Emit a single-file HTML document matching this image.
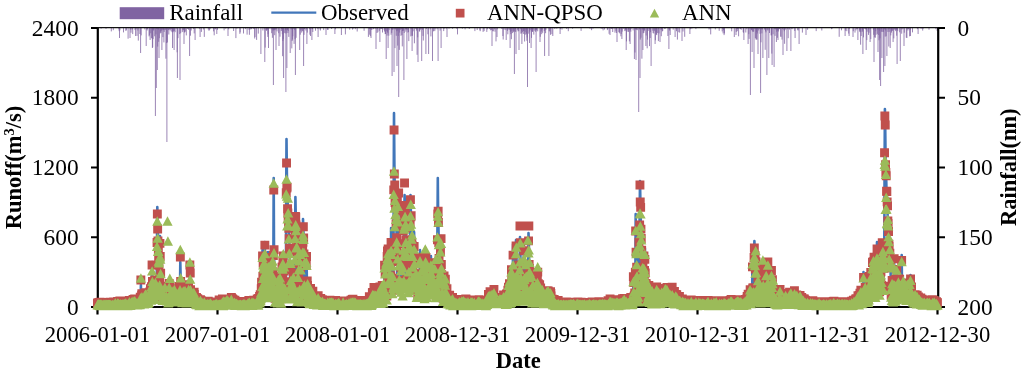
<!DOCTYPE html>
<html><head><meta charset="utf-8"><title>Runoff chart</title>
<style>html,body{margin:0;padding:0;background:#fff;}body{width:1024px;height:375px;overflow:hidden;position:relative}</style>
</head><body>
<svg width="1024" height="375" viewBox="0 0 1024 375" style="position:absolute;left:0;top:0">
<rect width="1024" height="375" fill="#fff"/>
<path d="M101.1 28.0v0.7M106.0 28.0v0.9M111.3 28.0v3.4M113.3 28.0v2.2M118.9 28.0v1.3M119.2 28.0v3.2M119.5 28.0v10.0M119.9 28.0v2.3M123.5 28.0v4.4M125.8 28.0v2.8M126.4 28.0v2.3M128.1 28.0v10.7M130.0 28.0v10.0M130.7 28.0v1.7M131.0 28.0v4.7M132.3 28.0v1.5M132.7 28.0v6.1M135.0 28.0v2.1M135.6 28.0v8.0M136.0 28.0v1.2M137.0 28.0v7.9M137.9 28.0v2.5M138.3 28.0v12.6M139.9 28.0v6.0M140.6 28.0v25.0M141.2 28.0v7.4M144.8 28.0v1.4M146.2 28.0v18.0M146.8 28.0v1.4M147.1 28.0v2.5M147.5 28.0v1.1M149.1 28.0v8.4M149.4 28.0v7.3M150.1 28.0v12.0M150.8 28.0v5.3M151.4 28.0v10.1M152.1 28.0v10.5M152.4 28.0v20.0M152.7 28.0v19.2M153.1 28.0v11.1M153.4 28.0v1.8M153.7 28.0v2.7M154.0 28.0v1.4M154.7 28.0v8.3M155.4 28.0v88.0M156.0 28.0v6.4M156.3 28.0v60.0M156.7 28.0v0.9M157.0 28.0v0.7M157.3 28.0v42.0M157.7 28.0v18.6M158.0 28.0v0.9M158.3 28.0v1.8M158.7 28.0v13.8M159.0 28.0v30.0M159.3 28.0v10.2M160.3 28.0v5.4M160.6 28.0v3.6M161.0 28.0v4.9M161.6 28.0v2.7M161.9 28.0v22.0M162.3 28.0v1.7M162.9 28.0v9.1M163.3 28.0v2.1M163.6 28.0v1.7M163.9 28.0v14.4M164.2 28.0v3.9M164.9 28.0v2.0M165.6 28.0v1.7M165.9 28.0v30.7M166.5 28.0v15.1M166.9 28.0v114.0M167.2 28.0v0.9M167.5 28.0v14.5M168.5 28.0v2.1M168.8 28.0v6.5M169.5 28.0v1.0M169.8 28.0v2.2M170.5 28.0v1.5M171.1 28.0v3.3M171.5 28.0v0.9M172.1 28.0v4.2M172.5 28.0v20.0M172.8 28.0v4.3M173.1 28.0v2.4M173.4 28.0v3.5M174.1 28.0v22.0M174.4 28.0v2.9M175.1 28.0v4.2M176.1 28.0v0.9M177.1 28.0v24.3M177.4 28.0v50.0M178.0 28.0v10.1M179.7 28.0v6.1M180.0 28.0v52.0M180.7 28.0v5.2M182.3 28.0v4.1M183.0 28.0v2.4M183.3 28.0v2.0M184.0 28.0v16.0M184.3 28.0v4.0M184.6 28.0v4.6M185.3 28.0v3.7M186.3 28.0v7.4M187.6 28.0v0.9M188.2 28.0v0.8M188.6 28.0v1.8M189.6 28.0v28.0M190.5 28.0v7.7M191.2 28.0v2.5M193.5 28.0v0.9M194.2 28.0v5.4M195.1 28.0v12.0M199.4 28.0v0.8M200.1 28.0v9.0M201.4 28.0v3.9M203.4 28.0v1.5M204.3 28.0v8.9M208.3 28.0v1.6M209.0 28.0v2.8M209.6 28.0v1.9M210.3 28.0v0.7M213.6 28.0v3.4M213.9 28.0v0.9M214.2 28.0v7.3M215.5 28.0v1.3M216.8 28.0v6.0M217.5 28.0v1.8M224.1 28.0v2.4M225.7 28.0v0.7M228.0 28.0v8.0M228.7 28.0v1.3M233.6 28.0v3.0M235.9 28.0v10.1M236.9 28.0v0.6M239.9 28.0v5.9M240.2 28.0v4.4M243.5 28.0v5.5M245.4 28.0v1.1M247.1 28.0v6.6M249.1 28.0v1.9M249.4 28.0v6.8M250.7 28.0v1.4M251.4 28.0v1.1M253.3 28.0v0.9M254.3 28.0v0.8M254.7 28.0v10.5M255.0 28.0v9.0M256.6 28.0v11.9M258.3 28.0v5.6M260.9 28.0v26.0M262.9 28.0v2.5M264.2 28.0v0.6M264.8 28.0v34.0M265.2 28.0v19.6M266.2 28.0v2.0M266.5 28.0v2.8M266.8 28.0v1.1M267.5 28.0v1.7M267.8 28.0v8.9M268.1 28.0v6.2M268.5 28.0v20.0M269.1 28.0v0.8M271.1 28.0v1.3M271.7 28.0v5.2M272.4 28.0v9.8M272.7 28.0v1.4M273.1 28.0v2.6M273.4 28.0v57.0M273.7 28.0v2.1M274.0 28.0v1.0M274.4 28.0v1.7M274.7 28.0v7.2M275.0 28.0v2.3M275.4 28.0v1.3M276.0 28.0v22.0M276.7 28.0v1.3M277.0 28.0v3.4M278.7 28.0v5.2M279.0 28.0v18.0M280.0 28.0v8.7M281.3 28.0v3.0M281.6 28.0v1.3M282.3 28.0v6.2M282.6 28.0v28.2M282.9 28.0v13.0M283.3 28.0v10.9M283.6 28.0v50.0M284.2 28.0v4.9M285.2 28.0v5.4M285.6 28.0v2.2M285.9 28.0v64.0M286.2 28.0v5.3M286.9 28.0v40.0M287.2 28.0v2.0M287.5 28.0v1.7M287.9 28.0v5.0M288.2 28.0v3.0M288.8 28.0v8.9M290.2 28.0v25.0M291.1 28.0v1.4M291.8 28.0v20.4M292.1 28.0v13.0M292.5 28.0v11.6M292.8 28.0v8.3M293.8 28.0v1.0M294.1 28.0v15.9M294.8 28.0v2.1M295.1 28.0v11.1M295.4 28.0v47.0M296.1 28.0v9.8M299.7 28.0v22.0M300.3 28.0v6.7M300.7 28.0v2.5M301.7 28.0v4.6M302.0 28.0v1.7M302.3 28.0v3.1M303.0 28.0v3.2M303.6 28.0v38.0M304.0 28.0v6.8M304.3 28.0v1.2M304.6 28.0v1.0M305.9 28.0v2.5M306.3 28.0v0.8M306.9 28.0v16.0M307.3 28.0v4.6M309.6 28.0v1.2M309.9 28.0v6.7M310.5 28.0v8.0M311.9 28.0v12.0M312.2 28.0v1.1M312.5 28.0v1.1M312.8 28.0v4.0M315.5 28.0v2.7M317.8 28.0v0.8M318.1 28.0v9.0M320.1 28.0v1.4M320.4 28.0v2.5M323.7 28.0v2.1M326.0 28.0v7.0M327.6 28.0v1.8M328.0 28.0v1.9M331.6 28.0v1.0M334.9 28.0v6.0M335.5 28.0v1.3M341.4 28.0v7.0M345.4 28.0v6.4M349.7 28.0v1.7M352.6 28.0v1.7M353.0 28.0v0.9M355.3 28.0v1.2M357.2 28.0v3.5M364.1 28.0v2.8M368.4 28.0v8.9M369.4 28.0v0.9M369.7 28.0v6.7M370.0 28.0v0.6M370.4 28.0v8.2M370.7 28.0v1.0M371.0 28.0v10.0M371.7 28.0v2.0M373.0 28.0v1.3M373.7 28.0v1.0M374.0 28.0v0.6M375.6 28.0v0.7M376.0 28.0v21.0M377.0 28.0v5.0M377.3 28.0v0.9M377.9 28.0v4.2M379.3 28.0v2.8M379.9 28.0v14.0M380.6 28.0v1.1M381.6 28.0v1.0M382.2 28.0v0.6M382.5 28.0v4.5M384.2 28.0v1.9M384.5 28.0v3.5M385.2 28.0v6.1M385.5 28.0v6.0M386.2 28.0v31.0M386.8 28.0v3.2M387.1 28.0v7.6M387.5 28.0v3.8M387.8 28.0v5.1M388.1 28.0v20.0M388.8 28.0v7.7M389.1 28.0v2.1M391.1 28.0v6.7M391.4 28.0v1.6M391.7 28.0v4.9M392.1 28.0v48.0M392.4 28.0v0.7M392.7 28.0v2.1M393.1 28.0v1.2M394.0 28.0v44.0M394.4 28.0v0.8M395.0 28.0v20.1M395.4 28.0v1.4M396.0 28.0v0.6M396.3 28.0v7.8M396.7 28.0v3.3M397.0 28.0v38.0M397.3 28.0v2.4M397.7 28.0v17.6M398.0 28.0v2.6M398.3 28.0v7.9M398.7 28.0v69.0M399.3 28.0v21.9M399.6 28.0v4.6M400.0 28.0v2.0M400.3 28.0v1.4M401.0 28.0v7.8M401.6 28.0v0.9M401.9 28.0v7.0M402.3 28.0v18.4M402.6 28.0v3.0M402.9 28.0v2.9M403.3 28.0v2.5M403.9 28.0v52.0M404.2 28.0v5.0M405.6 28.0v1.4M405.9 28.0v3.7M406.2 28.0v1.4M406.5 28.0v1.0M406.9 28.0v31.0M407.2 28.0v1.8M407.9 28.0v4.6M408.5 28.0v4.0M408.8 28.0v13.1M410.8 28.0v8.4M411.1 28.0v1.2M411.8 28.0v7.8M412.1 28.0v23.0M412.5 28.0v7.8M413.1 28.0v3.3M414.4 28.0v15.3M415.7 28.0v0.9M416.4 28.0v2.7M416.7 28.0v1.2M417.1 28.0v26.8M417.7 28.0v9.3M418.0 28.0v34.0M419.4 28.0v3.1M419.7 28.0v3.7M420.3 28.0v1.8M421.0 28.0v0.8M421.7 28.0v33.0M422.7 28.0v1.9M423.0 28.0v7.9M423.3 28.0v12.5M425.9 28.0v26.0M426.3 28.0v1.0M427.9 28.0v6.3M428.6 28.0v26.0M430.2 28.0v1.4M430.9 28.0v8.4M432.5 28.0v33.0M433.5 28.0v3.3M434.8 28.0v3.1M435.1 28.0v1.3M437.1 28.0v1.3M438.1 28.0v33.0M440.1 28.0v2.6M441.1 28.0v20.0M443.7 28.0v3.1M444.0 28.0v0.9M446.3 28.0v0.6M447.0 28.0v9.0M449.0 28.0v0.7M452.6 28.0v0.9M456.8 28.0v0.8M457.5 28.0v6.4M462.4 28.0v0.7M465.1 28.0v1.4M469.3 28.0v1.0M474.9 28.0v3.1M477.2 28.0v2.0M479.9 28.0v2.2M480.2 28.0v3.2M483.1 28.0v3.9M483.8 28.0v1.3M484.1 28.0v3.1M486.8 28.0v3.9M487.4 28.0v1.3M489.4 28.0v1.0M490.4 28.0v2.3M491.4 28.0v2.0M492.0 28.0v18.0M492.7 28.0v3.2M493.3 28.0v3.3M494.7 28.0v1.3M495.0 28.0v3.7M496.0 28.0v13.4M497.0 28.0v9.0M497.3 28.0v1.3M501.9 28.0v1.0M502.9 28.0v8.0M503.2 28.0v11.5M504.2 28.0v1.7M505.8 28.0v2.1M506.2 28.0v12.0M507.5 28.0v2.8M507.8 28.0v6.3M508.8 28.0v1.6M509.8 28.0v1.8M510.1 28.0v20.0M510.4 28.0v3.8M510.8 28.0v6.2M511.1 28.0v3.2M511.4 28.0v11.2M512.4 28.0v5.1M513.1 28.0v2.5M513.4 28.0v4.2M514.0 28.0v3.0M514.4 28.0v46.0M515.0 28.0v3.7M515.4 28.0v1.2M515.7 28.0v3.8M516.0 28.0v26.0M517.7 28.0v1.9M518.0 28.0v3.4M518.3 28.0v1.1M518.7 28.0v3.1M519.0 28.0v22.0M520.3 28.0v1.2M521.0 28.0v5.8M521.3 28.0v5.1M521.6 28.0v2.9M521.9 28.0v16.0M522.6 28.0v4.3M523.3 28.0v6.0M523.6 28.0v2.9M523.9 28.0v3.0M524.6 28.0v13.5M524.9 28.0v6.5M525.2 28.0v3.8M525.9 28.0v6.5M526.2 28.0v1.6M526.5 28.0v5.6M526.9 28.0v12.8M527.2 28.0v9.4M527.5 28.0v59.0M528.8 28.0v5.7M529.2 28.0v0.8M529.5 28.0v15.0M529.8 28.0v3.6M530.2 28.0v2.1M531.1 28.0v20.0M531.5 28.0v9.9M531.8 28.0v1.1M532.1 28.0v2.8M532.5 28.0v3.9M532.8 28.0v3.5M533.1 28.0v1.5M533.8 28.0v6.6M534.8 28.0v2.7M535.4 28.0v2.3M535.7 28.0v3.9M536.1 28.0v44.0M536.4 28.0v2.4M536.7 28.0v1.7M537.7 28.0v3.3M540.0 28.0v14.0M540.3 28.0v8.8M541.3 28.0v3.5M541.7 28.0v6.2M542.0 28.0v1.8M542.7 28.0v4.8M544.3 28.0v3.0M544.6 28.0v28.0M545.0 28.0v2.1M545.6 28.0v5.2M545.9 28.0v1.8M548.9 28.0v28.0M549.2 28.0v3.1M549.9 28.0v3.5M550.2 28.0v1.2M550.5 28.0v6.8M551.9 28.0v6.2M552.8 28.0v8.0M554.8 28.0v1.0M556.8 28.0v0.8M560.1 28.0v6.0M560.4 28.0v1.1M562.0 28.0v1.6M566.7 28.0v1.0M568.3 28.0v3.2M572.6 28.0v0.8M581.1 28.0v2.9M590.0 28.0v0.8M591.6 28.0v2.2M593.0 28.0v0.7M601.2 28.0v0.8M602.5 28.0v0.6M603.1 28.0v2.4M604.5 28.0v1.5M607.4 28.0v2.1M607.7 28.0v1.0M609.1 28.0v5.8M610.0 28.0v7.0M611.0 28.0v0.9M611.7 28.0v0.6M612.0 28.0v1.0M612.7 28.0v4.0M614.0 28.0v0.7M615.0 28.0v4.7M616.0 28.0v3.2M616.3 28.0v1.3M616.6 28.0v5.0M617.0 28.0v14.0M618.9 28.0v4.3M619.3 28.0v3.9M619.6 28.0v5.3M619.9 28.0v0.7M620.9 28.0v8.3M621.2 28.0v6.0M621.9 28.0v11.0M622.2 28.0v3.6M623.5 28.0v0.7M624.8 28.0v3.1M625.2 28.0v1.2M625.5 28.0v2.5M625.8 28.0v0.9M626.2 28.0v22.0M626.5 28.0v13.4M627.1 28.0v3.8M628.1 28.0v2.3M628.5 28.0v3.9M628.8 28.0v1.0M629.4 28.0v13.4M630.1 28.0v16.0M630.4 28.0v2.2M630.8 28.0v3.7M631.1 28.0v0.7M633.1 28.0v2.4M634.4 28.0v31.0M635.0 28.0v24.5M635.4 28.0v1.5M636.0 28.0v32.0M636.3 28.0v1.4M636.7 28.0v1.9M637.7 28.0v2.2M638.7 28.0v84.0M639.6 28.0v1.5M640.0 28.0v50.0M640.3 28.0v11.6M641.0 28.0v9.7M641.9 28.0v30.7M642.3 28.0v1.6M642.9 28.0v22.0M643.3 28.0v5.2M643.6 28.0v1.6M643.9 28.0v4.8M644.2 28.0v2.9M644.6 28.0v2.1M645.9 28.0v18.0M646.2 28.0v7.5M647.2 28.0v20.3M647.5 28.0v11.6M648.2 28.0v2.9M649.2 28.0v1.0M649.5 28.0v18.1M649.8 28.0v1.2M650.2 28.0v10.0M650.5 28.0v4.2M651.1 28.0v38.0M652.8 28.0v2.7M653.1 28.0v5.1M653.8 28.0v5.5M654.4 28.0v2.8M655.1 28.0v16.0M655.4 28.0v12.3M656.1 28.0v4.3M656.4 28.0v6.4M656.7 28.0v7.1M657.7 28.0v5.0M658.4 28.0v13.1M658.7 28.0v0.6M659.0 28.0v5.4M660.0 28.0v14.0M661.0 28.0v1.9M661.3 28.0v8.2M661.7 28.0v1.3M662.3 28.0v3.4M662.7 28.0v3.0M664.6 28.0v0.8M665.3 28.0v0.7M667.9 28.0v8.0M668.9 28.0v21.0M669.2 28.0v1.6M669.6 28.0v2.6M670.2 28.0v7.0M673.2 28.0v1.7M675.1 28.0v9.0M676.1 28.0v0.7M676.5 28.0v3.2M677.4 28.0v11.6M678.8 28.0v4.2M679.7 28.0v4.6M682.0 28.0v13.0M683.0 28.0v3.5M684.7 28.0v8.8M689.9 28.0v6.0M690.6 28.0v1.2M691.9 28.0v0.6M695.9 28.0v1.1M709.0 28.0v1.5M710.0 28.0v0.7M710.7 28.0v6.4M715.3 28.0v1.4M719.2 28.0v2.8M722.2 28.0v3.4M722.8 28.0v0.7M723.1 28.0v5.4M723.5 28.0v2.2M724.1 28.0v7.1M724.5 28.0v5.5M731.4 28.0v0.6M731.7 28.0v3.3M734.3 28.0v9.0M736.0 28.0v7.0M736.3 28.0v3.9M737.0 28.0v0.8M737.3 28.0v3.2M737.6 28.0v1.0M738.6 28.0v8.3M738.9 28.0v0.9M740.2 28.0v0.6M740.6 28.0v1.0M741.2 28.0v1.8M743.2 28.0v4.2M743.5 28.0v4.7M743.9 28.0v12.0M745.8 28.0v4.5M746.8 28.0v1.3M748.1 28.0v16.0M748.8 28.0v6.2M749.1 28.0v10.9M750.1 28.0v0.7M750.4 28.0v67.0M751.4 28.0v2.2M751.7 28.0v1.9M752.1 28.0v24.0M752.4 28.0v3.4M753.1 28.0v4.0M753.7 28.0v3.5M754.0 28.0v40.0M754.7 28.0v0.6M755.0 28.0v0.8M755.4 28.0v10.0M756.0 28.0v11.4M756.3 28.0v11.5M756.7 28.0v4.0M757.0 28.0v11.6M757.3 28.0v5.5M757.7 28.0v0.9M758.0 28.0v26.0M758.7 28.0v2.5M759.3 28.0v1.1M760.0 28.0v5.8M760.6 28.0v65.0M761.0 28.0v14.3M761.3 28.0v1.4M761.9 28.0v5.4M762.6 28.0v1.4M762.9 28.0v30.0M764.6 28.0v0.8M764.9 28.0v1.9M765.2 28.0v21.8M765.6 28.0v3.1M765.9 28.0v4.4M766.9 28.0v47.0M767.2 28.0v1.8M767.9 28.0v2.6M768.8 28.0v30.0M769.2 28.0v1.8M769.5 28.0v5.0M771.1 28.0v7.4M771.5 28.0v7.3M771.8 28.0v25.6M772.1 28.0v37.0M773.1 28.0v6.3M774.1 28.0v39.0M774.4 28.0v0.9M775.1 28.0v7.9M775.7 28.0v1.4M776.1 28.0v0.9M776.4 28.0v14.0M776.7 28.0v3.7M777.4 28.0v9.8M777.7 28.0v2.7M778.0 28.0v12.0M778.4 28.0v3.5M778.7 28.0v1.4M779.4 28.0v1.1M779.7 28.0v0.7M780.7 28.0v8.5M781.0 28.0v8.9M782.0 28.0v11.6M782.7 28.0v1.1M783.0 28.0v27.0M784.0 28.0v2.0M784.3 28.0v3.3M784.6 28.0v15.8M785.6 28.0v1.6M786.9 28.0v23.0M787.3 28.0v1.2M788.2 28.0v10.2M788.9 28.0v0.6M789.6 28.0v1.6M790.9 28.0v23.0M791.5 28.0v0.7M792.8 28.0v1.2M794.8 28.0v3.0M795.1 28.0v10.0M797.8 28.0v2.0M798.1 28.0v2.6M799.1 28.0v16.0M802.4 28.0v4.6M806.0 28.0v7.0M807.6 28.0v1.8M816.2 28.0v3.1M821.8 28.0v2.5M831.6 28.0v1.2M832.0 28.0v0.7M839.2 28.0v8.8M841.5 28.0v2.3M845.1 28.0v8.0M845.4 28.0v2.7M846.8 28.0v3.2M848.7 28.0v5.6M849.1 28.0v8.0M849.4 28.0v0.8M853.0 28.0v9.0M853.3 28.0v3.2M855.0 28.0v4.6M856.0 28.0v2.4M856.6 28.0v0.9M857.6 28.0v1.2M857.9 28.0v12.0M859.6 28.0v2.6M859.9 28.0v3.8M860.2 28.0v4.2M860.6 28.0v16.7M861.2 28.0v8.0M862.2 28.0v3.9M862.5 28.0v2.6M862.9 28.0v26.0M863.5 28.0v9.4M864.8 28.0v0.8M865.2 28.0v0.9M865.8 28.0v1.5M866.2 28.0v22.0M866.5 28.0v1.2M866.8 28.0v12.1M867.1 28.0v3.7M868.5 28.0v6.9M868.8 28.0v1.3M869.1 28.0v4.7M870.1 28.0v14.0M870.4 28.0v0.7M870.8 28.0v11.1M873.4 28.0v2.0M873.7 28.0v6.8M874.0 28.0v34.0M874.4 28.0v9.4M875.0 28.0v0.8M875.4 28.0v9.7M875.7 28.0v3.2M876.0 28.0v6.8M877.3 28.0v5.9M877.7 28.0v1.7M878.0 28.0v24.0M878.3 28.0v7.0M879.0 28.0v12.3M879.3 28.0v2.8M879.6 28.0v52.0M880.0 28.0v10.3M880.6 28.0v58.0M881.3 28.0v0.7M881.6 28.0v3.8M881.9 28.0v30.0M882.9 28.0v3.9M883.3 28.0v3.9M883.6 28.0v44.0M884.6 28.0v1.4M884.9 28.0v38.0M885.2 28.0v8.6M885.6 28.0v2.4M886.2 28.0v8.3M886.9 28.0v28.0M887.9 28.0v3.9M888.2 28.0v1.4M888.8 28.0v18.5M889.2 28.0v3.9M889.5 28.0v0.7M890.2 28.0v20.0M890.8 28.0v7.4M891.1 28.0v0.9M891.5 28.0v4.6M891.8 28.0v2.9M892.1 28.0v2.6M892.8 28.0v2.7M893.1 28.0v14.0M893.8 28.0v10.4M894.1 28.0v1.6M894.8 28.0v0.8M895.1 28.0v1.7M895.7 28.0v3.1M896.1 28.0v2.1M896.4 28.0v1.1M896.7 28.0v7.7M897.1 28.0v36.0M897.4 28.0v1.6M897.7 28.0v3.1M899.7 28.0v4.3M900.3 28.0v33.0M901.7 28.0v5.7M902.0 28.0v1.5M903.0 28.0v0.7M904.0 28.0v18.0M904.3 28.0v4.7M906.3 28.0v9.7M906.9 28.0v10.0M907.3 28.0v0.7M907.9 28.0v2.5M908.2 28.0v1.1M908.6 28.0v0.9M909.6 28.0v8.3M910.2 28.0v1.9M910.5 28.0v8.0M912.5 28.0v4.4M917.4 28.0v1.1M918.1 28.0v6.0M921.1 28.0v0.8M922.7 28.0v2.6M923.0 28.0v0.9M929.0 28.0v1.7M935.9 28.0v1.2M937.2 28.0v3.0" stroke="#8064A2" stroke-width="1" stroke-opacity="0.78" fill="none"/>
<g stroke="#000" stroke-width="2.2" fill="none">
<path d="M97.8 27.0 V308.0"/>
<path d="M938.2 27.0 V308.0"/>
<path d="M96.5 307.0 H938.5"/>
<path d="M91.0 28.00H97.5M937.5 28.00H945.0M91.0 97.75H97.5M937.5 97.75H945.0M91.0 167.50H97.5M937.5 167.50H945.0M91.0 237.25H97.5M937.5 237.25H945.0M91.0 307.00H97.5M937.5 307.00H945.0M97.5 307.0V314.5M217.5 307.0V314.5M337.5 307.0V314.5M457.5 307.0V314.5M577.5 307.0V314.5M697.5 307.0V314.5M817.5 307.0V314.5M937.5 307.0V314.5"/>
</g>
<path d="M97.5 27.6H937.5" stroke="#111" stroke-width="1.35"/>
<polyline points="97.5,303.6 97.8,303.5 98.2,303.3 98.5,303.5 98.8,303.6 99.1,303.0 99.5,303.5 99.8,303.6 100.1,303.0 100.5,303.2 100.8,303.5 101.1,303.4 101.4,303.3 101.8,303.5 102.1,303.6 102.4,303.2 102.8,303.2 103.1,303.4 103.4,303.1 103.7,303.3 104.1,302.9 104.4,303.4 104.7,303.4 105.1,303.4 105.4,303.5 105.7,303.4 106.0,303.5 106.4,303.2 106.7,303.0 107.0,303.5 107.4,303.5 107.7,303.5 108.0,303.6 108.3,303.1 108.7,303.4 109.0,303.6 109.3,303.3 109.7,303.5 110.0,303.1 110.3,303.4 110.7,303.6 111.0,303.6 111.3,303.5 111.6,303.5 112.0,303.0 112.3,303.2 112.6,303.5 113.0,303.6 113.3,303.6 113.6,302.9 113.9,303.3 114.3,303.3 114.6,303.5 114.9,303.6 115.3,303.0 115.6,303.0 115.9,303.3 116.2,303.3 116.6,303.3 116.9,303.3 117.2,303.3 117.6,301.9 117.9,302.6 118.2,303.3 118.5,302.4 118.9,303.2 119.2,303.5 119.5,302.9 119.9,302.1 120.2,303.2 120.5,302.5 120.8,303.2 121.2,303.5 121.5,303.6 121.8,303.4 122.2,302.6 122.5,303.0 122.8,302.2 123.1,303.2 123.5,303.4 123.8,303.4 124.1,301.8 124.5,301.5 124.8,303.0 125.1,303.2 125.4,303.3 125.8,302.5 126.1,303.3 126.4,303.5 126.8,303.3 127.1,303.4 127.4,302.1 127.7,302.2 128.1,302.8 128.4,302.6 128.7,302.4 129.1,302.1 129.4,301.5 129.7,303.1 130.0,302.8 130.4,303.3 130.7,303.1 131.0,301.8 131.4,300.8 131.7,301.2 132.0,303.0 132.3,303.1 132.7,303.3 133.0,299.7 133.3,302.4 133.7,303.2 134.0,302.9 134.3,303.2 134.7,299.9 135.0,300.7 135.3,302.8 135.6,302.2 136.0,303.0 136.3,301.5 136.6,302.5 137.0,303.1 137.3,303.1 137.6,301.6 137.9,300.7 138.3,302.1 138.6,300.8 138.9,301.9 139.3,302.7 139.6,302.5 139.9,302.0 140.2,297.8 140.6,298.2 140.9,285.0 141.2,297.7 141.6,295.4 141.9,294.7 142.2,297.3 142.5,301.5 142.9,297.0 143.2,297.1 143.5,301.2 143.9,300.5 144.2,301.8 144.5,295.8 144.8,295.3 145.2,293.9 145.5,294.0 145.8,299.8 146.2,294.6 146.5,299.4 146.8,301.5 147.1,300.0 147.5,298.2 147.8,299.9 148.1,296.4 148.5,295.2 148.8,299.4 149.1,295.5 149.4,298.1 149.8,292.2 150.1,297.8 150.4,290.0 150.8,295.6 151.1,293.4 151.4,290.1 151.7,289.0 152.1,262.0 152.4,281.1 152.7,293.5 153.1,296.2 153.4,292.5 153.7,296.3 154.0,297.0 154.4,286.6 154.7,284.3 155.0,288.0 155.4,281.5 155.7,284.0 156.0,293.1 156.3,289.6 156.7,293.2 157.0,240.8 157.3,207.0 157.7,223.2 158.0,236.2 158.3,248.5 158.7,257.2 159.0,265.0 159.3,286.3 159.6,278.6 160.0,236.0 160.3,256.1 160.6,271.0 161.0,285.9 161.3,290.7 161.6,289.4 161.9,295.1 162.3,289.2 162.6,297.9 162.9,290.9 163.3,296.7 163.6,300.2 163.9,295.8 164.2,296.9 164.6,297.8 164.9,289.5 165.2,297.9 165.6,295.3 165.9,297.1 166.2,296.2 166.5,296.1 166.9,299.8 167.2,296.8 167.5,286.7 167.9,297.3 168.2,300.9 168.5,300.9 168.8,297.7 169.2,283.7 169.5,296.8 169.8,284.7 170.2,292.7 170.5,299.4 170.8,298.2 171.1,299.4 171.5,293.6 171.8,295.2 172.1,298.5 172.5,299.3 172.8,290.9 173.1,291.1 173.4,296.6 173.8,298.1 174.1,293.8 174.4,288.0 174.8,297.5 175.1,300.0 175.4,299.0 175.7,297.5 176.1,299.6 176.4,300.2 176.7,299.9 177.1,298.9 177.4,293.9 177.7,294.8 178.0,299.6 178.4,300.7 178.7,298.4 179.0,289.9 179.4,286.6 179.7,296.4 180.0,289.0 180.3,262.0 180.7,281.0 181.0,293.6 181.3,298.0 181.7,300.7 182.0,297.6 182.3,300.4 182.7,296.7 183.0,293.3 183.3,290.9 183.6,297.6 184.0,301.0 184.3,293.4 184.6,291.7 185.0,289.5 185.3,295.4 185.6,295.8 185.9,299.0 186.3,300.9 186.6,300.6 186.9,295.2 187.3,298.9 187.6,295.4 187.9,297.0 188.2,298.4 188.6,287.8 188.9,297.8 189.2,298.3 189.6,290.6 189.9,266.0 190.2,271.2 190.5,289.8 190.9,296.3 191.2,296.2 191.5,298.0 191.9,300.5 192.2,301.0 192.5,299.6 192.8,297.4 193.2,297.9 193.5,293.2 193.8,292.6 194.2,292.8 194.5,295.0 194.8,298.8 195.1,299.4 195.5,300.3 195.8,300.6 196.1,301.6 196.5,298.2 196.8,300.9 197.1,302.1 197.4,301.3 197.8,299.7 198.1,301.1 198.4,301.8 198.8,300.6 199.1,302.1 199.4,302.6 199.7,301.4 200.1,301.4 200.4,299.7 200.7,301.6 201.1,300.6 201.4,302.5 201.7,303.0 202.0,302.0 202.4,302.8 202.7,303.1 203.0,303.2 203.4,303.0 203.7,303.0 204.0,302.6 204.3,301.5 204.7,302.8 205.0,303.4 205.3,302.9 205.7,303.4 206.0,303.3 206.3,303.4 206.7,303.3 207.0,303.5 207.3,303.1 207.6,302.8 208.0,302.5 208.3,301.8 208.6,303.0 209.0,302.9 209.3,303.2 209.6,303.5 209.9,302.4 210.3,302.5 210.6,302.1 210.9,302.4 211.3,302.2 211.6,303.3 211.9,303.6 212.2,303.6 212.6,303.4 212.9,303.0 213.2,303.3 213.6,303.3 213.9,303.0 214.2,303.5 214.5,303.2 214.9,303.5 215.2,303.6 215.5,303.0 215.9,302.8 216.2,303.2 216.5,303.4 216.8,302.3 217.2,303.1 217.5,303.6 217.8,303.5 218.2,303.5 218.5,301.8 218.8,303.1 219.1,300.6 219.5,302.6 219.8,303.2 220.1,302.3 220.5,302.9 220.8,302.9 221.1,303.2 221.4,302.8 221.8,303.2 222.1,303.2 222.4,299.7 222.8,302.2 223.1,303.0 223.4,301.4 223.7,299.5 224.1,302.2 224.4,302.7 224.7,301.1 225.1,300.2 225.4,301.2 225.7,302.9 226.0,303.2 226.4,300.9 226.7,300.7 227.0,299.4 227.4,299.9 227.7,302.0 228.0,303.1 228.3,299.9 228.7,300.5 229.0,301.5 229.3,301.1 229.7,302.3 230.0,302.8 230.3,301.9 230.7,302.1 231.0,301.0 231.3,299.0 231.6,299.3 232.0,302.0 232.3,302.7 232.6,299.8 233.0,302.1 233.3,301.0 233.6,302.9 233.9,302.9 234.3,302.6 234.6,301.4 234.9,300.9 235.3,303.0 235.6,302.7 235.9,302.5 236.2,303.4 236.6,302.2 236.9,302.8 237.2,301.9 237.6,303.2 237.9,303.3 238.2,303.4 238.5,303.1 238.9,303.0 239.2,303.2 239.5,303.4 239.9,303.3 240.2,303.4 240.5,302.5 240.8,303.1 241.2,303.3 241.5,303.5 241.8,303.5 242.2,302.4 242.5,303.2 242.8,302.6 243.1,302.9 243.5,302.2 243.8,303.3 244.1,302.4 244.5,302.6 244.8,303.0 245.1,302.9 245.4,302.7 245.8,303.2 246.1,302.9 246.4,303.4 246.8,303.6 247.1,302.8 247.4,303.0 247.7,301.9 248.1,303.1 248.4,302.2 248.7,301.1 249.1,301.2 249.4,300.9 249.7,303.0 250.0,303.5 250.4,303.4 250.7,303.2 251.0,303.4 251.4,303.5 251.7,303.5 252.0,300.9 252.3,302.5 252.7,302.2 253.0,302.6 253.3,301.5 253.7,300.8 254.0,302.4 254.3,302.4 254.7,303.1 255.0,303.1 255.3,303.2 255.6,303.0 256.0,302.9 256.3,302.0 256.6,302.6 257.0,302.8 257.3,300.1 257.6,302.4 257.9,303.1 258.3,303.1 258.6,299.3 258.9,300.1 259.3,299.8 259.6,297.2 259.9,301.4 260.2,295.1 260.6,299.1 260.9,297.9 261.2,290.9 261.6,282.0 261.9,295.5 262.2,284.2 262.5,250.0 262.9,275.5 263.2,266.5 263.5,263.6 263.9,282.6 264.2,276.3 264.5,265.7 264.8,242.0 265.2,264.0 265.5,273.7 265.8,287.6 266.2,291.4 266.5,287.1 266.8,282.4 267.1,282.7 267.5,296.8 267.8,285.0 268.1,252.0 268.5,274.1 268.8,267.1 269.1,285.5 269.4,278.6 269.8,294.8 270.1,275.4 270.4,288.9 270.8,275.3 271.1,291.7 271.4,288.4 271.7,275.6 272.1,279.8 272.4,285.3 272.7,267.3 273.1,292.4 273.4,255.4 273.7,178.0 274.0,247.5 274.4,277.7 274.7,290.7 275.0,299.3 275.4,294.5 275.7,292.5 276.0,292.9 276.3,288.4 276.7,296.3 277.0,278.3 277.3,293.6 277.7,300.1 278.0,298.2 278.3,278.1 278.7,295.2 279.0,299.5 279.3,279.9 279.6,293.2 280.0,282.6 280.3,296.3 280.6,280.1 281.0,294.3 281.3,299.8 281.6,285.6 281.9,268.2 282.3,264.5 282.6,275.0 282.9,266.4 283.3,255.9 283.6,279.4 283.9,296.0 284.2,268.5 284.6,284.8 284.9,292.9 285.2,286.5 285.6,295.3 285.9,298.0 286.2,194.4 286.5,139.0 286.9,174.7 287.2,186.4 287.5,199.2 287.9,207.9 288.2,214.9 288.5,221.3 288.8,231.0 289.2,236.4 289.5,246.8 289.8,256.8 290.2,285.0 290.5,268.5 290.8,282.1 291.1,296.5 291.5,285.1 291.8,287.4 292.1,296.8 292.5,296.5 292.8,294.9 293.1,293.6 293.4,275.1 293.8,292.7 294.1,290.9 294.4,280.8 294.8,250.8 295.1,232.3 295.4,197.0 295.7,212.2 296.1,222.5 296.4,242.1 296.7,248.4 297.1,298.1 297.4,297.5 297.7,289.3 298.0,278.0 298.4,289.5 298.7,274.2 299.0,225.0 299.4,262.5 299.7,286.9 300.0,289.6 300.3,261.0 300.7,267.2 301.0,292.5 301.3,299.5 301.7,299.8 302.0,292.1 302.3,292.8 302.7,246.8 303.0,219.0 303.3,227.6 303.6,236.2 304.0,252.8 304.3,286.1 304.6,262.1 305.0,291.5 305.3,299.3 305.6,289.1 305.9,287.3 306.3,263.8 306.6,260.1 306.9,283.2 307.3,281.8 307.6,283.9 307.9,297.9 308.2,292.7 308.6,297.7 308.9,298.8 309.2,300.8 309.6,301.8 309.9,288.8 310.2,290.5 310.5,291.2 310.9,299.1 311.2,299.9 311.5,301.6 311.9,298.0 312.2,293.0 312.5,293.9 312.8,291.8 313.2,300.1 313.5,298.3 313.8,301.8 314.2,300.8 314.5,302.5 314.8,301.1 315.1,300.8 315.5,302.1 315.8,302.5 316.1,300.3 316.5,301.5 316.8,302.3 317.1,303.1 317.4,303.0 317.8,299.5 318.1,297.4 318.4,301.5 318.8,299.4 319.1,298.7 319.4,302.3 319.7,303.1 320.1,301.2 320.4,302.6 320.7,299.2 321.1,301.9 321.4,301.1 321.7,300.9 322.0,302.8 322.4,300.4 322.7,302.4 323.0,303.4 323.4,303.5 323.7,302.9 324.0,302.0 324.3,303.0 324.7,301.1 325.0,302.8 325.3,301.2 325.7,303.0 326.0,303.4 326.3,303.5 326.7,303.0 327.0,303.1 327.3,303.1 327.6,301.2 328.0,302.1 328.3,302.3 328.6,302.9 329.0,301.6 329.3,302.4 329.6,301.8 329.9,300.7 330.3,302.0 330.6,302.9 330.9,303.3 331.3,301.1 331.6,301.4 331.9,301.4 332.2,303.1 332.6,303.1 332.9,301.3 333.2,302.9 333.6,301.8 333.9,302.4 334.2,303.3 334.5,303.3 334.9,303.5 335.2,302.5 335.5,302.0 335.9,303.3 336.2,303.4 336.5,302.1 336.8,303.2 337.2,302.9 337.5,301.8 337.8,302.5 338.2,303.4 338.5,301.5 338.8,301.7 339.1,302.5 339.5,303.2 339.8,302.8 340.1,303.1 340.5,303.5 340.8,303.6 341.1,303.6 341.4,303.5 341.8,303.5 342.1,302.6 342.4,302.6 342.8,302.6 343.1,301.7 343.4,303.2 343.7,303.3 344.1,303.5 344.4,303.2 344.7,303.5 345.1,303.6 345.4,303.6 345.7,303.3 346.0,302.1 346.4,303.1 346.7,302.2 347.0,303.2 347.4,303.4 347.7,303.1 348.0,303.5 348.3,303.2 348.7,302.7 349.0,301.7 349.3,303.2 349.7,302.0 350.0,302.5 350.3,302.6 350.7,303.4 351.0,301.3 351.3,302.8 351.6,302.7 352.0,302.5 352.3,300.4 352.6,301.5 353.0,299.3 353.3,302.3 353.6,301.7 353.9,301.7 354.3,302.0 354.6,301.4 354.9,301.6 355.3,302.6 355.6,301.6 355.9,303.0 356.2,302.6 356.6,302.6 356.9,303.2 357.2,302.5 357.6,301.9 357.9,303.2 358.2,303.4 358.5,303.5 358.9,302.8 359.2,303.4 359.5,303.5 359.9,303.1 360.2,303.0 360.5,303.5 360.8,301.3 361.2,302.9 361.5,302.7 361.8,303.3 362.2,302.7 362.5,303.1 362.8,303.3 363.1,303.0 363.5,302.6 363.8,302.5 364.1,302.1 364.5,303.1 364.8,303.5 365.1,303.5 365.4,303.3 365.8,302.6 366.1,302.9 366.4,303.3 366.8,303.5 367.1,302.7 367.4,303.3 367.7,302.9 368.1,302.0 368.4,301.8 368.7,303.1 369.1,302.9 369.4,297.8 369.7,301.8 370.0,300.0 370.4,301.0 370.7,299.6 371.0,300.9 371.4,302.6 371.7,299.7 372.0,302.0 372.3,293.8 372.7,292.9 373.0,299.3 373.3,299.1 373.7,298.7 374.0,289.5 374.3,299.4 374.7,301.5 375.0,300.3 375.3,294.1 375.6,293.6 376.0,298.5 376.3,301.6 376.6,296.9 377.0,298.8 377.3,301.4 377.6,297.0 377.9,298.4 378.3,300.3 378.6,300.8 378.9,298.4 379.3,300.3 379.6,299.8 379.9,289.3 380.2,296.0 380.6,300.3 380.9,298.2 381.2,289.5 381.6,288.8 381.9,293.3 382.2,287.5 382.5,287.6 382.9,289.1 383.2,294.8 383.5,299.7 383.9,285.4 384.2,285.0 384.5,267.0 384.8,290.2 385.2,274.3 385.5,292.9 385.8,268.8 386.2,256.6 386.5,291.3 386.8,297.3 387.1,261.6 387.5,254.5 387.8,274.7 388.1,246.0 388.5,278.7 388.8,278.4 389.1,259.0 389.4,259.8 389.8,282.0 390.1,268.7 390.4,251.3 390.8,275.4 391.1,228.0 391.4,254.5 391.7,255.1 392.1,283.5 392.4,290.2 392.7,280.1 393.1,290.9 393.4,280.2 393.7,190.5 394.0,113.0 394.4,164.8 394.7,186.0 395.0,198.7 395.4,203.9 395.7,211.2 396.0,220.2 396.3,225.6 396.7,236.7 397.0,244.5 397.3,284.7 397.7,260.2 398.0,190.0 398.3,208.0 398.7,265.6 399.0,259.2 399.3,279.3 399.6,284.0 400.0,287.8 400.3,262.6 400.6,281.1 401.0,267.3 401.3,287.3 401.6,287.0 401.9,284.3 402.3,279.1 402.6,288.9 402.9,267.5 403.3,243.7 403.6,246.8 403.9,285.6 404.2,219.6 404.6,195.0 404.9,207.3 405.2,212.4 405.6,229.8 405.9,239.3 406.2,244.4 406.5,282.4 406.9,286.6 407.2,281.3 407.5,254.3 407.9,255.0 408.2,286.0 408.5,290.5 408.8,265.4 409.2,279.6 409.5,290.0 409.8,246.7 410.2,228.2 410.5,195.0 410.8,208.9 411.1,218.9 411.5,239.9 411.8,249.5 412.1,247.0 412.5,262.0 412.8,269.0 413.1,270.6 413.4,279.0 413.8,277.0 414.1,232.0 414.4,261.2 414.8,277.1 415.1,284.1 415.4,278.3 415.7,285.1 416.1,272.2 416.4,273.1 416.7,291.0 417.1,276.2 417.4,288.6 417.7,294.9 418.0,295.3 418.4,292.8 418.7,287.1 419.0,291.0 419.4,294.2 419.7,277.5 420.0,250.0 420.3,271.2 420.7,288.6 421.0,281.5 421.3,289.1 421.7,272.9 422.0,278.2 422.3,279.4 422.7,292.4 423.0,279.1 423.3,288.6 423.6,278.9 424.0,270.2 424.3,290.3 424.6,295.9 425.0,279.0 425.3,262.8 425.6,264.4 425.9,252.0 426.3,274.6 426.6,288.4 426.9,295.9 427.3,287.2 427.6,286.8 427.9,275.6 428.2,290.2 428.6,290.6 428.9,267.9 429.2,287.4 429.6,291.9 429.9,286.2 430.2,267.3 430.5,286.6 430.9,256.0 431.2,268.7 431.5,284.6 431.9,293.5 432.2,290.0 432.5,285.4 432.8,289.6 433.2,287.8 433.5,282.0 433.8,269.4 434.2,280.1 434.5,288.9 434.8,259.6 435.1,285.7 435.5,295.2 435.8,260.4 436.1,283.8 436.5,293.8 436.8,288.9 437.1,288.8 437.4,235.5 437.8,178.0 438.1,211.6 438.4,223.9 438.8,245.2 439.1,256.4 439.4,277.6 439.7,288.8 440.1,267.5 440.4,248.8 440.7,275.3 441.1,236.0 441.4,265.9 441.7,275.4 442.0,283.9 442.4,292.8 442.7,295.1 443.0,299.1 443.4,298.7 443.7,277.4 444.0,276.3 444.3,296.5 444.7,298.6 445.0,288.6 445.3,282.5 445.7,292.4 446.0,291.7 446.3,299.3 446.7,292.8 447.0,290.7 447.3,298.3 447.6,301.5 448.0,302.4 448.3,299.1 448.6,298.8 449.0,302.2 449.3,301.2 449.6,296.4 449.9,301.5 450.3,302.9 450.6,303.0 450.9,302.0 451.3,302.1 451.6,298.3 451.9,302.1 452.2,303.1 452.6,298.1 452.9,302.1 453.2,303.1 453.6,302.6 453.9,303.3 454.2,303.1 454.5,301.7 454.9,301.4 455.2,301.5 455.5,301.2 455.9,301.4 456.2,303.2 456.5,301.7 456.8,301.7 457.2,303.1 457.5,302.9 457.8,303.2 458.2,300.2 458.5,302.5 458.8,303.5 459.1,300.9 459.5,300.6 459.8,300.0 460.1,301.1 460.5,302.6 460.8,302.7 461.1,302.3 461.4,302.1 461.8,299.8 462.1,302.5 462.4,301.4 462.8,303.1 463.1,303.5 463.4,300.4 463.7,302.6 464.1,302.8 464.4,300.5 464.7,301.5 465.1,302.6 465.4,301.9 465.7,300.0 466.0,299.9 466.4,302.8 466.7,303.5 467.0,303.4 467.4,303.5 467.7,301.8 468.0,301.0 468.3,303.0 468.7,303.6 469.0,303.3 469.3,302.2 469.7,301.5 470.0,302.6 470.3,302.3 470.7,300.8 471.0,300.7 471.3,303.0 471.6,302.2 472.0,301.5 472.3,300.8 472.6,302.6 473.0,303.4 473.3,303.0 473.6,303.1 473.9,303.1 474.3,301.7 474.6,302.0 474.9,302.1 475.3,302.2 475.6,303.3 475.9,303.6 476.2,303.2 476.6,301.6 476.9,302.1 477.2,301.7 477.6,302.2 477.9,301.8 478.2,300.6 478.5,301.7 478.9,301.4 479.2,300.7 479.5,301.7 479.9,301.6 480.2,303.2 480.5,303.6 480.8,301.5 481.2,303.0 481.5,303.4 481.8,303.5 482.2,302.7 482.5,303.4 482.8,302.0 483.1,303.0 483.5,302.2 483.8,301.2 484.1,301.9 484.5,302.9 484.8,302.6 485.1,301.6 485.4,301.9 485.8,303.2 486.1,303.6 486.4,301.7 486.8,302.2 487.1,303.3 487.4,302.2 487.7,300.9 488.1,301.8 488.4,295.8 488.7,299.9 489.1,301.7 489.4,301.1 489.7,300.7 490.0,293.2 490.4,295.4 490.7,300.8 491.0,300.5 491.4,301.5 491.7,296.8 492.0,292.8 492.3,300.0 492.7,299.5 493.0,300.9 493.3,301.2 493.7,296.0 494.0,290.0 494.3,298.9 494.7,299.4 495.0,300.9 495.3,302.2 495.6,299.6 496.0,301.8 496.3,299.3 496.6,298.3 497.0,301.9 497.3,300.8 497.6,302.2 497.9,299.2 498.3,301.6 498.6,299.9 498.9,299.7 499.3,300.3 499.6,302.2 499.9,298.5 500.2,301.1 500.6,299.0 500.9,300.7 501.2,301.5 501.6,299.5 501.9,301.5 502.2,299.1 502.5,300.9 502.9,299.2 503.2,299.1 503.5,296.4 503.9,300.5 504.2,302.0 504.5,296.3 504.8,299.8 505.2,301.4 505.5,299.0 505.8,301.3 506.2,294.5 506.5,295.2 506.8,297.1 507.1,300.5 507.5,294.8 507.8,290.2 508.1,291.3 508.5,286.9 508.8,298.0 509.1,291.3 509.4,282.6 509.8,292.2 510.1,299.7 510.4,293.5 510.8,297.4 511.1,300.3 511.4,272.8 511.7,272.0 512.1,283.2 512.4,280.2 512.7,281.8 513.1,244.0 513.4,279.9 513.7,283.5 514.0,292.3 514.4,288.1 514.7,295.3 515.0,299.3 515.4,296.9 515.7,280.2 516.0,240.0 516.3,246.7 516.7,274.4 517.0,287.3 517.3,292.8 517.7,292.3 518.0,288.8 518.3,297.7 518.7,268.8 519.0,283.3 519.3,297.4 519.6,265.9 520.0,237.0 520.3,244.0 520.6,274.8 521.0,285.7 521.3,294.2 521.6,292.1 521.9,294.5 522.3,297.6 522.6,294.7 522.9,293.3 523.3,283.6 523.6,282.6 523.9,246.0 524.2,276.0 524.6,278.0 524.9,287.8 525.2,288.0 525.6,265.7 525.9,291.2 526.2,273.7 526.5,293.2 526.9,299.4 527.2,286.5 527.5,296.1 527.9,289.4 528.2,277.4 528.5,233.0 528.8,240.4 529.2,264.2 529.5,266.6 529.8,274.1 530.2,290.3 530.5,289.0 530.8,296.3 531.1,296.3 531.5,277.2 531.8,293.1 532.1,300.4 532.5,300.7 532.8,294.0 533.1,284.8 533.4,283.6 533.8,292.8 534.1,298.9 534.4,300.7 534.8,300.2 535.1,300.3 535.4,280.5 535.7,292.6 536.1,300.2 536.4,291.8 536.7,294.4 537.1,300.2 537.4,277.2 537.7,272.9 538.0,294.5 538.4,284.2 538.7,292.8 539.0,289.8 539.4,289.0 539.7,286.4 540.0,294.3 540.3,300.4 540.7,289.0 541.0,296.1 541.3,298.8 541.7,294.0 542.0,295.6 542.3,289.5 542.7,298.0 543.0,297.6 543.3,301.1 543.6,302.1 544.0,301.6 544.3,301.3 544.6,300.0 545.0,301.2 545.3,291.9 545.6,297.7 545.9,300.1 546.3,292.4 546.6,292.7 546.9,293.7 547.3,290.9 547.6,293.7 547.9,299.7 548.2,291.2 548.6,299.3 548.9,292.9 549.2,298.0 549.6,300.5 549.9,299.5 550.2,299.9 550.5,293.3 550.9,292.7 551.2,294.8 551.5,300.7 551.9,301.1 552.2,302.5 552.5,300.1 552.8,302.7 553.2,302.9 553.5,303.2 553.8,301.1 554.2,300.2 554.5,302.6 554.8,301.2 555.1,302.9 555.5,302.2 555.8,303.1 556.1,303.1 556.5,302.6 556.8,303.1 557.1,303.4 557.4,302.9 557.8,302.3 558.1,301.7 558.4,303.1 558.8,303.5 559.1,303.6 559.4,303.6 559.7,303.6 560.1,303.6 560.4,303.1 560.7,303.5 561.1,303.3 561.4,303.5 561.7,303.5 562.0,303.4 562.4,303.4 562.7,303.4 563.0,303.6 563.4,303.3 563.7,302.8 564.0,303.4 564.3,303.6 564.7,303.3 565.0,303.5 565.3,303.5 565.7,302.7 566.0,303.3 566.3,302.8 566.7,303.1 567.0,303.5 567.3,303.6 567.6,303.6 568.0,303.4 568.3,302.8 568.6,303.4 569.0,303.6 569.3,303.6 569.6,303.5 569.9,303.6 570.3,302.8 570.6,302.9 570.9,302.7 571.3,303.1 571.6,302.9 571.9,303.0 572.2,303.4 572.6,303.2 572.9,303.5 573.2,303.4 573.6,303.0 573.9,303.4 574.2,303.6 574.5,303.0 574.9,303.3 575.2,303.5 575.5,303.5 575.9,303.5 576.2,302.9 576.5,303.2 576.8,302.8 577.2,303.2 577.5,302.8 577.8,302.7 578.2,303.2 578.5,303.0 578.8,303.4 579.1,303.6 579.5,303.3 579.8,303.5 580.1,303.4 580.5,303.2 580.8,303.0 581.1,302.8 581.4,303.4 581.8,302.9 582.1,303.2 582.4,303.2 582.8,303.4 583.1,302.9 583.4,303.4 583.7,303.6 584.1,303.0 584.4,303.1 584.7,303.1 585.1,303.5 585.4,303.6 585.7,303.3 586.0,303.0 586.4,303.1 586.7,303.2 587.0,303.2 587.4,303.5 587.7,303.4 588.0,303.5 588.3,303.1 588.7,303.3 589.0,303.1 589.3,303.1 589.7,302.8 590.0,302.8 590.3,303.4 590.7,303.2 591.0,303.4 591.3,303.6 591.6,303.4 592.0,302.9 592.3,302.9 592.6,303.5 593.0,303.6 593.3,303.2 593.6,302.7 593.9,303.4 594.3,303.6 594.6,303.2 594.9,303.2 595.3,302.9 595.6,303.4 595.9,303.4 596.2,303.0 596.6,303.4 596.9,303.5 597.2,303.6 597.6,303.0 597.9,303.3 598.2,303.5 598.5,303.2 598.9,302.9 599.2,302.8 599.5,303.3 599.9,303.3 600.2,303.4 600.5,302.9 600.8,302.8 601.2,303.0 601.5,302.8 601.8,303.1 602.2,303.2 602.5,303.5 602.8,303.0 603.1,303.4 603.5,303.2 603.8,303.5 604.1,303.4 604.5,303.0 604.8,302.9 605.1,303.0 605.4,303.4 605.8,302.9 606.1,302.7 606.4,302.8 606.8,303.2 607.1,303.4 607.4,302.9 607.7,303.4 608.1,301.6 608.4,302.8 608.7,303.3 609.1,303.0 609.4,303.3 609.7,301.3 610.0,300.1 610.4,300.7 610.7,302.0 611.0,300.3 611.4,302.4 611.7,302.7 612.0,303.2 612.3,302.8 612.7,300.1 613.0,301.0 613.3,301.9 613.7,302.1 614.0,301.6 614.3,301.5 614.7,302.2 615.0,302.1 615.3,303.1 615.6,302.5 616.0,301.1 616.3,302.7 616.6,303.1 617.0,300.7 617.3,302.7 617.6,303.3 617.9,301.2 618.3,302.9 618.6,303.3 618.9,301.1 619.3,302.6 619.6,301.9 619.9,302.0 620.2,303.2 620.6,303.4 620.9,301.1 621.2,302.5 621.6,302.8 621.9,300.1 622.2,302.4 622.5,299.3 622.9,300.5 623.2,301.0 623.5,302.6 623.9,301.2 624.2,299.0 624.5,301.3 624.8,302.7 625.2,302.8 625.5,302.9 625.8,302.2 626.2,299.5 626.5,302.3 626.8,302.5 627.1,302.4 627.5,302.5 627.8,302.2 628.1,302.1 628.5,303.0 628.8,301.5 629.1,302.2 629.4,302.8 629.8,299.9 630.1,300.5 630.4,302.6 630.8,298.9 631.1,300.5 631.4,302.1 631.7,302.6 632.1,302.7 632.4,301.9 632.7,300.9 633.1,299.4 633.4,275.9 633.7,284.1 634.0,297.0 634.4,295.6 634.7,292.2 635.0,298.1 635.4,269.8 635.7,214.0 636.0,256.7 636.3,246.0 636.7,265.5 637.0,272.7 637.3,293.1 637.7,284.8 638.0,287.1 638.3,296.3 638.7,299.1 639.0,248.4 639.3,286.1 639.6,222.0 640.0,181.0 640.3,197.0 640.6,211.9 641.0,230.7 641.3,242.8 641.6,249.3 641.9,268.4 642.3,286.9 642.6,274.9 642.9,269.8 643.3,292.7 643.6,277.4 643.9,256.9 644.2,272.1 644.6,271.1 644.9,248.0 645.2,271.3 645.6,281.5 645.9,291.1 646.2,283.7 646.5,287.3 646.9,297.9 647.2,300.3 647.5,299.0 647.9,284.7 648.2,295.9 648.5,298.5 648.8,285.4 649.2,296.9 649.5,299.4 649.8,299.5 650.2,300.6 650.5,290.3 650.8,296.8 651.1,298.0 651.5,298.8 651.8,300.8 652.1,288.9 652.5,298.1 652.8,300.3 653.1,293.3 653.4,298.0 653.8,297.8 654.1,299.5 654.4,297.4 654.8,299.7 655.1,299.2 655.4,301.3 655.7,301.9 656.1,299.4 656.4,294.1 656.7,289.1 657.1,292.5 657.4,297.8 657.7,297.4 658.0,296.7 658.4,295.8 658.7,290.7 659.0,298.8 659.4,300.3 659.7,296.1 660.0,300.6 660.3,302.2 660.7,294.8 661.0,300.6 661.3,294.8 661.7,292.3 662.0,300.0 662.3,296.6 662.7,300.1 663.0,301.3 663.3,291.3 663.6,290.7 664.0,293.4 664.3,298.4 664.6,289.8 665.0,295.3 665.3,289.0 665.6,292.5 665.9,300.1 666.3,293.6 666.6,290.5 666.9,289.0 667.3,294.2 667.6,300.3 667.9,291.6 668.2,297.0 668.6,300.6 668.9,301.0 669.2,301.0 669.6,292.7 669.9,299.3 670.2,290.2 670.5,298.7 670.9,294.9 671.2,299.3 671.5,298.2 671.9,300.4 672.2,290.9 672.5,298.9 672.8,299.3 673.2,297.2 673.5,298.9 673.8,301.1 674.2,301.2 674.5,293.3 674.8,300.0 675.1,302.2 675.5,295.4 675.8,294.6 676.1,297.6 676.5,300.2 676.8,295.5 677.1,299.8 677.4,302.3 677.8,301.5 678.1,300.6 678.4,300.4 678.8,297.1 679.1,301.4 679.4,298.3 679.7,300.2 680.1,299.4 680.4,301.2 680.7,302.3 681.1,302.3 681.4,302.5 681.7,302.0 682.0,301.2 682.4,299.6 682.7,302.3 683.0,302.5 683.4,302.1 683.7,300.6 684.0,301.1 684.3,301.9 684.7,301.9 685.0,302.7 685.3,301.6 685.7,301.1 686.0,302.2 686.3,303.3 686.7,303.1 687.0,303.3 687.3,303.5 687.6,303.4 688.0,301.7 688.3,302.8 688.6,303.1 689.0,303.1 689.3,303.4 689.6,302.8 689.9,303.0 690.3,301.1 690.6,302.0 690.9,300.7 691.3,300.9 691.6,302.5 691.9,303.5 692.2,303.5 692.6,303.6 692.9,302.2 693.2,303.2 693.6,302.5 693.9,303.1 694.2,303.0 694.5,302.0 694.9,303.0 695.2,303.5 695.5,303.4 695.9,301.2 696.2,302.3 696.5,303.2 696.8,303.5 697.2,303.6 697.5,303.4 697.8,302.6 698.2,302.9 698.5,301.8 698.8,300.6 699.1,302.2 699.5,303.2 699.8,302.0 700.1,303.2 700.5,302.2 700.8,301.3 701.1,301.7 701.4,303.2 701.8,302.8 702.1,301.8 702.4,302.8 702.8,301.7 703.1,303.1 703.4,303.0 703.7,302.7 704.1,301.9 704.4,302.9 704.7,303.4 705.1,302.4 705.4,303.3 705.7,303.3 706.0,303.0 706.4,302.0 706.7,302.8 707.0,302.8 707.4,302.3 707.7,302.2 708.0,301.0 708.3,302.5 708.7,302.7 709.0,303.4 709.3,303.5 709.7,303.5 710.0,303.5 710.3,303.0 710.7,303.4 711.0,302.8 711.3,301.7 711.6,303.2 712.0,303.5 712.3,303.0 712.6,303.5 713.0,303.6 713.3,302.8 713.6,303.1 713.9,301.4 714.3,302.3 714.6,302.0 714.9,303.0 715.3,303.2 715.6,301.7 715.9,302.2 716.2,301.2 716.6,302.9 716.9,303.5 717.2,302.5 717.6,303.3 717.9,303.6 718.2,303.3 718.5,302.3 718.9,303.0 719.2,302.1 719.5,302.8 719.9,303.3 720.2,302.9 720.5,302.5 720.8,303.3 721.2,302.7 721.5,303.3 721.8,301.0 722.2,302.3 722.5,303.3 722.8,303.6 723.1,303.5 723.5,303.4 723.8,302.7 724.1,302.2 724.5,302.0 724.8,302.8 725.1,302.5 725.4,302.6 725.8,303.2 726.1,303.4 726.4,303.2 726.8,302.2 727.1,303.2 727.4,302.5 727.7,303.3 728.1,303.5 728.4,302.4 728.7,301.5 729.1,301.5 729.4,301.9 729.7,303.1 730.0,300.7 730.4,301.9 730.7,300.9 731.0,300.4 731.4,302.8 731.7,300.7 732.0,302.8 732.3,302.4 732.7,303.1 733.0,303.5 733.3,302.6 733.7,303.2 734.0,301.6 734.3,302.4 734.7,303.2 735.0,303.4 735.3,302.0 735.6,301.9 736.0,301.1 736.3,302.5 736.6,300.6 737.0,302.7 737.3,300.6 737.6,300.8 737.9,302.9 738.3,300.0 738.6,302.5 738.9,301.5 739.3,302.8 739.6,301.8 739.9,300.5 740.2,302.7 740.6,303.1 740.9,300.4 741.2,301.9 741.6,303.1 741.9,303.3 742.2,303.3 742.5,303.3 742.9,302.9 743.2,301.0 743.5,302.1 743.9,303.1 744.2,302.9 744.5,302.2 744.8,302.0 745.2,300.8 745.5,300.0 745.8,299.1 746.2,300.4 746.5,302.3 746.8,298.7 747.1,297.2 747.5,297.5 747.8,300.1 748.1,295.4 748.5,300.6 748.8,297.4 749.1,297.8 749.4,296.7 749.8,300.8 750.1,290.4 750.4,297.6 750.8,301.0 751.1,294.6 751.4,289.5 751.7,297.2 752.1,297.7 752.4,265.6 752.7,288.6 753.1,292.7 753.4,298.4 753.7,288.4 754.0,262.4 754.4,241.0 754.7,250.6 755.0,256.9 755.4,269.5 755.7,257.2 756.0,267.2 756.3,293.0 756.7,299.8 757.0,296.7 757.3,289.1 757.7,295.3 758.0,275.0 758.3,292.3 758.7,299.3 759.0,288.2 759.3,278.6 759.6,294.7 760.0,297.2 760.3,297.9 760.6,299.8 761.0,287.1 761.3,297.0 761.6,290.0 761.9,286.8 762.3,290.1 762.6,289.0 762.9,262.0 763.3,278.6 763.6,292.4 763.9,298.9 764.2,300.6 764.6,283.4 764.9,293.8 765.2,285.5 765.6,296.2 765.9,298.9 766.2,276.7 766.5,294.0 766.9,296.4 767.2,293.3 767.5,285.2 767.9,265.0 768.2,284.0 768.5,296.7 768.8,288.0 769.2,297.8 769.5,300.2 769.8,300.7 770.2,300.8 770.5,285.6 770.8,291.9 771.1,283.4 771.5,272.9 771.8,295.0 772.1,289.0 772.5,280.3 772.8,296.1 773.1,301.2 773.4,299.1 773.8,297.9 774.1,296.1 774.4,298.0 774.8,301.0 775.1,302.2 775.4,302.0 775.7,301.7 776.1,302.6 776.4,302.5 776.7,298.8 777.1,300.8 777.4,302.4 777.7,299.9 778.0,301.2 778.4,300.6 778.7,301.0 779.0,302.2 779.4,297.7 779.7,298.4 780.0,291.7 780.3,299.9 780.7,299.4 781.0,300.1 781.3,300.4 781.7,297.0 782.0,300.7 782.3,301.0 782.7,302.0 783.0,299.5 783.3,300.0 783.6,302.0 784.0,302.0 784.3,301.0 784.6,299.5 785.0,301.7 785.3,298.8 785.6,295.0 785.9,299.9 786.3,302.2 786.6,302.3 786.9,296.7 787.3,298.5 787.6,301.7 787.9,302.2 788.2,295.5 788.6,296.3 788.9,296.7 789.2,301.1 789.6,292.4 789.9,299.4 790.2,301.3 790.5,301.7 790.9,293.3 791.2,296.4 791.5,298.7 791.9,300.3 792.2,297.1 792.5,299.3 792.8,300.1 793.2,301.8 793.5,295.7 793.8,300.7 794.2,294.1 794.5,291.9 794.8,297.8 795.1,301.7 795.5,302.1 795.8,302.3 796.1,298.5 796.5,300.8 796.8,294.8 797.1,300.2 797.4,302.0 797.8,299.8 798.1,297.3 798.4,300.1 798.8,302.4 799.1,302.7 799.4,299.7 799.7,298.5 800.1,295.6 800.4,299.4 800.7,298.6 801.1,299.2 801.4,300.6 801.7,298.9 802.0,302.0 802.4,303.0 802.7,302.8 803.0,302.6 803.4,299.2 803.7,299.7 804.0,300.8 804.3,300.3 804.7,302.5 805.0,300.6 805.3,300.5 805.7,302.9 806.0,303.2 806.3,303.3 806.7,303.5 807.0,301.3 807.3,302.7 807.6,301.7 808.0,302.3 808.3,303.4 808.6,303.2 809.0,302.2 809.3,303.1 809.6,303.4 809.9,303.6 810.3,303.2 810.6,301.7 810.9,303.2 811.3,302.1 811.6,302.6 811.9,303.3 812.2,302.2 812.6,301.8 812.9,301.7 813.2,302.9 813.6,303.3 813.9,302.9 814.2,302.3 814.5,303.2 814.9,303.4 815.2,303.4 815.5,303.6 815.9,302.7 816.2,303.1 816.5,303.3 816.8,303.1 817.2,302.7 817.5,302.8 817.8,303.3 818.2,303.5 818.5,303.5 818.8,303.2 819.1,302.7 819.5,303.4 819.8,303.2 820.1,302.6 820.5,303.0 820.8,303.3 821.1,303.3 821.4,303.2 821.8,303.1 822.1,303.5 822.4,302.8 822.8,303.0 823.1,303.4 823.4,302.5 823.7,303.2 824.1,302.8 824.4,303.3 824.7,303.2 825.1,303.5 825.4,303.5 825.7,303.5 826.0,303.6 826.4,302.9 826.7,303.2 827.0,303.4 827.4,303.2 827.7,303.4 828.0,303.4 828.3,303.2 828.7,303.1 829.0,303.3 829.3,302.9 829.7,302.5 830.0,302.1 830.3,302.9 830.7,302.3 831.0,302.1 831.3,302.8 831.6,303.5 832.0,303.1 832.3,303.1 832.6,302.9 833.0,303.4 833.3,302.3 833.6,303.1 833.9,302.2 834.3,303.2 834.6,303.3 834.9,303.0 835.3,303.4 835.6,303.4 835.9,303.0 836.2,302.8 836.6,302.3 836.9,303.0 837.2,302.3 837.6,303.2 837.9,303.1 838.2,302.8 838.5,303.4 838.9,302.8 839.2,302.6 839.5,303.0 839.9,302.4 840.2,302.7 840.5,303.3 840.8,302.7 841.2,303.1 841.5,303.0 841.8,302.2 842.2,302.7 842.5,302.7 842.8,302.6 843.1,303.4 843.5,303.6 843.8,303.6 844.1,303.4 844.5,302.3 844.8,303.1 845.1,302.4 845.4,303.2 845.8,303.6 846.1,303.4 846.4,302.6 846.8,302.1 847.1,303.0 847.4,303.4 847.7,302.8 848.1,303.2 848.4,303.5 848.7,302.9 849.1,303.4 849.4,302.8 849.7,302.2 850.0,303.3 850.4,302.7 850.7,303.4 851.0,303.6 851.4,303.5 851.7,301.4 852.0,303.0 852.3,303.1 852.7,303.0 853.0,303.3 853.3,300.7 853.7,302.6 854.0,300.9 854.3,301.9 854.7,301.5 855.0,301.1 855.3,301.1 855.6,300.1 856.0,298.9 856.3,302.2 856.6,303.1 857.0,302.1 857.3,302.8 857.6,301.0 857.9,296.4 858.3,299.7 858.6,302.3 858.9,302.8 859.3,300.6 859.6,297.1 859.9,294.8 860.2,294.7 860.6,298.5 860.9,292.1 861.2,296.1 861.6,294.9 861.9,300.4 862.2,298.6 862.5,301.0 862.9,301.2 863.2,293.0 863.5,272.0 863.9,290.8 864.2,293.6 864.5,297.3 864.8,300.2 865.2,285.7 865.5,290.4 865.8,297.8 866.2,300.5 866.5,297.1 866.8,289.3 867.1,293.7 867.5,298.1 867.8,300.1 868.1,299.8 868.5,287.5 868.8,296.8 869.1,278.6 869.4,283.2 869.8,294.1 870.1,295.6 870.4,292.2 870.8,272.5 871.1,290.1 871.4,294.9 871.7,295.7 872.1,280.1 872.4,262.7 872.7,279.3 873.1,254.0 873.4,263.9 873.7,277.0 874.0,261.2 874.4,283.3 874.7,293.6 875.0,294.8 875.4,293.0 875.7,288.8 876.0,273.7 876.3,283.2 876.7,281.0 877.0,242.0 877.3,275.5 877.7,280.1 878.0,268.0 878.3,272.6 878.7,288.5 879.0,257.3 879.3,283.6 879.6,292.4 880.0,276.0 880.3,275.3 880.6,287.7 881.0,271.9 881.3,287.1 881.6,283.6 881.9,250.4 882.3,246.9 882.6,268.3 882.9,261.0 883.3,266.5 883.6,285.1 883.9,258.3 884.2,267.6 884.6,165.2 884.9,109.0 885.2,125.0 885.6,161.5 885.9,171.2 886.2,178.7 886.5,190.5 886.9,197.7 887.2,204.0 887.5,212.8 887.9,221.4 888.2,228.2 888.5,235.6 888.8,244.0 889.2,252.9 889.5,258.1 889.8,254.7 890.2,267.6 890.5,259.9 890.8,289.5 891.1,295.5 891.5,290.3 891.8,296.9 892.1,279.8 892.5,293.5 892.8,298.7 893.1,298.8 893.4,285.4 893.8,287.4 894.1,258.0 894.4,284.8 894.8,281.9 895.1,295.2 895.4,298.8 895.7,282.3 896.1,288.3 896.4,297.7 896.7,270.0 897.1,289.0 897.4,294.8 897.7,284.8 898.0,288.7 898.4,281.3 898.7,288.4 899.0,294.9 899.4,292.0 899.7,283.1 900.0,292.7 900.3,289.9 900.7,289.8 901.0,287.5 901.3,286.2 901.7,255.0 902.0,289.6 902.3,283.0 902.7,290.6 903.0,296.0 903.3,286.5 903.6,290.5 904.0,289.2 904.3,295.6 904.6,288.1 905.0,293.6 905.3,285.4 905.6,294.2 905.9,297.8 906.3,296.8 906.6,290.4 906.9,289.0 907.3,285.9 907.6,294.9 907.9,293.2 908.2,296.8 908.6,297.4 908.9,297.8 909.2,292.6 909.6,285.0 909.9,290.2 910.2,292.0 910.5,275.0 910.9,292.7 911.2,296.0 911.5,289.7 911.9,298.0 912.2,293.7 912.5,299.1 912.8,299.3 913.2,300.2 913.5,298.6 913.8,300.1 914.2,301.0 914.5,299.0 914.8,299.3 915.1,295.1 915.5,300.2 915.8,297.8 916.1,300.9 916.5,300.0 916.8,301.6 917.1,295.7 917.4,299.3 917.8,300.7 918.1,302.1 918.4,299.1 918.8,301.5 919.1,301.6 919.4,299.9 919.7,299.2 920.1,301.6 920.4,302.8 920.7,298.8 921.1,301.9 921.4,303.1 921.7,302.0 922.0,300.4 922.4,302.7 922.7,303.3 923.0,301.9 923.4,302.0 923.7,302.9 924.0,303.2 924.3,301.5 924.7,302.9 925.0,303.3 925.3,303.0 925.7,301.5 926.0,302.7 926.3,303.4 926.7,301.8 927.0,301.7 927.3,303.1 927.6,301.9 928.0,302.0 928.3,302.9 928.6,302.5 929.0,302.6 929.3,301.6 929.6,300.4 929.9,302.6 930.3,303.5 930.6,303.2 930.9,302.4 931.3,303.1 931.6,303.4 931.9,303.3 932.2,300.9 932.6,301.1 932.9,302.9 933.2,303.1 933.6,303.1 933.9,303.2 934.2,300.7 934.5,302.5 934.9,302.3 935.2,302.8 935.5,303.3 935.9,303.4 936.2,302.2 936.5,302.2 936.8,302.8 937.2,303.4 937.5,303.3" fill="none" stroke="#4277BA" stroke-width="2.6" stroke-linejoin="round" stroke-linecap="round"/>
<path d="M93.0 298.9h8.9v8.9h-8.9zM93.4 298.3h8.9v8.9h-8.9zM93.7 298.9h8.9v8.9h-8.9zM94.0 298.8h8.9v8.9h-8.9zM94.4 298.4h8.9v8.9h-8.9zM94.7 298.0h8.9v8.9h-8.9zM95.0 298.5h8.9v8.9h-8.9zM95.4 298.6h8.9v8.9h-8.9zM95.7 297.8h8.9v8.9h-8.9zM96.0 298.3h8.9v8.9h-8.9zM96.3 299.0h8.9v8.9h-8.9zM96.7 298.4h8.9v8.9h-8.9zM97.0 299.2h8.9v8.9h-8.9zM97.3 299.1h8.9v8.9h-8.9zM97.7 298.3h8.9v8.9h-8.9zM98.0 298.0h8.9v8.9h-8.9zM98.3 298.4h8.9v8.9h-8.9zM98.6 298.5h8.9v8.9h-8.9zM99.0 298.2h8.9v8.9h-8.9zM99.3 298.1h8.9v8.9h-8.9zM99.6 298.2h8.9v8.9h-8.9zM100.0 298.7h8.9v8.9h-8.9zM100.3 298.6h8.9v8.9h-8.9zM100.6 298.5h8.9v8.9h-8.9zM100.9 298.5h8.9v8.9h-8.9zM101.3 298.5h8.9v8.9h-8.9zM101.6 298.4h8.9v8.9h-8.9zM101.9 298.5h8.9v8.9h-8.9zM102.3 298.1h8.9v8.9h-8.9zM102.6 298.7h8.9v8.9h-8.9zM102.9 298.8h8.9v8.9h-8.9zM103.2 298.3h8.9v8.9h-8.9zM103.6 298.7h8.9v8.9h-8.9zM103.9 298.4h8.9v8.9h-8.9zM104.2 298.4h8.9v8.9h-8.9zM104.6 298.9h8.9v8.9h-8.9zM104.9 298.2h8.9v8.9h-8.9zM105.2 298.4h8.9v8.9h-8.9zM105.5 297.8h8.9v8.9h-8.9zM105.9 298.8h8.9v8.9h-8.9zM106.2 298.7h8.9v8.9h-8.9zM106.5 298.2h8.9v8.9h-8.9zM106.9 298.7h8.9v8.9h-8.9zM107.2 298.2h8.9v8.9h-8.9zM107.5 297.7h8.9v8.9h-8.9zM107.8 298.6h8.9v8.9h-8.9zM108.2 298.2h8.9v8.9h-8.9zM108.5 298.5h8.9v8.9h-8.9zM108.8 298.4h8.9v8.9h-8.9zM109.2 297.5h8.9v8.9h-8.9zM109.5 298.3h8.9v8.9h-8.9zM109.8 298.3h8.9v8.9h-8.9zM110.1 298.4h8.9v8.9h-8.9zM110.5 298.8h8.9v8.9h-8.9zM110.8 297.9h8.9v8.9h-8.9zM111.1 298.6h8.9v8.9h-8.9zM111.5 297.9h8.9v8.9h-8.9zM111.8 298.5h8.9v8.9h-8.9zM112.1 298.3h8.9v8.9h-8.9zM112.4 298.3h8.9v8.9h-8.9zM112.8 298.4h8.9v8.9h-8.9zM113.1 296.9h8.9v8.9h-8.9zM113.4 297.7h8.9v8.9h-8.9zM113.8 298.8h8.9v8.9h-8.9zM114.1 297.6h8.9v8.9h-8.9zM114.4 297.9h8.9v8.9h-8.9zM114.7 298.8h8.9v8.9h-8.9zM115.1 298.3h8.9v8.9h-8.9zM115.4 296.4h8.9v8.9h-8.9zM115.7 298.0h8.9v8.9h-8.9zM116.1 297.0h8.9v8.9h-8.9zM116.4 298.3h8.9v8.9h-8.9zM116.7 298.5h8.9v8.9h-8.9zM117.0 298.4h8.9v8.9h-8.9zM117.4 298.4h8.9v8.9h-8.9zM117.7 297.7h8.9v8.9h-8.9zM118.0 298.4h8.9v8.9h-8.9zM118.4 297.5h8.9v8.9h-8.9zM118.7 298.6h8.9v8.9h-8.9zM119.0 298.1h8.9v8.9h-8.9zM119.4 298.6h8.9v8.9h-8.9zM119.7 296.9h8.9v8.9h-8.9zM120.0 296.4h8.9v8.9h-8.9zM120.3 298.0h8.9v8.9h-8.9zM120.7 298.1h8.9v8.9h-8.9zM121.0 298.6h8.9v8.9h-8.9zM121.3 298.1h8.9v8.9h-8.9zM121.7 297.9h8.9v8.9h-8.9zM122.0 298.8h8.9v8.9h-8.9zM122.3 298.5h8.9v8.9h-8.9zM122.6 298.7h8.9v8.9h-8.9zM123.0 297.4h8.9v8.9h-8.9zM123.3 297.2h8.9v8.9h-8.9zM123.6 297.6h8.9v8.9h-8.9zM124.0 298.0h8.9v8.9h-8.9zM124.3 297.4h8.9v8.9h-8.9zM124.6 297.4h8.9v8.9h-8.9zM124.9 296.1h8.9v8.9h-8.9zM125.3 298.5h8.9v8.9h-8.9zM125.6 297.8h8.9v8.9h-8.9zM125.9 298.2h8.9v8.9h-8.9zM126.3 298.6h8.9v8.9h-8.9zM126.6 296.9h8.9v8.9h-8.9zM126.9 295.9h8.9v8.9h-8.9zM127.2 296.6h8.9v8.9h-8.9zM127.6 298.2h8.9v8.9h-8.9zM127.9 297.9h8.9v8.9h-8.9zM128.2 298.3h8.9v8.9h-8.9zM128.6 295.0h8.9v8.9h-8.9zM128.9 297.5h8.9v8.9h-8.9zM129.2 298.1h8.9v8.9h-8.9zM129.5 297.6h8.9v8.9h-8.9zM129.9 298.1h8.9v8.9h-8.9zM130.2 294.6h8.9v8.9h-8.9zM130.5 295.0h8.9v8.9h-8.9zM130.9 298.3h8.9v8.9h-8.9zM131.2 297.8h8.9v8.9h-8.9zM131.5 298.7h8.9v8.9h-8.9zM131.8 296.3h8.9v8.9h-8.9zM132.2 298.3h8.9v8.9h-8.9zM132.5 298.2h8.9v8.9h-8.9zM132.8 297.9h8.9v8.9h-8.9zM133.2 297.2h8.9v8.9h-8.9zM133.5 296.1h8.9v8.9h-8.9zM133.8 297.3h8.9v8.9h-8.9zM134.1 295.6h8.9v8.9h-8.9zM134.5 297.5h8.9v8.9h-8.9zM134.8 297.7h8.9v8.9h-8.9zM135.1 297.3h8.9v8.9h-8.9zM135.5 297.1h8.9v8.9h-8.9zM135.8 292.8h8.9v8.9h-8.9zM136.1 293.2h8.9v8.9h-8.9zM136.4 275.6h8.9v8.9h-8.9zM136.8 293.3h8.9v8.9h-8.9zM137.1 290.8h8.9v8.9h-8.9zM137.4 289.2h8.9v8.9h-8.9zM137.8 292.6h8.9v8.9h-8.9zM138.1 296.4h8.9v8.9h-8.9zM138.4 292.1h8.9v8.9h-8.9zM138.7 291.4h8.9v8.9h-8.9zM139.1 296.6h8.9v8.9h-8.9zM139.4 295.5h8.9v8.9h-8.9zM139.7 296.7h8.9v8.9h-8.9zM140.1 290.6h8.9v8.9h-8.9zM140.4 289.5h8.9v8.9h-8.9zM140.7 288.6h8.9v8.9h-8.9zM141.1 288.3h8.9v8.9h-8.9zM141.4 293.8h8.9v8.9h-8.9zM141.7 288.9h8.9v8.9h-8.9zM142.0 295.1h8.9v8.9h-8.9zM142.4 297.1h8.9v8.9h-8.9zM142.7 294.7h8.9v8.9h-8.9zM143.0 293.6h8.9v8.9h-8.9zM143.4 294.8h8.9v8.9h-8.9zM143.7 291.6h8.9v8.9h-8.9zM144.0 289.2h8.9v8.9h-8.9zM144.3 293.9h8.9v8.9h-8.9zM144.7 291.5h8.9v8.9h-8.9zM145.0 293.0h8.9v8.9h-8.9zM145.3 287.6h8.9v8.9h-8.9zM145.7 293.7h8.9v8.9h-8.9zM146.0 284.3h8.9v8.9h-8.9zM146.3 290.8h8.9v8.9h-8.9zM146.6 288.1h8.9v8.9h-8.9zM147.0 282.3h8.9v8.9h-8.9zM147.3 283.5h8.9v8.9h-8.9zM147.6 260.5h8.9v8.9h-8.9zM148.0 276.9h8.9v8.9h-8.9zM148.3 289.7h8.9v8.9h-8.9zM148.6 290.3h8.9v8.9h-8.9zM148.9 287.9h8.9v8.9h-8.9zM149.3 291.3h8.9v8.9h-8.9zM149.6 292.4h8.9v8.9h-8.9zM149.9 281.5h8.9v8.9h-8.9zM150.3 275.6h8.9v8.9h-8.9zM150.6 283.5h8.9v8.9h-8.9zM150.9 277.1h8.9v8.9h-8.9zM151.2 278.7h8.9v8.9h-8.9zM151.6 287.9h8.9v8.9h-8.9zM151.9 286.2h8.9v8.9h-8.9zM152.2 290.0h8.9v8.9h-8.9zM152.6 238.1h8.9v8.9h-8.9zM152.9 209.6h8.9v8.9h-8.9zM153.2 224.6h8.9v8.9h-8.9zM153.5 236.6h8.9v8.9h-8.9zM153.9 246.5h8.9v8.9h-8.9zM154.2 253.7h8.9v8.9h-8.9zM154.5 260.8h8.9v8.9h-8.9zM154.9 283.8h8.9v8.9h-8.9zM155.2 274.9h8.9v8.9h-8.9zM155.5 238.9h8.9v8.9h-8.9zM155.8 251.9h8.9v8.9h-8.9zM156.2 268.8h8.9v8.9h-8.9zM156.5 281.8h8.9v8.9h-8.9zM156.8 285.8h8.9v8.9h-8.9zM157.2 283.6h8.9v8.9h-8.9zM157.5 291.6h8.9v8.9h-8.9zM157.8 283.4h8.9v8.9h-8.9zM158.1 293.3h8.9v8.9h-8.9zM158.5 285.8h8.9v8.9h-8.9zM158.8 291.3h8.9v8.9h-8.9zM159.1 295.7h8.9v8.9h-8.9zM159.5 291.5h8.9v8.9h-8.9zM159.8 292.1h8.9v8.9h-8.9zM160.1 292.5h8.9v8.9h-8.9zM160.4 285.3h8.9v8.9h-8.9zM160.8 293.9h8.9v8.9h-8.9zM161.1 291.0h8.9v8.9h-8.9zM161.4 292.0h8.9v8.9h-8.9zM161.8 290.4h8.9v8.9h-8.9zM162.1 291.6h8.9v8.9h-8.9zM162.4 295.1h8.9v8.9h-8.9zM162.7 292.1h8.9v8.9h-8.9zM163.1 282.0h8.9v8.9h-8.9zM163.4 293.0h8.9v8.9h-8.9zM163.7 296.2h8.9v8.9h-8.9zM164.1 295.9h8.9v8.9h-8.9zM164.4 292.7h8.9v8.9h-8.9zM164.7 278.9h8.9v8.9h-8.9zM165.1 292.6h8.9v8.9h-8.9zM165.4 280.7h8.9v8.9h-8.9zM165.7 288.6h8.9v8.9h-8.9zM166.0 294.0h8.9v8.9h-8.9zM166.4 292.5h8.9v8.9h-8.9zM166.7 294.3h8.9v8.9h-8.9zM167.0 287.3h8.9v8.9h-8.9zM167.4 290.6h8.9v8.9h-8.9zM167.7 293.8h8.9v8.9h-8.9zM168.0 295.1h8.9v8.9h-8.9zM168.3 285.8h8.9v8.9h-8.9zM168.7 286.8h8.9v8.9h-8.9zM169.0 291.6h8.9v8.9h-8.9zM169.3 292.9h8.9v8.9h-8.9zM169.7 289.2h8.9v8.9h-8.9zM170.0 284.6h8.9v8.9h-8.9zM170.3 292.6h8.9v8.9h-8.9zM170.6 295.1h8.9v8.9h-8.9zM171.0 294.1h8.9v8.9h-8.9zM171.3 292.2h8.9v8.9h-8.9zM171.6 294.8h8.9v8.9h-8.9zM172.0 295.5h8.9v8.9h-8.9zM172.3 294.2h8.9v8.9h-8.9zM172.6 293.4h8.9v8.9h-8.9zM172.9 289.1h8.9v8.9h-8.9zM173.3 290.7h8.9v8.9h-8.9zM173.6 294.9h8.9v8.9h-8.9zM173.9 295.6h8.9v8.9h-8.9zM174.3 293.0h8.9v8.9h-8.9zM174.6 282.2h8.9v8.9h-8.9zM174.9 282.1h8.9v8.9h-8.9zM175.2 291.4h8.9v8.9h-8.9zM175.6 284.9h8.9v8.9h-8.9zM175.9 252.6h8.9v8.9h-8.9zM176.2 277.0h8.9v8.9h-8.9zM176.6 289.6h8.9v8.9h-8.9zM176.9 292.5h8.9v8.9h-8.9zM177.2 295.7h8.9v8.9h-8.9zM177.5 291.8h8.9v8.9h-8.9zM177.9 295.7h8.9v8.9h-8.9zM178.2 291.6h8.9v8.9h-8.9zM178.5 287.7h8.9v8.9h-8.9zM178.9 288.1h8.9v8.9h-8.9zM179.2 293.5h8.9v8.9h-8.9zM179.5 295.8h8.9v8.9h-8.9zM179.8 288.4h8.9v8.9h-8.9zM180.2 288.7h8.9v8.9h-8.9zM180.5 285.5h8.9v8.9h-8.9zM180.8 291.3h8.9v8.9h-8.9zM181.2 291.3h8.9v8.9h-8.9zM181.5 293.2h8.9v8.9h-8.9zM181.8 296.2h8.9v8.9h-8.9zM182.1 294.8h8.9v8.9h-8.9zM182.5 290.5h8.9v8.9h-8.9zM182.8 294.4h8.9v8.9h-8.9zM183.1 289.2h8.9v8.9h-8.9zM183.5 291.5h8.9v8.9h-8.9zM183.8 292.6h8.9v8.9h-8.9zM184.1 280.3h8.9v8.9h-8.9zM184.4 292.2h8.9v8.9h-8.9zM184.8 292.6h8.9v8.9h-8.9zM185.1 287.4h8.9v8.9h-8.9zM185.4 260.6h8.9v8.9h-8.9zM185.8 268.6h8.9v8.9h-8.9zM186.1 285.2h8.9v8.9h-8.9zM186.4 291.5h8.9v8.9h-8.9zM186.7 291.6h8.9v8.9h-8.9zM187.1 292.4h8.9v8.9h-8.9zM187.4 294.6h8.9v8.9h-8.9zM187.7 295.9h8.9v8.9h-8.9zM188.1 294.2h8.9v8.9h-8.9zM188.4 292.1h8.9v8.9h-8.9zM188.7 292.4h8.9v8.9h-8.9zM189.1 288.1h8.9v8.9h-8.9zM189.4 288.2h8.9v8.9h-8.9zM189.7 287.7h8.9v8.9h-8.9zM190.0 290.0h8.9v8.9h-8.9zM190.4 294.7h8.9v8.9h-8.9zM190.7 294.4h8.9v8.9h-8.9zM191.0 295.3h8.9v8.9h-8.9zM191.4 295.6h8.9v8.9h-8.9zM191.7 296.9h8.9v8.9h-8.9zM192.0 293.0h8.9v8.9h-8.9zM192.3 295.7h8.9v8.9h-8.9zM192.7 297.4h8.9v8.9h-8.9zM193.0 296.2h8.9v8.9h-8.9zM193.3 294.3h8.9v8.9h-8.9zM193.7 295.8h8.9v8.9h-8.9zM194.0 297.2h8.9v8.9h-8.9zM194.3 296.1h8.9v8.9h-8.9zM194.6 297.1h8.9v8.9h-8.9zM195.0 298.0h8.9v8.9h-8.9zM195.3 295.5h8.9v8.9h-8.9zM195.6 296.8h8.9v8.9h-8.9zM196.0 295.2h8.9v8.9h-8.9zM196.3 296.5h8.9v8.9h-8.9zM196.6 295.9h8.9v8.9h-8.9zM196.9 298.3h8.9v8.9h-8.9zM197.3 298.1h8.9v8.9h-8.9zM197.6 297.4h8.9v8.9h-8.9zM197.9 298.0h8.9v8.9h-8.9zM198.3 298.7h8.9v8.9h-8.9zM198.6 298.5h8.9v8.9h-8.9zM198.9 298.1h8.9v8.9h-8.9zM199.2 298.1h8.9v8.9h-8.9zM199.6 298.1h8.9v8.9h-8.9zM199.9 296.8h8.9v8.9h-8.9zM200.2 298.2h8.9v8.9h-8.9zM200.6 298.5h8.9v8.9h-8.9zM200.9 298.1h8.9v8.9h-8.9zM201.2 298.8h8.9v8.9h-8.9zM201.5 298.3h8.9v8.9h-8.9zM201.9 298.6h8.9v8.9h-8.9zM202.2 298.3h8.9v8.9h-8.9zM202.5 298.9h8.9v8.9h-8.9zM202.9 298.1h8.9v8.9h-8.9zM203.2 298.0h8.9v8.9h-8.9zM203.5 297.6h8.9v8.9h-8.9zM203.8 296.7h8.9v8.9h-8.9zM204.2 298.0h8.9v8.9h-8.9zM204.5 298.0h8.9v8.9h-8.9zM204.8 298.2h8.9v8.9h-8.9zM205.2 298.9h8.9v8.9h-8.9zM205.5 297.5h8.9v8.9h-8.9zM205.8 298.3h8.9v8.9h-8.9zM206.1 298.0h8.9v8.9h-8.9zM206.5 297.6h8.9v8.9h-8.9zM206.8 297.4h8.9v8.9h-8.9zM207.1 298.0h8.9v8.9h-8.9zM207.5 298.5h8.9v8.9h-8.9zM207.8 298.4h8.9v8.9h-8.9zM208.1 298.6h8.9v8.9h-8.9zM208.4 298.0h8.9v8.9h-8.9zM208.8 298.1h8.9v8.9h-8.9zM209.1 298.3h8.9v8.9h-8.9zM209.4 298.0h8.9v8.9h-8.9zM209.8 298.5h8.9v8.9h-8.9zM210.1 298.5h8.9v8.9h-8.9zM210.4 298.8h8.9v8.9h-8.9zM210.7 299.0h8.9v8.9h-8.9zM211.1 298.0h8.9v8.9h-8.9zM211.4 298.0h8.9v8.9h-8.9zM211.7 298.5h8.9v8.9h-8.9zM212.1 298.4h8.9v8.9h-8.9zM212.4 297.6h8.9v8.9h-8.9zM212.7 298.0h8.9v8.9h-8.9zM213.1 298.2h8.9v8.9h-8.9zM213.4 298.5h8.9v8.9h-8.9zM213.7 298.8h8.9v8.9h-8.9zM214.0 297.5h8.9v8.9h-8.9zM214.4 297.6h8.9v8.9h-8.9zM214.7 295.5h8.9v8.9h-8.9zM215.0 298.1h8.9v8.9h-8.9zM215.4 298.0h8.9v8.9h-8.9zM215.7 297.9h8.9v8.9h-8.9zM216.0 298.1h8.9v8.9h-8.9zM216.3 298.0h8.9v8.9h-8.9zM216.7 298.4h8.9v8.9h-8.9zM217.0 298.3h8.9v8.9h-8.9zM217.3 297.7h8.9v8.9h-8.9zM217.7 298.4h8.9v8.9h-8.9zM218.0 294.6h8.9v8.9h-8.9zM218.3 297.2h8.9v8.9h-8.9zM218.6 298.5h8.9v8.9h-8.9zM219.0 296.7h8.9v8.9h-8.9zM219.3 294.5h8.9v8.9h-8.9zM219.6 297.0h8.9v8.9h-8.9zM220.0 297.9h8.9v8.9h-8.9zM220.3 296.0h8.9v8.9h-8.9zM220.6 295.4h8.9v8.9h-8.9zM220.9 296.0h8.9v8.9h-8.9zM221.3 298.7h8.9v8.9h-8.9zM221.6 298.1h8.9v8.9h-8.9zM221.9 296.3h8.9v8.9h-8.9zM222.3 296.0h8.9v8.9h-8.9zM222.6 296.0h8.9v8.9h-8.9zM222.9 295.5h8.9v8.9h-8.9zM223.2 296.9h8.9v8.9h-8.9zM223.6 297.6h8.9v8.9h-8.9zM223.9 295.3h8.9v8.9h-8.9zM224.2 295.9h8.9v8.9h-8.9zM224.6 296.4h8.9v8.9h-8.9zM224.9 296.1h8.9v8.9h-8.9zM225.2 297.6h8.9v8.9h-8.9zM225.5 297.9h8.9v8.9h-8.9zM225.9 297.1h8.9v8.9h-8.9zM226.2 297.0h8.9v8.9h-8.9zM226.5 295.8h8.9v8.9h-8.9zM226.9 293.1h8.9v8.9h-8.9zM227.2 293.9h8.9v8.9h-8.9zM227.5 296.9h8.9v8.9h-8.9zM227.8 297.8h8.9v8.9h-8.9zM228.2 294.4h8.9v8.9h-8.9zM228.5 297.5h8.9v8.9h-8.9zM228.8 295.2h8.9v8.9h-8.9zM229.2 297.9h8.9v8.9h-8.9zM229.5 297.6h8.9v8.9h-8.9zM229.8 297.9h8.9v8.9h-8.9zM230.1 296.1h8.9v8.9h-8.9zM230.5 295.8h8.9v8.9h-8.9zM230.8 298.1h8.9v8.9h-8.9zM231.1 298.0h8.9v8.9h-8.9zM231.5 297.9h8.9v8.9h-8.9zM231.8 298.0h8.9v8.9h-8.9zM232.1 296.9h8.9v8.9h-8.9zM232.4 297.8h8.9v8.9h-8.9zM232.8 296.9h8.9v8.9h-8.9zM233.1 298.5h8.9v8.9h-8.9zM233.4 298.8h8.9v8.9h-8.9zM233.8 298.9h8.9v8.9h-8.9zM234.1 298.3h8.9v8.9h-8.9zM234.4 298.2h8.9v8.9h-8.9zM234.7 298.6h8.9v8.9h-8.9zM235.1 298.3h8.9v8.9h-8.9zM235.4 298.2h8.9v8.9h-8.9zM235.7 298.4h8.9v8.9h-8.9zM236.1 298.2h8.9v8.9h-8.9zM236.4 298.2h8.9v8.9h-8.9zM236.7 298.4h8.9v8.9h-8.9zM237.1 298.9h8.9v8.9h-8.9zM237.4 299.1h8.9v8.9h-8.9zM237.7 296.9h8.9v8.9h-8.9zM238.0 298.1h8.9v8.9h-8.9zM238.4 297.8h8.9v8.9h-8.9zM238.7 297.6h8.9v8.9h-8.9zM239.0 296.9h8.9v8.9h-8.9zM239.4 298.2h8.9v8.9h-8.9zM239.7 297.5h8.9v8.9h-8.9zM240.0 297.4h8.9v8.9h-8.9zM240.3 297.7h8.9v8.9h-8.9zM240.7 297.9h8.9v8.9h-8.9zM241.0 297.9h8.9v8.9h-8.9zM241.3 298.1h8.9v8.9h-8.9zM241.7 298.8h8.9v8.9h-8.9zM242.0 298.4h8.9v8.9h-8.9zM242.3 298.8h8.9v8.9h-8.9zM242.6 297.9h8.9v8.9h-8.9zM243.0 298.2h8.9v8.9h-8.9zM243.3 296.9h8.9v8.9h-8.9zM243.6 298.1h8.9v8.9h-8.9zM244.0 297.2h8.9v8.9h-8.9zM244.3 296.2h8.9v8.9h-8.9zM244.6 296.1h8.9v8.9h-8.9zM244.9 296.2h8.9v8.9h-8.9zM245.3 297.8h8.9v8.9h-8.9zM245.6 299.0h8.9v8.9h-8.9zM245.9 298.5h8.9v8.9h-8.9zM246.3 298.2h8.9v8.9h-8.9zM246.6 298.8h8.9v8.9h-8.9zM246.9 298.6h8.9v8.9h-8.9zM247.2 298.2h8.9v8.9h-8.9zM247.6 296.0h8.9v8.9h-8.9zM247.9 297.8h8.9v8.9h-8.9zM248.2 298.3h8.9v8.9h-8.9zM248.6 297.6h8.9v8.9h-8.9zM248.9 296.6h8.9v8.9h-8.9zM249.2 295.7h8.9v8.9h-8.9zM249.5 296.9h8.9v8.9h-8.9zM249.9 297.5h8.9v8.9h-8.9zM250.2 298.2h8.9v8.9h-8.9zM250.5 298.4h8.9v8.9h-8.9zM250.9 298.3h8.9v8.9h-8.9zM251.2 298.1h8.9v8.9h-8.9zM251.5 297.8h8.9v8.9h-8.9zM251.8 296.9h8.9v8.9h-8.9zM252.2 297.9h8.9v8.9h-8.9zM252.5 298.0h8.9v8.9h-8.9zM252.8 294.5h8.9v8.9h-8.9zM253.2 297.8h8.9v8.9h-8.9zM253.5 298.0h8.9v8.9h-8.9zM253.8 297.7h8.9v8.9h-8.9zM254.1 294.1h8.9v8.9h-8.9zM254.5 295.1h8.9v8.9h-8.9zM254.8 294.2h8.9v8.9h-8.9zM255.1 292.1h8.9v8.9h-8.9zM255.5 296.5h8.9v8.9h-8.9zM255.8 290.3h8.9v8.9h-8.9zM256.1 293.6h8.9v8.9h-8.9zM256.4 292.5h8.9v8.9h-8.9zM256.8 284.2h8.9v8.9h-8.9zM257.1 277.7h8.9v8.9h-8.9zM257.4 290.8h8.9v8.9h-8.9zM257.8 280.2h8.9v8.9h-8.9zM258.1 251.6h8.9v8.9h-8.9zM258.4 272.1h8.9v8.9h-8.9zM258.7 258.9h8.9v8.9h-8.9zM259.1 257.6h8.9v8.9h-8.9zM259.4 279.3h8.9v8.9h-8.9zM259.7 277.8h8.9v8.9h-8.9zM260.1 266.0h8.9v8.9h-8.9zM260.4 240.7h8.9v8.9h-8.9zM260.7 259.3h8.9v8.9h-8.9zM261.1 269.0h8.9v8.9h-8.9zM261.4 283.5h8.9v8.9h-8.9zM261.7 286.0h8.9v8.9h-8.9zM262.0 284.9h8.9v8.9h-8.9zM262.4 281.0h8.9v8.9h-8.9zM262.7 280.6h8.9v8.9h-8.9zM263.0 291.8h8.9v8.9h-8.9zM263.4 279.9h8.9v8.9h-8.9zM263.7 252.9h8.9v8.9h-8.9zM264.0 269.9h8.9v8.9h-8.9zM264.3 265.8h8.9v8.9h-8.9zM264.7 279.4h8.9v8.9h-8.9zM265.0 274.2h8.9v8.9h-8.9zM265.3 289.9h8.9v8.9h-8.9zM265.7 270.6h8.9v8.9h-8.9zM266.0 284.6h8.9v8.9h-8.9zM266.3 272.0h8.9v8.9h-8.9zM266.6 287.4h8.9v8.9h-8.9zM267.0 285.1h8.9v8.9h-8.9zM267.3 270.1h8.9v8.9h-8.9zM267.6 275.2h8.9v8.9h-8.9zM268.0 278.8h8.9v8.9h-8.9zM268.3 267.4h8.9v8.9h-8.9zM268.6 286.3h8.9v8.9h-8.9zM268.9 251.1h8.9v8.9h-8.9zM269.3 185.6h8.9v8.9h-8.9zM269.6 245.2h8.9v8.9h-8.9zM269.9 274.3h8.9v8.9h-8.9zM270.3 287.4h8.9v8.9h-8.9zM270.6 293.9h8.9v8.9h-8.9zM270.9 289.8h8.9v8.9h-8.9zM271.2 286.9h8.9v8.9h-8.9zM271.6 287.2h8.9v8.9h-8.9zM271.9 284.1h8.9v8.9h-8.9zM272.2 291.5h8.9v8.9h-8.9zM272.6 274.1h8.9v8.9h-8.9zM272.9 287.7h8.9v8.9h-8.9zM273.2 295.2h8.9v8.9h-8.9zM273.5 293.2h8.9v8.9h-8.9zM273.9 271.7h8.9v8.9h-8.9zM274.2 290.3h8.9v8.9h-8.9zM274.5 293.6h8.9v8.9h-8.9zM274.9 276.8h8.9v8.9h-8.9zM275.2 287.1h8.9v8.9h-8.9zM275.5 275.3h8.9v8.9h-8.9zM275.8 292.3h8.9v8.9h-8.9zM276.2 273.5h8.9v8.9h-8.9zM276.5 289.2h8.9v8.9h-8.9zM276.8 294.4h8.9v8.9h-8.9zM277.2 282.5h8.9v8.9h-8.9zM277.5 262.7h8.9v8.9h-8.9zM277.8 262.5h8.9v8.9h-8.9zM278.1 270.8h8.9v8.9h-8.9zM278.5 257.4h8.9v8.9h-8.9zM278.8 251.4h8.9v8.9h-8.9zM279.1 278.8h8.9v8.9h-8.9zM279.5 292.2h8.9v8.9h-8.9zM279.8 266.7h8.9v8.9h-8.9zM280.1 278.3h8.9v8.9h-8.9zM280.4 288.7h8.9v8.9h-8.9zM280.8 283.9h8.9v8.9h-8.9zM281.1 289.5h8.9v8.9h-8.9zM281.4 292.9h8.9v8.9h-8.9zM281.8 188.2h8.9v8.9h-8.9zM282.1 158.6h8.9v8.9h-8.9zM282.4 183.6h8.9v8.9h-8.9zM282.7 182.7h8.9v8.9h-8.9zM283.1 204.3h8.9v8.9h-8.9zM283.4 208.6h8.9v8.9h-8.9zM283.7 213.9h8.9v8.9h-8.9zM284.1 217.4h8.9v8.9h-8.9zM284.4 223.9h8.9v8.9h-8.9zM284.7 234.3h8.9v8.9h-8.9zM285.1 243.9h8.9v8.9h-8.9zM285.4 247.4h8.9v8.9h-8.9zM285.7 280.5h8.9v8.9h-8.9zM286.0 265.1h8.9v8.9h-8.9zM286.4 277.2h8.9v8.9h-8.9zM286.7 292.5h8.9v8.9h-8.9zM287.0 279.3h8.9v8.9h-8.9zM287.4 281.1h8.9v8.9h-8.9zM287.7 292.3h8.9v8.9h-8.9zM288.0 290.9h8.9v8.9h-8.9zM288.3 290.2h8.9v8.9h-8.9zM288.7 288.4h8.9v8.9h-8.9zM289.0 271.8h8.9v8.9h-8.9zM289.3 288.6h8.9v8.9h-8.9zM289.7 287.7h8.9v8.9h-8.9zM290.0 275.4h8.9v8.9h-8.9zM290.3 247.1h8.9v8.9h-8.9zM290.6 228.7h8.9v8.9h-8.9zM291.0 212.0h8.9v8.9h-8.9zM291.3 212.7h8.9v8.9h-8.9zM291.6 220.5h8.9v8.9h-8.9zM292.0 236.3h8.9v8.9h-8.9zM292.3 243.1h8.9v8.9h-8.9zM292.6 293.6h8.9v8.9h-8.9zM292.9 292.4h8.9v8.9h-8.9zM293.3 282.2h8.9v8.9h-8.9zM293.6 272.9h8.9v8.9h-8.9zM293.9 282.1h8.9v8.9h-8.9zM294.3 269.1h8.9v8.9h-8.9zM294.6 224.9h8.9v8.9h-8.9zM294.9 259.1h8.9v8.9h-8.9zM295.2 281.4h8.9v8.9h-8.9zM295.6 286.2h8.9v8.9h-8.9zM295.9 255.3h8.9v8.9h-8.9zM296.2 263.2h8.9v8.9h-8.9zM296.6 289.6h8.9v8.9h-8.9zM296.9 295.3h8.9v8.9h-8.9zM297.2 294.3h8.9v8.9h-8.9zM297.5 286.7h8.9v8.9h-8.9zM297.9 286.6h8.9v8.9h-8.9zM298.2 241.8h8.9v8.9h-8.9zM298.5 237.9h8.9v8.9h-8.9zM298.9 222.3h8.9v8.9h-8.9zM299.2 233.6h8.9v8.9h-8.9zM299.5 249.6h8.9v8.9h-8.9zM299.8 281.8h8.9v8.9h-8.9zM300.2 259.6h8.9v8.9h-8.9zM300.5 287.7h8.9v8.9h-8.9zM300.8 293.8h8.9v8.9h-8.9zM301.2 283.6h8.9v8.9h-8.9zM301.5 283.3h8.9v8.9h-8.9zM301.8 260.1h8.9v8.9h-8.9zM302.1 252.0h8.9v8.9h-8.9zM302.5 277.6h8.9v8.9h-8.9zM302.8 276.6h8.9v8.9h-8.9zM303.1 281.0h8.9v8.9h-8.9zM303.5 293.2h8.9v8.9h-8.9zM303.8 288.9h8.9v8.9h-8.9zM304.1 294.0h8.9v8.9h-8.9zM304.4 293.3h8.9v8.9h-8.9zM304.8 296.0h8.9v8.9h-8.9zM305.1 297.0h8.9v8.9h-8.9zM305.4 285.1h8.9v8.9h-8.9zM305.8 284.7h8.9v8.9h-8.9zM306.1 283.9h8.9v8.9h-8.9zM306.4 293.8h8.9v8.9h-8.9zM306.7 294.5h8.9v8.9h-8.9zM307.1 297.2h8.9v8.9h-8.9zM307.4 293.0h8.9v8.9h-8.9zM307.7 287.9h8.9v8.9h-8.9zM308.1 287.6h8.9v8.9h-8.9zM308.4 286.8h8.9v8.9h-8.9zM308.7 295.7h8.9v8.9h-8.9zM309.1 293.4h8.9v8.9h-8.9zM309.4 297.1h8.9v8.9h-8.9zM309.7 295.2h8.9v8.9h-8.9zM310.0 297.4h8.9v8.9h-8.9zM310.4 296.1h8.9v8.9h-8.9zM310.7 295.8h8.9v8.9h-8.9zM311.0 296.9h8.9v8.9h-8.9zM311.4 297.8h8.9v8.9h-8.9zM311.7 295.9h8.9v8.9h-8.9zM312.0 297.3h8.9v8.9h-8.9zM312.3 296.9h8.9v8.9h-8.9zM312.7 298.1h8.9v8.9h-8.9zM313.0 297.9h8.9v8.9h-8.9zM313.3 294.5h8.9v8.9h-8.9zM313.7 291.3h8.9v8.9h-8.9zM314.0 297.0h8.9v8.9h-8.9zM314.3 293.9h8.9v8.9h-8.9zM314.6 294.2h8.9v8.9h-8.9zM315.0 297.5h8.9v8.9h-8.9zM315.3 298.5h8.9v8.9h-8.9zM315.6 296.2h8.9v8.9h-8.9zM316.0 297.7h8.9v8.9h-8.9zM316.3 294.0h8.9v8.9h-8.9zM316.6 297.2h8.9v8.9h-8.9zM316.9 296.8h8.9v8.9h-8.9zM317.3 295.8h8.9v8.9h-8.9zM317.6 297.6h8.9v8.9h-8.9zM317.9 295.2h8.9v8.9h-8.9zM318.3 297.5h8.9v8.9h-8.9zM318.6 298.4h8.9v8.9h-8.9zM318.9 299.0h8.9v8.9h-8.9zM319.2 298.1h8.9v8.9h-8.9zM319.6 296.7h8.9v8.9h-8.9zM319.9 298.0h8.9v8.9h-8.9zM320.2 296.6h8.9v8.9h-8.9zM320.6 297.6h8.9v8.9h-8.9zM320.9 296.4h8.9v8.9h-8.9zM321.2 297.9h8.9v8.9h-8.9zM321.5 298.8h8.9v8.9h-8.9zM321.9 298.7h8.9v8.9h-8.9zM322.2 298.0h8.9v8.9h-8.9zM322.5 298.1h8.9v8.9h-8.9zM322.9 298.0h8.9v8.9h-8.9zM323.2 296.3h8.9v8.9h-8.9zM323.5 297.2h8.9v8.9h-8.9zM323.8 297.3h8.9v8.9h-8.9zM324.2 297.8h8.9v8.9h-8.9zM324.5 297.2h8.9v8.9h-8.9zM324.8 297.6h8.9v8.9h-8.9zM325.2 297.0h8.9v8.9h-8.9zM325.5 295.7h8.9v8.9h-8.9zM325.8 296.7h8.9v8.9h-8.9zM326.1 298.3h8.9v8.9h-8.9zM326.5 298.3h8.9v8.9h-8.9zM326.8 297.0h8.9v8.9h-8.9zM327.1 296.8h8.9v8.9h-8.9zM327.5 296.7h8.9v8.9h-8.9zM327.8 298.2h8.9v8.9h-8.9zM328.1 298.4h8.9v8.9h-8.9zM328.4 296.6h8.9v8.9h-8.9zM328.8 298.1h8.9v8.9h-8.9zM329.1 297.0h8.9v8.9h-8.9zM329.4 298.1h8.9v8.9h-8.9zM329.8 298.8h8.9v8.9h-8.9zM330.1 298.5h8.9v8.9h-8.9zM330.4 298.5h8.9v8.9h-8.9zM330.7 297.3h8.9v8.9h-8.9zM331.1 296.1h8.9v8.9h-8.9zM331.4 298.3h8.9v8.9h-8.9zM331.7 298.7h8.9v8.9h-8.9zM332.1 297.1h8.9v8.9h-8.9zM332.4 298.1h8.9v8.9h-8.9zM332.7 298.0h8.9v8.9h-8.9zM333.1 297.3h8.9v8.9h-8.9zM333.4 297.6h8.9v8.9h-8.9zM333.7 298.5h8.9v8.9h-8.9zM334.0 297.2h8.9v8.9h-8.9zM334.4 297.3h8.9v8.9h-8.9zM334.7 297.3h8.9v8.9h-8.9zM335.0 298.9h8.9v8.9h-8.9zM335.4 297.8h8.9v8.9h-8.9zM335.7 298.2h8.9v8.9h-8.9zM336.0 298.2h8.9v8.9h-8.9zM336.3 298.5h8.9v8.9h-8.9zM336.7 298.9h8.9v8.9h-8.9zM337.0 298.3h8.9v8.9h-8.9zM337.3 298.7h8.9v8.9h-8.9zM337.7 297.1h8.9v8.9h-8.9zM338.0 297.2h8.9v8.9h-8.9zM338.3 297.7h8.9v8.9h-8.9zM338.6 296.5h8.9v8.9h-8.9zM339.0 298.2h8.9v8.9h-8.9zM339.3 298.6h8.9v8.9h-8.9zM339.6 298.3h8.9v8.9h-8.9zM340.0 298.2h8.9v8.9h-8.9zM340.3 298.4h8.9v8.9h-8.9zM340.6 298.4h8.9v8.9h-8.9zM340.9 298.3h8.9v8.9h-8.9zM341.3 298.1h8.9v8.9h-8.9zM341.6 297.2h8.9v8.9h-8.9zM341.9 298.2h8.9v8.9h-8.9zM342.3 297.2h8.9v8.9h-8.9zM342.6 298.3h8.9v8.9h-8.9zM342.9 298.6h8.9v8.9h-8.9zM343.2 297.6h8.9v8.9h-8.9zM343.6 298.4h8.9v8.9h-8.9zM343.9 297.7h8.9v8.9h-8.9zM344.2 298.0h8.9v8.9h-8.9zM344.6 296.8h8.9v8.9h-8.9zM344.9 298.4h8.9v8.9h-8.9zM345.2 297.3h8.9v8.9h-8.9zM345.5 297.6h8.9v8.9h-8.9zM345.9 297.7h8.9v8.9h-8.9zM346.2 298.6h8.9v8.9h-8.9zM346.5 295.7h8.9v8.9h-8.9zM346.9 297.7h8.9v8.9h-8.9zM347.2 298.0h8.9v8.9h-8.9zM347.5 297.7h8.9v8.9h-8.9zM347.8 295.1h8.9v8.9h-8.9zM348.2 296.4h8.9v8.9h-8.9zM348.5 294.7h8.9v8.9h-8.9zM348.8 297.1h8.9v8.9h-8.9zM349.2 297.3h8.9v8.9h-8.9zM349.5 296.9h8.9v8.9h-8.9zM349.8 296.5h8.9v8.9h-8.9zM350.1 297.5h8.9v8.9h-8.9zM350.5 296.8h8.9v8.9h-8.9zM350.8 297.4h8.9v8.9h-8.9zM351.1 296.7h8.9v8.9h-8.9zM351.5 298.3h8.9v8.9h-8.9zM351.8 298.0h8.9v8.9h-8.9zM352.1 298.3h8.9v8.9h-8.9zM352.4 298.7h8.9v8.9h-8.9zM352.8 297.6h8.9v8.9h-8.9zM353.1 297.2h8.9v8.9h-8.9zM353.4 298.3h8.9v8.9h-8.9zM353.8 298.5h8.9v8.9h-8.9zM354.1 298.6h8.9v8.9h-8.9zM354.4 298.3h8.9v8.9h-8.9zM354.7 298.5h8.9v8.9h-8.9zM355.1 298.7h8.9v8.9h-8.9zM355.4 298.3h8.9v8.9h-8.9zM355.7 298.4h8.9v8.9h-8.9zM356.1 299.1h8.9v8.9h-8.9zM356.4 296.1h8.9v8.9h-8.9zM356.7 297.8h8.9v8.9h-8.9zM357.1 297.0h8.9v8.9h-8.9zM357.4 298.2h8.9v8.9h-8.9zM357.7 297.3h8.9v8.9h-8.9zM358.0 298.0h8.9v8.9h-8.9zM358.4 298.5h8.9v8.9h-8.9zM358.7 298.0h8.9v8.9h-8.9zM359.0 298.1h8.9v8.9h-8.9zM359.4 297.5h8.9v8.9h-8.9zM359.7 297.3h8.9v8.9h-8.9zM360.0 298.5h8.9v8.9h-8.9zM360.3 298.3h8.9v8.9h-8.9zM360.7 298.3h8.9v8.9h-8.9zM361.0 298.3h8.9v8.9h-8.9zM361.3 297.4h8.9v8.9h-8.9zM361.7 297.6h8.9v8.9h-8.9zM362.0 298.4h8.9v8.9h-8.9zM362.3 298.9h8.9v8.9h-8.9zM362.6 298.0h8.9v8.9h-8.9zM363.0 298.2h8.9v8.9h-8.9zM363.3 297.9h8.9v8.9h-8.9zM363.6 297.6h8.9v8.9h-8.9zM364.0 296.4h8.9v8.9h-8.9zM364.3 298.1h8.9v8.9h-8.9zM364.6 297.6h8.9v8.9h-8.9zM364.9 292.2h8.9v8.9h-8.9zM365.3 297.1h8.9v8.9h-8.9zM365.6 295.0h8.9v8.9h-8.9zM365.9 296.3h8.9v8.9h-8.9zM366.3 295.1h8.9v8.9h-8.9zM366.6 296.2h8.9v8.9h-8.9zM366.9 297.5h8.9v8.9h-8.9zM367.2 294.0h8.9v8.9h-8.9zM367.6 297.4h8.9v8.9h-8.9zM367.9 288.3h8.9v8.9h-8.9zM368.2 287.9h8.9v8.9h-8.9zM368.6 294.5h8.9v8.9h-8.9zM368.9 293.5h8.9v8.9h-8.9zM369.2 293.9h8.9v8.9h-8.9zM369.5 282.9h8.9v8.9h-8.9zM369.9 294.6h8.9v8.9h-8.9zM370.2 296.9h8.9v8.9h-8.9zM370.5 295.0h8.9v8.9h-8.9zM370.9 290.4h8.9v8.9h-8.9zM371.2 289.8h8.9v8.9h-8.9zM371.5 293.7h8.9v8.9h-8.9zM371.8 296.7h8.9v8.9h-8.9zM372.2 292.1h8.9v8.9h-8.9zM372.5 295.0h8.9v8.9h-8.9zM372.8 297.0h8.9v8.9h-8.9zM373.2 291.7h8.9v8.9h-8.9zM373.5 293.1h8.9v8.9h-8.9zM373.8 295.8h8.9v8.9h-8.9zM374.1 295.8h8.9v8.9h-8.9zM374.5 293.3h8.9v8.9h-8.9zM374.8 294.9h8.9v8.9h-8.9zM375.1 295.3h8.9v8.9h-8.9zM375.5 282.6h8.9v8.9h-8.9zM375.8 291.3h8.9v8.9h-8.9zM376.1 294.7h8.9v8.9h-8.9zM376.4 292.7h8.9v8.9h-8.9zM376.8 285.8h8.9v8.9h-8.9zM377.1 284.2h8.9v8.9h-8.9zM377.4 288.0h8.9v8.9h-8.9zM377.8 281.1h8.9v8.9h-8.9zM378.1 284.5h8.9v8.9h-8.9zM378.4 284.8h8.9v8.9h-8.9zM378.7 289.3h8.9v8.9h-8.9zM379.1 294.5h8.9v8.9h-8.9zM379.4 282.0h8.9v8.9h-8.9zM379.7 281.4h8.9v8.9h-8.9zM380.1 260.8h8.9v8.9h-8.9zM380.4 286.5h8.9v8.9h-8.9zM380.7 268.8h8.9v8.9h-8.9zM381.1 287.1h8.9v8.9h-8.9zM381.4 263.7h8.9v8.9h-8.9zM381.7 261.0h8.9v8.9h-8.9zM382.0 285.1h8.9v8.9h-8.9zM382.4 291.6h8.9v8.9h-8.9zM382.7 252.1h8.9v8.9h-8.9zM383.0 246.4h8.9v8.9h-8.9zM383.4 273.5h8.9v8.9h-8.9zM383.7 244.5h8.9v8.9h-8.9zM384.0 273.8h8.9v8.9h-8.9zM384.3 272.7h8.9v8.9h-8.9zM384.7 254.5h8.9v8.9h-8.9zM385.0 255.6h8.9v8.9h-8.9zM385.3 277.5h8.9v8.9h-8.9zM385.7 259.4h8.9v8.9h-8.9zM386.0 245.2h8.9v8.9h-8.9zM386.3 271.2h8.9v8.9h-8.9zM386.6 237.9h8.9v8.9h-8.9zM387.0 248.8h8.9v8.9h-8.9zM387.3 250.5h8.9v8.9h-8.9zM387.6 278.8h8.9v8.9h-8.9zM388.0 285.0h8.9v8.9h-8.9zM388.3 273.8h8.9v8.9h-8.9zM388.6 285.9h8.9v8.9h-8.9zM388.9 274.8h8.9v8.9h-8.9zM389.3 185.4h8.9v8.9h-8.9zM389.6 125.5h8.9v8.9h-8.9zM389.9 169.6h8.9v8.9h-8.9zM390.3 180.6h8.9v8.9h-8.9zM390.6 198.2h8.9v8.9h-8.9zM390.9 195.4h8.9v8.9h-8.9zM391.2 202.8h8.9v8.9h-8.9zM391.6 219.8h8.9v8.9h-8.9zM391.9 219.6h8.9v8.9h-8.9zM392.2 233.3h8.9v8.9h-8.9zM392.6 246.1h8.9v8.9h-8.9zM392.9 195.6h8.9v8.9h-8.9zM393.2 253.7h8.9v8.9h-8.9zM393.5 203.7h8.9v8.9h-8.9zM393.9 206.6h8.9v8.9h-8.9zM394.2 188.6h8.9v8.9h-8.9zM394.5 257.0h8.9v8.9h-8.9zM394.9 276.0h8.9v8.9h-8.9zM395.2 279.8h8.9v8.9h-8.9zM395.5 282.1h8.9v8.9h-8.9zM395.8 255.6h8.9v8.9h-8.9zM396.2 277.1h8.9v8.9h-8.9zM396.5 263.2h8.9v8.9h-8.9zM396.8 282.2h8.9v8.9h-8.9zM397.2 282.6h8.9v8.9h-8.9zM397.5 280.7h8.9v8.9h-8.9zM397.8 276.3h8.9v8.9h-8.9zM398.1 283.1h8.9v8.9h-8.9zM398.5 263.1h8.9v8.9h-8.9zM398.8 226.1h8.9v8.9h-8.9zM399.1 239.2h8.9v8.9h-8.9zM399.5 281.7h8.9v8.9h-8.9zM399.8 215.0h8.9v8.9h-8.9zM400.1 178.6h8.9v8.9h-8.9zM400.4 200.9h8.9v8.9h-8.9zM400.8 206.0h8.9v8.9h-8.9zM401.1 223.7h8.9v8.9h-8.9zM401.4 235.2h8.9v8.9h-8.9zM401.8 238.0h8.9v8.9h-8.9zM402.1 273.7h8.9v8.9h-8.9zM402.4 282.3h8.9v8.9h-8.9zM402.7 277.0h8.9v8.9h-8.9zM403.1 246.7h8.9v8.9h-8.9zM403.4 245.5h8.9v8.9h-8.9zM403.7 279.9h8.9v8.9h-8.9zM404.1 284.1h8.9v8.9h-8.9zM404.4 260.5h8.9v8.9h-8.9zM404.7 275.1h8.9v8.9h-8.9zM405.1 284.3h8.9v8.9h-8.9zM405.4 238.8h8.9v8.9h-8.9zM405.7 217.7h8.9v8.9h-8.9zM406.0 195.2h8.9v8.9h-8.9zM406.4 212.4h8.9v8.9h-8.9zM406.7 211.3h8.9v8.9h-8.9zM407.0 237.4h8.9v8.9h-8.9zM407.4 250.4h8.9v8.9h-8.9zM407.7 240.4h8.9v8.9h-8.9zM408.0 257.6h8.9v8.9h-8.9zM408.3 264.9h8.9v8.9h-8.9zM408.7 268.9h8.9v8.9h-8.9zM409.0 276.0h8.9v8.9h-8.9zM409.3 272.8h8.9v8.9h-8.9zM409.7 242.1h8.9v8.9h-8.9zM410.0 257.0h8.9v8.9h-8.9zM410.3 271.9h8.9v8.9h-8.9zM410.6 279.4h8.9v8.9h-8.9zM411.0 272.7h8.9v8.9h-8.9zM411.3 280.3h8.9v8.9h-8.9zM411.6 270.1h8.9v8.9h-8.9zM412.0 270.6h8.9v8.9h-8.9zM412.3 285.9h8.9v8.9h-8.9zM412.6 269.2h8.9v8.9h-8.9zM412.9 283.5h8.9v8.9h-8.9zM413.3 290.4h8.9v8.9h-8.9zM413.6 290.2h8.9v8.9h-8.9zM413.9 289.7h8.9v8.9h-8.9zM414.3 283.5h8.9v8.9h-8.9zM414.6 286.5h8.9v8.9h-8.9zM414.9 289.3h8.9v8.9h-8.9zM415.2 273.3h8.9v8.9h-8.9zM415.6 253.1h8.9v8.9h-8.9zM415.9 269.2h8.9v8.9h-8.9zM416.2 284.4h8.9v8.9h-8.9zM416.6 276.1h8.9v8.9h-8.9zM416.9 286.5h8.9v8.9h-8.9zM417.2 270.8h8.9v8.9h-8.9zM417.5 274.0h8.9v8.9h-8.9zM417.9 271.6h8.9v8.9h-8.9zM418.2 286.8h8.9v8.9h-8.9zM418.5 271.1h8.9v8.9h-8.9zM418.9 281.9h8.9v8.9h-8.9zM419.2 274.9h8.9v8.9h-8.9zM419.5 265.4h8.9v8.9h-8.9zM419.8 286.7h8.9v8.9h-8.9zM420.2 290.1h8.9v8.9h-8.9zM420.5 272.6h8.9v8.9h-8.9zM420.8 256.1h8.9v8.9h-8.9zM421.2 257.5h8.9v8.9h-8.9zM421.5 252.9h8.9v8.9h-8.9zM421.8 269.2h8.9v8.9h-8.9zM422.1 283.8h8.9v8.9h-8.9zM422.5 290.1h8.9v8.9h-8.9zM422.8 283.3h8.9v8.9h-8.9zM423.1 283.3h8.9v8.9h-8.9zM423.5 270.7h8.9v8.9h-8.9zM423.8 284.0h8.9v8.9h-8.9zM424.1 285.4h8.9v8.9h-8.9zM424.4 263.5h8.9v8.9h-8.9zM424.8 281.3h8.9v8.9h-8.9zM425.1 286.8h8.9v8.9h-8.9zM425.4 284.1h8.9v8.9h-8.9zM425.8 265.1h8.9v8.9h-8.9zM426.1 284.1h8.9v8.9h-8.9zM426.4 258.2h8.9v8.9h-8.9zM426.7 265.0h8.9v8.9h-8.9zM427.1 279.7h8.9v8.9h-8.9zM427.4 286.6h8.9v8.9h-8.9zM427.7 285.7h8.9v8.9h-8.9zM428.1 280.4h8.9v8.9h-8.9zM428.4 285.2h8.9v8.9h-8.9zM428.7 286.6h8.9v8.9h-8.9zM429.1 278.4h8.9v8.9h-8.9zM429.4 266.3h8.9v8.9h-8.9zM429.7 274.7h8.9v8.9h-8.9zM430.0 285.0h8.9v8.9h-8.9zM430.4 259.0h8.9v8.9h-8.9zM430.7 279.9h8.9v8.9h-8.9zM431.0 290.4h8.9v8.9h-8.9zM431.4 258.4h8.9v8.9h-8.9zM431.7 280.1h8.9v8.9h-8.9zM432.0 289.2h8.9v8.9h-8.9zM432.3 283.0h8.9v8.9h-8.9zM432.7 282.1h8.9v8.9h-8.9zM433.0 235.3h8.9v8.9h-8.9zM433.3 209.6h8.9v8.9h-8.9zM433.7 206.8h8.9v8.9h-8.9zM434.0 218.0h8.9v8.9h-8.9zM434.3 238.0h8.9v8.9h-8.9zM434.6 254.1h8.9v8.9h-8.9zM435.0 270.9h8.9v8.9h-8.9zM435.3 285.6h8.9v8.9h-8.9zM435.6 263.9h8.9v8.9h-8.9zM436.0 247.3h8.9v8.9h-8.9zM436.3 266.7h8.9v8.9h-8.9zM436.6 234.2h8.9v8.9h-8.9zM436.9 260.0h8.9v8.9h-8.9zM437.3 270.2h8.9v8.9h-8.9zM437.6 279.8h8.9v8.9h-8.9zM437.9 286.2h8.9v8.9h-8.9zM438.3 289.1h8.9v8.9h-8.9zM438.6 293.7h8.9v8.9h-8.9zM438.9 293.8h8.9v8.9h-8.9zM439.2 273.2h8.9v8.9h-8.9zM439.6 271.5h8.9v8.9h-8.9zM439.9 290.6h8.9v8.9h-8.9zM440.2 294.2h8.9v8.9h-8.9zM440.6 283.5h8.9v8.9h-8.9zM440.9 274.8h8.9v8.9h-8.9zM441.2 286.6h8.9v8.9h-8.9zM441.5 284.9h8.9v8.9h-8.9zM441.9 294.1h8.9v8.9h-8.9zM442.2 287.5h8.9v8.9h-8.9zM442.5 284.2h8.9v8.9h-8.9zM442.9 293.0h8.9v8.9h-8.9zM443.2 296.5h8.9v8.9h-8.9zM443.5 297.7h8.9v8.9h-8.9zM443.8 295.0h8.9v8.9h-8.9zM444.2 293.0h8.9v8.9h-8.9zM444.5 297.4h8.9v8.9h-8.9zM444.8 296.6h8.9v8.9h-8.9zM445.2 290.8h8.9v8.9h-8.9zM445.5 296.9h8.9v8.9h-8.9zM445.8 298.4h8.9v8.9h-8.9zM446.1 298.3h8.9v8.9h-8.9zM446.5 297.1h8.9v8.9h-8.9zM446.8 297.1h8.9v8.9h-8.9zM447.1 293.1h8.9v8.9h-8.9zM447.5 296.8h8.9v8.9h-8.9zM447.8 298.2h8.9v8.9h-8.9zM448.1 292.9h8.9v8.9h-8.9zM448.4 297.2h8.9v8.9h-8.9zM448.8 298.3h8.9v8.9h-8.9zM449.1 297.6h8.9v8.9h-8.9zM449.4 298.2h8.9v8.9h-8.9zM449.8 297.7h8.9v8.9h-8.9zM450.1 296.6h8.9v8.9h-8.9zM450.4 296.7h8.9v8.9h-8.9zM450.7 296.3h8.9v8.9h-8.9zM451.1 296.4h8.9v8.9h-8.9zM451.4 295.9h8.9v8.9h-8.9zM451.7 298.7h8.9v8.9h-8.9zM452.1 297.0h8.9v8.9h-8.9zM452.4 297.0h8.9v8.9h-8.9zM452.7 298.1h8.9v8.9h-8.9zM453.1 298.0h8.9v8.9h-8.9zM453.4 298.7h8.9v8.9h-8.9zM453.7 296.2h8.9v8.9h-8.9zM454.0 297.5h8.9v8.9h-8.9zM454.4 298.2h8.9v8.9h-8.9zM454.7 295.4h8.9v8.9h-8.9zM455.0 295.8h8.9v8.9h-8.9zM455.4 294.9h8.9v8.9h-8.9zM455.7 296.5h8.9v8.9h-8.9zM456.0 298.1h8.9v8.9h-8.9zM456.3 297.4h8.9v8.9h-8.9zM456.7 297.1h8.9v8.9h-8.9zM457.0 297.2h8.9v8.9h-8.9zM457.3 295.1h8.9v8.9h-8.9zM457.7 297.3h8.9v8.9h-8.9zM458.0 296.4h8.9v8.9h-8.9zM458.3 298.2h8.9v8.9h-8.9zM458.6 298.5h8.9v8.9h-8.9zM459.0 295.4h8.9v8.9h-8.9zM459.3 297.8h8.9v8.9h-8.9zM459.6 298.0h8.9v8.9h-8.9zM460.0 295.2h8.9v8.9h-8.9zM460.3 296.8h8.9v8.9h-8.9zM460.6 298.0h8.9v8.9h-8.9zM460.9 296.3h8.9v8.9h-8.9zM461.3 294.5h8.9v8.9h-8.9zM461.6 294.7h8.9v8.9h-8.9zM461.9 297.9h8.9v8.9h-8.9zM462.3 298.6h8.9v8.9h-8.9zM462.6 298.8h8.9v8.9h-8.9zM462.9 298.6h8.9v8.9h-8.9zM463.2 296.8h8.9v8.9h-8.9zM463.6 296.1h8.9v8.9h-8.9zM463.9 298.0h8.9v8.9h-8.9zM464.2 298.8h8.9v8.9h-8.9zM464.6 298.4h8.9v8.9h-8.9zM464.9 297.7h8.9v8.9h-8.9zM465.2 296.6h8.9v8.9h-8.9zM465.5 297.9h8.9v8.9h-8.9zM465.9 297.8h8.9v8.9h-8.9zM466.2 296.0h8.9v8.9h-8.9zM466.5 295.7h8.9v8.9h-8.9zM466.9 298.2h8.9v8.9h-8.9zM467.2 296.9h8.9v8.9h-8.9zM467.5 296.9h8.9v8.9h-8.9zM467.8 295.4h8.9v8.9h-8.9zM468.2 297.4h8.9v8.9h-8.9zM468.5 298.7h8.9v8.9h-8.9zM468.8 297.7h8.9v8.9h-8.9zM469.2 298.6h8.9v8.9h-8.9zM469.5 298.1h8.9v8.9h-8.9zM469.8 296.8h8.9v8.9h-8.9zM470.1 296.9h8.9v8.9h-8.9zM470.5 297.7h8.9v8.9h-8.9zM470.8 297.7h8.9v8.9h-8.9zM471.1 298.6h8.9v8.9h-8.9zM471.5 298.7h8.9v8.9h-8.9zM471.8 298.3h8.9v8.9h-8.9zM472.1 296.7h8.9v8.9h-8.9zM472.4 297.2h8.9v8.9h-8.9zM472.8 297.1h8.9v8.9h-8.9zM473.1 297.8h8.9v8.9h-8.9zM473.4 297.0h8.9v8.9h-8.9zM473.8 295.4h8.9v8.9h-8.9zM474.1 296.4h8.9v8.9h-8.9zM474.4 296.7h8.9v8.9h-8.9zM474.7 295.3h8.9v8.9h-8.9zM475.1 297.2h8.9v8.9h-8.9zM475.4 296.4h8.9v8.9h-8.9zM475.7 298.6h8.9v8.9h-8.9zM476.1 298.6h8.9v8.9h-8.9zM476.4 296.9h8.9v8.9h-8.9zM476.7 298.3h8.9v8.9h-8.9zM477.1 298.6h8.9v8.9h-8.9zM477.4 298.3h8.9v8.9h-8.9zM477.7 297.9h8.9v8.9h-8.9zM478.0 298.3h8.9v8.9h-8.9zM478.4 297.1h8.9v8.9h-8.9zM478.7 298.0h8.9v8.9h-8.9zM479.0 297.2h8.9v8.9h-8.9zM479.4 296.0h8.9v8.9h-8.9zM479.7 297.4h8.9v8.9h-8.9zM480.0 298.0h8.9v8.9h-8.9zM480.3 297.6h8.9v8.9h-8.9zM480.7 296.9h8.9v8.9h-8.9zM481.0 296.9h8.9v8.9h-8.9zM481.3 298.5h8.9v8.9h-8.9zM481.7 298.5h8.9v8.9h-8.9zM482.0 297.0h8.9v8.9h-8.9zM482.3 297.4h8.9v8.9h-8.9zM482.6 298.2h8.9v8.9h-8.9zM483.0 296.9h8.9v8.9h-8.9zM483.3 296.2h8.9v8.9h-8.9zM483.6 297.1h8.9v8.9h-8.9zM484.0 290.1h8.9v8.9h-8.9zM484.3 296.4h8.9v8.9h-8.9zM484.6 296.3h8.9v8.9h-8.9zM484.9 295.7h8.9v8.9h-8.9zM485.3 296.3h8.9v8.9h-8.9zM485.6 287.2h8.9v8.9h-8.9zM485.9 290.2h8.9v8.9h-8.9zM486.3 295.7h8.9v8.9h-8.9zM486.6 296.6h8.9v8.9h-8.9zM486.9 296.8h8.9v8.9h-8.9zM487.2 292.0h8.9v8.9h-8.9zM487.6 288.3h8.9v8.9h-8.9zM487.9 295.2h8.9v8.9h-8.9zM488.2 294.8h8.9v8.9h-8.9zM488.6 297.2h8.9v8.9h-8.9zM488.9 296.3h8.9v8.9h-8.9zM489.2 291.6h8.9v8.9h-8.9zM489.5 285.1h8.9v8.9h-8.9zM489.9 294.3h8.9v8.9h-8.9zM490.2 294.5h8.9v8.9h-8.9zM490.5 295.9h8.9v8.9h-8.9zM490.9 296.7h8.9v8.9h-8.9zM491.2 295.1h8.9v8.9h-8.9zM491.5 296.2h8.9v8.9h-8.9zM491.8 294.5h8.9v8.9h-8.9zM492.2 293.9h8.9v8.9h-8.9zM492.5 297.5h8.9v8.9h-8.9zM492.8 295.5h8.9v8.9h-8.9zM493.2 297.7h8.9v8.9h-8.9zM493.5 293.8h8.9v8.9h-8.9zM493.8 296.5h8.9v8.9h-8.9zM494.1 295.3h8.9v8.9h-8.9zM494.5 295.1h8.9v8.9h-8.9zM494.8 295.2h8.9v8.9h-8.9zM495.1 297.2h8.9v8.9h-8.9zM495.5 293.1h8.9v8.9h-8.9zM495.8 296.2h8.9v8.9h-8.9zM496.1 294.4h8.9v8.9h-8.9zM496.4 295.6h8.9v8.9h-8.9zM496.8 297.0h8.9v8.9h-8.9zM497.1 294.2h8.9v8.9h-8.9zM497.4 296.6h8.9v8.9h-8.9zM497.8 294.8h8.9v8.9h-8.9zM498.1 296.4h8.9v8.9h-8.9zM498.4 294.5h8.9v8.9h-8.9zM498.7 295.2h8.9v8.9h-8.9zM499.1 290.5h8.9v8.9h-8.9zM499.4 295.2h8.9v8.9h-8.9zM499.7 297.5h8.9v8.9h-8.9zM500.1 291.5h8.9v8.9h-8.9zM500.4 294.0h8.9v8.9h-8.9zM500.7 296.4h8.9v8.9h-8.9zM501.1 294.7h8.9v8.9h-8.9zM501.4 297.2h8.9v8.9h-8.9zM501.7 291.0h8.9v8.9h-8.9zM502.0 289.4h8.9v8.9h-8.9zM502.4 292.0h8.9v8.9h-8.9zM502.7 296.2h8.9v8.9h-8.9zM503.0 289.3h8.9v8.9h-8.9zM503.4 285.7h8.9v8.9h-8.9zM503.7 287.1h8.9v8.9h-8.9zM504.0 282.8h8.9v8.9h-8.9zM504.3 293.3h8.9v8.9h-8.9zM504.7 284.6h8.9v8.9h-8.9zM505.0 279.3h8.9v8.9h-8.9zM505.3 287.7h8.9v8.9h-8.9zM505.7 294.1h8.9v8.9h-8.9zM506.0 287.2h8.9v8.9h-8.9zM506.3 293.2h8.9v8.9h-8.9zM506.6 294.4h8.9v8.9h-8.9zM507.0 265.3h8.9v8.9h-8.9zM507.3 270.7h8.9v8.9h-8.9zM507.6 275.3h8.9v8.9h-8.9zM508.0 278.0h8.9v8.9h-8.9zM508.3 276.6h8.9v8.9h-8.9zM508.6 250.7h8.9v8.9h-8.9zM508.9 277.6h8.9v8.9h-8.9zM509.3 278.1h8.9v8.9h-8.9zM509.6 286.9h8.9v8.9h-8.9zM509.9 283.3h8.9v8.9h-8.9zM510.3 290.2h8.9v8.9h-8.9zM510.6 294.4h8.9v8.9h-8.9zM510.9 292.2h8.9v8.9h-8.9zM511.2 277.0h8.9v8.9h-8.9zM511.6 241.6h8.9v8.9h-8.9zM511.9 242.2h8.9v8.9h-8.9zM512.2 270.3h8.9v8.9h-8.9zM512.6 283.3h8.9v8.9h-8.9zM512.9 288.5h8.9v8.9h-8.9zM513.2 288.9h8.9v8.9h-8.9zM513.5 284.2h8.9v8.9h-8.9zM513.9 293.5h8.9v8.9h-8.9zM514.2 260.5h8.9v8.9h-8.9zM514.5 279.9h8.9v8.9h-8.9zM514.9 292.8h8.9v8.9h-8.9zM515.2 260.9h8.9v8.9h-8.9zM515.5 221.6h8.9v8.9h-8.9zM515.8 238.3h8.9v8.9h-8.9zM516.2 270.3h8.9v8.9h-8.9zM516.5 279.2h8.9v8.9h-8.9zM516.8 289.7h8.9v8.9h-8.9zM517.2 286.9h8.9v8.9h-8.9zM517.5 287.2h8.9v8.9h-8.9zM517.8 293.3h8.9v8.9h-8.9zM518.1 289.0h8.9v8.9h-8.9zM518.5 288.0h8.9v8.9h-8.9zM518.8 280.8h8.9v8.9h-8.9zM519.1 278.8h8.9v8.9h-8.9zM519.5 246.3h8.9v8.9h-8.9zM519.8 273.5h8.9v8.9h-8.9zM520.1 273.8h8.9v8.9h-8.9zM520.4 281.6h8.9v8.9h-8.9zM520.8 283.4h8.9v8.9h-8.9zM521.1 260.0h8.9v8.9h-8.9zM521.4 287.0h8.9v8.9h-8.9zM521.8 270.2h8.9v8.9h-8.9zM522.1 288.9h8.9v8.9h-8.9zM522.4 294.6h8.9v8.9h-8.9zM522.7 280.7h8.9v8.9h-8.9zM523.1 291.2h8.9v8.9h-8.9zM523.4 282.0h8.9v8.9h-8.9zM523.7 272.2h8.9v8.9h-8.9zM524.1 236.4h8.9v8.9h-8.9zM524.4 221.6h8.9v8.9h-8.9zM524.7 260.0h8.9v8.9h-8.9zM525.0 264.0h8.9v8.9h-8.9zM525.4 269.4h8.9v8.9h-8.9zM525.7 286.7h8.9v8.9h-8.9zM526.0 283.4h8.9v8.9h-8.9zM526.4 290.3h8.9v8.9h-8.9zM526.7 290.9h8.9v8.9h-8.9zM527.0 273.1h8.9v8.9h-8.9zM527.4 288.3h8.9v8.9h-8.9zM527.7 295.3h8.9v8.9h-8.9zM528.0 295.3h8.9v8.9h-8.9zM528.3 289.5h8.9v8.9h-8.9zM528.7 280.5h8.9v8.9h-8.9zM529.0 277.0h8.9v8.9h-8.9zM529.3 287.7h8.9v8.9h-8.9zM529.7 293.8h8.9v8.9h-8.9zM530.0 295.5h8.9v8.9h-8.9zM530.3 295.7h8.9v8.9h-8.9zM530.6 295.4h8.9v8.9h-8.9zM531.0 273.7h8.9v8.9h-8.9zM531.3 287.9h8.9v8.9h-8.9zM531.6 295.4h8.9v8.9h-8.9zM532.0 286.6h8.9v8.9h-8.9zM532.3 289.2h8.9v8.9h-8.9zM532.6 294.1h8.9v8.9h-8.9zM532.9 273.9h8.9v8.9h-8.9zM533.3 267.7h8.9v8.9h-8.9zM533.6 287.8h8.9v8.9h-8.9zM533.9 279.2h8.9v8.9h-8.9zM534.3 287.5h8.9v8.9h-8.9zM534.6 286.6h8.9v8.9h-8.9zM534.9 282.8h8.9v8.9h-8.9zM535.2 280.2h8.9v8.9h-8.9zM535.6 288.6h8.9v8.9h-8.9zM535.9 295.6h8.9v8.9h-8.9zM536.2 283.6h8.9v8.9h-8.9zM536.6 291.2h8.9v8.9h-8.9zM536.9 293.3h8.9v8.9h-8.9zM537.2 289.1h8.9v8.9h-8.9zM537.5 290.0h8.9v8.9h-8.9zM537.9 286.2h8.9v8.9h-8.9zM538.2 293.3h8.9v8.9h-8.9zM538.5 294.5h8.9v8.9h-8.9zM538.9 296.3h8.9v8.9h-8.9zM539.2 297.0h8.9v8.9h-8.9zM539.5 296.8h8.9v8.9h-8.9zM539.8 295.5h8.9v8.9h-8.9zM540.2 295.5h8.9v8.9h-8.9zM540.5 296.4h8.9v8.9h-8.9zM540.8 288.0h8.9v8.9h-8.9zM541.2 293.1h8.9v8.9h-8.9zM541.5 295.5h8.9v8.9h-8.9zM541.8 289.0h8.9v8.9h-8.9zM542.1 288.8h8.9v8.9h-8.9zM542.5 287.0h8.9v8.9h-8.9zM542.8 286.3h8.9v8.9h-8.9zM543.1 288.0h8.9v8.9h-8.9zM543.5 295.4h8.9v8.9h-8.9zM543.8 286.4h8.9v8.9h-8.9zM544.1 294.1h8.9v8.9h-8.9zM544.4 288.1h8.9v8.9h-8.9zM544.8 293.4h8.9v8.9h-8.9zM545.1 295.7h8.9v8.9h-8.9zM545.4 294.5h8.9v8.9h-8.9zM545.8 294.6h8.9v8.9h-8.9zM546.1 287.2h8.9v8.9h-8.9zM546.4 289.1h8.9v8.9h-8.9zM546.7 291.6h8.9v8.9h-8.9zM547.1 295.9h8.9v8.9h-8.9zM547.4 296.2h8.9v8.9h-8.9zM547.7 297.3h8.9v8.9h-8.9zM548.1 294.7h8.9v8.9h-8.9zM548.4 298.0h8.9v8.9h-8.9zM548.7 297.4h8.9v8.9h-8.9zM549.0 298.2h8.9v8.9h-8.9zM549.4 296.9h8.9v8.9h-8.9zM549.7 294.9h8.9v8.9h-8.9zM550.0 297.6h8.9v8.9h-8.9zM550.4 296.2h8.9v8.9h-8.9zM550.7 298.4h8.9v8.9h-8.9zM551.0 297.4h8.9v8.9h-8.9zM551.4 298.1h8.9v8.9h-8.9zM551.7 298.2h8.9v8.9h-8.9zM552.0 297.5h8.9v8.9h-8.9zM552.3 297.9h8.9v8.9h-8.9zM552.7 298.1h8.9v8.9h-8.9zM553.0 297.7h8.9v8.9h-8.9zM553.3 297.5h8.9v8.9h-8.9zM553.7 296.1h8.9v8.9h-8.9zM554.0 298.1h8.9v8.9h-8.9zM554.3 298.4h8.9v8.9h-8.9zM554.6 298.7h8.9v8.9h-8.9zM555.0 299.0h8.9v8.9h-8.9zM555.3 299.2h8.9v8.9h-8.9zM555.6 298.6h8.9v8.9h-8.9zM556.0 298.4h8.9v8.9h-8.9zM556.3 298.6h8.9v8.9h-8.9zM556.6 298.1h8.9v8.9h-8.9zM556.9 298.9h8.9v8.9h-8.9zM557.3 299.1h8.9v8.9h-8.9zM557.6 298.4h8.9v8.9h-8.9zM557.9 298.4h8.9v8.9h-8.9zM558.3 298.6h8.9v8.9h-8.9zM558.6 298.8h8.9v8.9h-8.9zM558.9 298.8h8.9v8.9h-8.9zM559.2 297.9h8.9v8.9h-8.9zM559.6 298.7h8.9v8.9h-8.9zM559.9 298.6h8.9v8.9h-8.9zM560.2 298.2h8.9v8.9h-8.9zM560.6 298.7h8.9v8.9h-8.9zM560.9 298.5h8.9v8.9h-8.9zM561.2 297.7h8.9v8.9h-8.9zM561.5 298.2h8.9v8.9h-8.9zM561.9 297.5h8.9v8.9h-8.9zM562.2 298.0h8.9v8.9h-8.9zM562.5 298.4h8.9v8.9h-8.9zM562.9 298.4h8.9v8.9h-8.9zM563.2 298.8h8.9v8.9h-8.9zM563.5 298.5h8.9v8.9h-8.9zM563.8 297.8h8.9v8.9h-8.9zM564.2 298.2h8.9v8.9h-8.9zM564.5 298.4h8.9v8.9h-8.9zM564.8 298.1h8.9v8.9h-8.9zM565.2 298.9h8.9v8.9h-8.9zM565.5 298.7h8.9v8.9h-8.9zM565.8 298.3h8.9v8.9h-8.9zM566.1 298.1h8.9v8.9h-8.9zM566.5 298.3h8.9v8.9h-8.9zM566.8 297.9h8.9v8.9h-8.9zM567.1 297.8h8.9v8.9h-8.9zM567.5 298.4h8.9v8.9h-8.9zM567.8 298.4h8.9v8.9h-8.9zM568.1 298.1h8.9v8.9h-8.9zM568.4 298.1h8.9v8.9h-8.9zM568.8 298.3h8.9v8.9h-8.9zM569.1 298.0h8.9v8.9h-8.9zM569.4 298.5h8.9v8.9h-8.9zM569.8 298.5h8.9v8.9h-8.9zM570.1 298.0h8.9v8.9h-8.9zM570.4 298.5h8.9v8.9h-8.9zM570.7 298.9h8.9v8.9h-8.9zM571.1 298.4h8.9v8.9h-8.9zM571.4 298.8h8.9v8.9h-8.9zM571.7 298.0h8.9v8.9h-8.9zM572.1 298.1h8.9v8.9h-8.9zM572.4 297.9h8.9v8.9h-8.9zM572.7 298.0h8.9v8.9h-8.9zM573.0 298.2h8.9v8.9h-8.9zM573.4 297.5h8.9v8.9h-8.9zM573.7 298.6h8.9v8.9h-8.9zM574.0 298.5h8.9v8.9h-8.9zM574.4 298.8h8.9v8.9h-8.9zM574.7 298.6h8.9v8.9h-8.9zM575.0 298.6h8.9v8.9h-8.9zM575.4 298.9h8.9v8.9h-8.9zM575.7 298.2h8.9v8.9h-8.9zM576.0 298.6h8.9v8.9h-8.9zM576.3 298.1h8.9v8.9h-8.9zM576.7 297.8h8.9v8.9h-8.9zM577.0 298.6h8.9v8.9h-8.9zM577.3 297.9h8.9v8.9h-8.9zM577.7 298.2h8.9v8.9h-8.9zM578.0 298.3h8.9v8.9h-8.9zM578.3 298.2h8.9v8.9h-8.9zM578.6 298.2h8.9v8.9h-8.9zM579.0 298.7h8.9v8.9h-8.9zM579.3 298.6h8.9v8.9h-8.9zM579.6 298.4h8.9v8.9h-8.9zM580.0 298.1h8.9v8.9h-8.9zM580.3 298.2h8.9v8.9h-8.9zM580.6 298.7h8.9v8.9h-8.9zM580.9 298.5h8.9v8.9h-8.9zM581.3 298.2h8.9v8.9h-8.9zM581.6 298.9h8.9v8.9h-8.9zM581.9 298.3h8.9v8.9h-8.9zM582.3 298.3h8.9v8.9h-8.9zM582.6 298.1h8.9v8.9h-8.9zM582.9 298.7h8.9v8.9h-8.9zM583.2 298.8h8.9v8.9h-8.9zM583.6 298.5h8.9v8.9h-8.9zM583.9 298.0h8.9v8.9h-8.9zM584.2 298.9h8.9v8.9h-8.9zM584.6 298.6h8.9v8.9h-8.9zM584.9 298.3h8.9v8.9h-8.9zM585.2 298.6h8.9v8.9h-8.9zM585.5 298.0h8.9v8.9h-8.9zM585.9 298.3h8.9v8.9h-8.9zM586.2 298.6h8.9v8.9h-8.9zM586.5 298.5h8.9v8.9h-8.9zM586.9 298.9h8.9v8.9h-8.9zM587.2 298.4h8.9v8.9h-8.9zM587.5 297.8h8.9v8.9h-8.9zM587.8 297.6h8.9v8.9h-8.9zM588.2 298.5h8.9v8.9h-8.9zM588.5 298.4h8.9v8.9h-8.9zM588.8 298.2h8.9v8.9h-8.9zM589.2 297.9h8.9v8.9h-8.9zM589.5 298.1h8.9v8.9h-8.9zM589.8 298.8h8.9v8.9h-8.9zM590.1 298.2h8.9v8.9h-8.9zM590.5 297.6h8.9v8.9h-8.9zM590.8 297.8h8.9v8.9h-8.9zM591.1 298.7h8.9v8.9h-8.9zM591.5 298.4h8.9v8.9h-8.9zM591.8 298.2h8.9v8.9h-8.9zM592.1 298.5h8.9v8.9h-8.9zM592.4 298.9h8.9v8.9h-8.9zM592.8 298.6h8.9v8.9h-8.9zM593.1 298.6h8.9v8.9h-8.9zM593.4 298.3h8.9v8.9h-8.9zM593.8 298.4h8.9v8.9h-8.9zM594.1 298.1h8.9v8.9h-8.9zM594.4 297.3h8.9v8.9h-8.9zM594.7 298.4h8.9v8.9h-8.9zM595.1 298.7h8.9v8.9h-8.9zM595.4 298.6h8.9v8.9h-8.9zM595.7 298.6h8.9v8.9h-8.9zM596.1 297.7h8.9v8.9h-8.9zM596.4 298.0h8.9v8.9h-8.9zM596.7 298.3h8.9v8.9h-8.9zM597.0 298.2h8.9v8.9h-8.9zM597.4 298.4h8.9v8.9h-8.9zM597.7 298.4h8.9v8.9h-8.9zM598.0 298.6h8.9v8.9h-8.9zM598.4 298.5h8.9v8.9h-8.9zM598.7 298.5h8.9v8.9h-8.9zM599.0 298.1h8.9v8.9h-8.9zM599.4 298.5h8.9v8.9h-8.9zM599.7 298.8h8.9v8.9h-8.9zM600.0 297.9h8.9v8.9h-8.9zM600.3 297.7h8.9v8.9h-8.9zM600.7 298.0h8.9v8.9h-8.9zM601.0 298.8h8.9v8.9h-8.9zM601.3 298.4h8.9v8.9h-8.9zM601.7 297.8h8.9v8.9h-8.9zM602.0 298.2h8.9v8.9h-8.9zM602.3 298.6h8.9v8.9h-8.9zM602.6 298.3h8.9v8.9h-8.9zM603.0 297.8h8.9v8.9h-8.9zM603.3 298.3h8.9v8.9h-8.9zM603.6 296.2h8.9v8.9h-8.9zM604.0 297.6h8.9v8.9h-8.9zM604.3 298.7h8.9v8.9h-8.9zM604.6 297.8h8.9v8.9h-8.9zM604.9 298.4h8.9v8.9h-8.9zM605.3 296.2h8.9v8.9h-8.9zM605.6 294.4h8.9v8.9h-8.9zM605.9 295.6h8.9v8.9h-8.9zM606.3 296.5h8.9v8.9h-8.9zM606.6 295.4h8.9v8.9h-8.9zM606.9 297.6h8.9v8.9h-8.9zM607.2 298.0h8.9v8.9h-8.9zM607.6 298.3h8.9v8.9h-8.9zM607.9 298.4h8.9v8.9h-8.9zM608.2 295.2h8.9v8.9h-8.9zM608.6 296.1h8.9v8.9h-8.9zM608.9 297.2h8.9v8.9h-8.9zM609.2 297.9h8.9v8.9h-8.9zM609.5 297.5h8.9v8.9h-8.9zM609.9 296.3h8.9v8.9h-8.9zM610.2 297.6h8.9v8.9h-8.9zM610.5 296.8h8.9v8.9h-8.9zM610.9 298.3h8.9v8.9h-8.9zM611.2 297.5h8.9v8.9h-8.9zM611.5 296.8h8.9v8.9h-8.9zM611.8 298.0h8.9v8.9h-8.9zM612.2 298.2h8.9v8.9h-8.9zM612.5 295.6h8.9v8.9h-8.9zM612.8 297.3h8.9v8.9h-8.9zM613.2 298.1h8.9v8.9h-8.9zM613.5 296.8h8.9v8.9h-8.9zM613.8 298.0h8.9v8.9h-8.9zM614.1 298.4h8.9v8.9h-8.9zM614.5 296.5h8.9v8.9h-8.9zM614.8 297.5h8.9v8.9h-8.9zM615.1 296.4h8.9v8.9h-8.9zM615.5 297.2h8.9v8.9h-8.9zM615.8 298.0h8.9v8.9h-8.9zM616.1 298.1h8.9v8.9h-8.9zM616.4 296.6h8.9v8.9h-8.9zM616.8 297.0h8.9v8.9h-8.9zM617.1 297.4h8.9v8.9h-8.9zM617.4 295.0h8.9v8.9h-8.9zM617.8 296.9h8.9v8.9h-8.9zM618.1 294.3h8.9v8.9h-8.9zM618.4 295.0h8.9v8.9h-8.9zM618.7 295.8h8.9v8.9h-8.9zM619.1 298.0h8.9v8.9h-8.9zM619.4 296.1h8.9v8.9h-8.9zM619.7 294.1h8.9v8.9h-8.9zM620.1 296.6h8.9v8.9h-8.9zM620.4 298.1h8.9v8.9h-8.9zM620.7 298.1h8.9v8.9h-8.9zM621.0 298.3h8.9v8.9h-8.9zM621.4 296.9h8.9v8.9h-8.9zM621.7 295.7h8.9v8.9h-8.9zM622.0 297.3h8.9v8.9h-8.9zM622.4 297.7h8.9v8.9h-8.9zM622.7 297.9h8.9v8.9h-8.9zM623.0 297.3h8.9v8.9h-8.9zM623.4 297.5h8.9v8.9h-8.9zM623.7 296.8h8.9v8.9h-8.9zM624.0 298.1h8.9v8.9h-8.9zM624.3 296.5h8.9v8.9h-8.9zM624.7 297.3h8.9v8.9h-8.9zM625.0 297.6h8.9v8.9h-8.9zM625.3 294.5h8.9v8.9h-8.9zM625.7 295.8h8.9v8.9h-8.9zM626.0 297.6h8.9v8.9h-8.9zM626.3 293.0h8.9v8.9h-8.9zM626.6 295.8h8.9v8.9h-8.9zM627.0 296.6h8.9v8.9h-8.9zM627.3 297.8h8.9v8.9h-8.9zM627.6 298.0h8.9v8.9h-8.9zM628.0 297.6h8.9v8.9h-8.9zM628.3 296.3h8.9v8.9h-8.9zM628.6 295.4h8.9v8.9h-8.9zM628.9 272.2h8.9v8.9h-8.9zM629.3 278.1h8.9v8.9h-8.9zM629.6 292.1h8.9v8.9h-8.9zM629.9 291.2h8.9v8.9h-8.9zM630.3 288.4h8.9v8.9h-8.9zM630.6 293.6h8.9v8.9h-8.9zM630.9 267.8h8.9v8.9h-8.9zM631.2 226.6h8.9v8.9h-8.9zM631.6 247.8h8.9v8.9h-8.9zM631.9 248.1h8.9v8.9h-8.9zM632.2 262.7h8.9v8.9h-8.9zM632.6 266.2h8.9v8.9h-8.9zM632.9 286.8h8.9v8.9h-8.9zM633.2 280.8h8.9v8.9h-8.9zM633.5 282.4h8.9v8.9h-8.9zM633.9 292.3h8.9v8.9h-8.9zM634.2 295.1h8.9v8.9h-8.9zM634.5 237.8h8.9v8.9h-8.9zM634.9 276.2h8.9v8.9h-8.9zM635.2 220.4h8.9v8.9h-8.9zM635.5 180.6h8.9v8.9h-8.9zM635.8 197.6h8.9v8.9h-8.9zM636.2 202.9h8.9v8.9h-8.9zM636.5 224.7h8.9v8.9h-8.9zM636.8 234.1h8.9v8.9h-8.9zM637.2 245.7h8.9v8.9h-8.9zM637.5 262.8h8.9v8.9h-8.9zM637.8 280.9h8.9v8.9h-8.9zM638.1 270.7h8.9v8.9h-8.9zM638.5 263.7h8.9v8.9h-8.9zM638.8 288.1h8.9v8.9h-8.9zM639.1 271.6h8.9v8.9h-8.9zM639.5 251.4h8.9v8.9h-8.9zM639.8 272.0h8.9v8.9h-8.9zM640.1 266.0h8.9v8.9h-8.9zM640.4 254.9h8.9v8.9h-8.9zM640.8 268.5h8.9v8.9h-8.9zM641.1 279.0h8.9v8.9h-8.9zM641.4 285.2h8.9v8.9h-8.9zM641.8 279.3h8.9v8.9h-8.9zM642.1 282.9h8.9v8.9h-8.9zM642.4 292.2h8.9v8.9h-8.9zM642.7 295.1h8.9v8.9h-8.9zM643.1 294.2h8.9v8.9h-8.9zM643.4 283.0h8.9v8.9h-8.9zM643.7 290.5h8.9v8.9h-8.9zM644.1 293.8h8.9v8.9h-8.9zM644.4 281.0h8.9v8.9h-8.9zM644.7 291.4h8.9v8.9h-8.9zM645.0 294.8h8.9v8.9h-8.9zM645.4 294.6h8.9v8.9h-8.9zM645.7 295.3h8.9v8.9h-8.9zM646.0 284.7h8.9v8.9h-8.9zM646.4 292.3h8.9v8.9h-8.9zM646.7 292.1h8.9v8.9h-8.9zM647.0 293.2h8.9v8.9h-8.9zM647.4 295.0h8.9v8.9h-8.9zM647.7 284.0h8.9v8.9h-8.9zM648.0 293.1h8.9v8.9h-8.9zM648.3 294.9h8.9v8.9h-8.9zM648.7 287.9h8.9v8.9h-8.9zM649.0 293.0h8.9v8.9h-8.9zM649.3 292.9h8.9v8.9h-8.9zM649.7 294.8h8.9v8.9h-8.9zM650.0 293.0h8.9v8.9h-8.9zM650.3 295.1h8.9v8.9h-8.9zM650.6 294.1h8.9v8.9h-8.9zM651.0 296.5h8.9v8.9h-8.9zM651.3 297.5h8.9v8.9h-8.9zM651.6 294.5h8.9v8.9h-8.9zM652.0 287.7h8.9v8.9h-8.9zM652.3 282.4h8.9v8.9h-8.9zM652.6 289.6h8.9v8.9h-8.9zM652.9 293.4h8.9v8.9h-8.9zM653.3 291.9h8.9v8.9h-8.9zM653.6 291.7h8.9v8.9h-8.9zM653.9 290.9h8.9v8.9h-8.9zM654.3 285.9h8.9v8.9h-8.9zM654.6 293.8h8.9v8.9h-8.9zM654.9 295.9h8.9v8.9h-8.9zM655.2 290.3h8.9v8.9h-8.9zM655.6 296.1h8.9v8.9h-8.9zM655.9 297.4h8.9v8.9h-8.9zM656.2 288.6h8.9v8.9h-8.9zM656.6 295.2h8.9v8.9h-8.9zM656.9 289.9h8.9v8.9h-8.9zM657.2 287.3h8.9v8.9h-8.9zM657.5 295.4h8.9v8.9h-8.9zM657.9 292.0h8.9v8.9h-8.9zM658.2 295.3h8.9v8.9h-8.9zM658.5 295.9h8.9v8.9h-8.9zM658.9 286.8h8.9v8.9h-8.9zM659.2 285.1h8.9v8.9h-8.9zM659.5 288.1h8.9v8.9h-8.9zM659.8 293.3h8.9v8.9h-8.9zM660.2 285.2h8.9v8.9h-8.9zM660.5 289.8h8.9v8.9h-8.9zM660.8 283.9h8.9v8.9h-8.9zM661.2 287.5h8.9v8.9h-8.9zM661.5 295.4h8.9v8.9h-8.9zM661.8 290.7h8.9v8.9h-8.9zM662.1 284.7h8.9v8.9h-8.9zM662.5 283.1h8.9v8.9h-8.9zM662.8 289.7h8.9v8.9h-8.9zM663.1 295.5h8.9v8.9h-8.9zM663.5 286.3h8.9v8.9h-8.9zM663.8 292.7h8.9v8.9h-8.9zM664.1 295.4h8.9v8.9h-8.9zM664.4 295.8h8.9v8.9h-8.9zM664.8 295.7h8.9v8.9h-8.9zM665.1 286.9h8.9v8.9h-8.9zM665.4 295.4h8.9v8.9h-8.9zM665.8 284.7h8.9v8.9h-8.9zM666.1 294.0h8.9v8.9h-8.9zM666.4 289.0h8.9v8.9h-8.9zM666.7 293.8h8.9v8.9h-8.9zM667.1 292.8h8.9v8.9h-8.9zM667.4 295.5h8.9v8.9h-8.9zM667.7 282.8h8.9v8.9h-8.9zM668.1 294.0h8.9v8.9h-8.9zM668.4 295.0h8.9v8.9h-8.9zM668.7 291.6h8.9v8.9h-8.9zM669.0 294.8h8.9v8.9h-8.9zM669.4 295.4h8.9v8.9h-8.9zM669.7 295.9h8.9v8.9h-8.9zM670.0 287.1h8.9v8.9h-8.9zM670.4 294.6h8.9v8.9h-8.9zM670.7 297.2h8.9v8.9h-8.9zM671.0 291.5h8.9v8.9h-8.9zM671.4 290.1h8.9v8.9h-8.9zM671.7 292.3h8.9v8.9h-8.9zM672.0 295.4h8.9v8.9h-8.9zM672.3 290.2h8.9v8.9h-8.9zM672.7 295.2h8.9v8.9h-8.9zM673.0 297.6h8.9v8.9h-8.9zM673.3 296.4h8.9v8.9h-8.9zM673.7 295.4h8.9v8.9h-8.9zM674.0 295.5h8.9v8.9h-8.9zM674.3 292.9h8.9v8.9h-8.9zM674.6 297.2h8.9v8.9h-8.9zM675.0 292.1h8.9v8.9h-8.9zM675.3 295.8h8.9v8.9h-8.9zM675.6 294.9h8.9v8.9h-8.9zM676.0 296.6h8.9v8.9h-8.9zM676.3 297.0h8.9v8.9h-8.9zM676.6 297.6h8.9v8.9h-8.9zM676.9 297.4h8.9v8.9h-8.9zM677.3 297.0h8.9v8.9h-8.9zM677.6 296.8h8.9v8.9h-8.9zM677.9 294.6h8.9v8.9h-8.9zM678.3 297.8h8.9v8.9h-8.9zM678.6 297.6h8.9v8.9h-8.9zM678.9 296.9h8.9v8.9h-8.9zM679.2 295.8h8.9v8.9h-8.9zM679.6 296.6h8.9v8.9h-8.9zM679.9 297.1h8.9v8.9h-8.9zM680.2 297.0h8.9v8.9h-8.9zM680.6 297.7h8.9v8.9h-8.9zM680.9 297.5h8.9v8.9h-8.9zM681.2 297.0h8.9v8.9h-8.9zM681.5 297.2h8.9v8.9h-8.9zM681.9 298.4h8.9v8.9h-8.9zM682.2 298.2h8.9v8.9h-8.9zM682.5 298.3h8.9v8.9h-8.9zM682.9 298.6h8.9v8.9h-8.9zM683.2 298.6h8.9v8.9h-8.9zM683.5 296.7h8.9v8.9h-8.9zM683.8 297.7h8.9v8.9h-8.9zM684.2 298.1h8.9v8.9h-8.9zM684.5 298.2h8.9v8.9h-8.9zM684.8 298.8h8.9v8.9h-8.9zM685.2 297.8h8.9v8.9h-8.9zM685.5 298.4h8.9v8.9h-8.9zM685.8 296.4h8.9v8.9h-8.9zM686.1 297.0h8.9v8.9h-8.9zM686.5 295.7h8.9v8.9h-8.9zM686.8 295.6h8.9v8.9h-8.9zM687.1 297.3h8.9v8.9h-8.9zM687.5 298.4h8.9v8.9h-8.9zM687.8 298.7h8.9v8.9h-8.9zM688.1 298.6h8.9v8.9h-8.9zM688.4 297.4h8.9v8.9h-8.9zM688.8 297.8h8.9v8.9h-8.9zM689.1 297.5h8.9v8.9h-8.9zM689.4 298.4h8.9v8.9h-8.9zM689.8 298.3h8.9v8.9h-8.9zM690.1 296.7h8.9v8.9h-8.9zM690.4 298.4h8.9v8.9h-8.9zM690.7 298.5h8.9v8.9h-8.9zM691.1 298.5h8.9v8.9h-8.9zM691.4 295.9h8.9v8.9h-8.9zM691.7 297.7h8.9v8.9h-8.9zM692.1 298.2h8.9v8.9h-8.9zM692.4 298.6h8.9v8.9h-8.9zM692.7 298.5h8.9v8.9h-8.9zM693.0 298.1h8.9v8.9h-8.9zM693.4 297.7h8.9v8.9h-8.9zM693.7 298.1h8.9v8.9h-8.9zM694.0 296.6h8.9v8.9h-8.9zM694.4 296.3h8.9v8.9h-8.9zM694.7 297.2h8.9v8.9h-8.9zM695.0 298.5h8.9v8.9h-8.9zM695.4 297.5h8.9v8.9h-8.9zM695.7 298.7h8.9v8.9h-8.9zM696.0 297.8h8.9v8.9h-8.9zM696.3 296.1h8.9v8.9h-8.9zM696.7 296.4h8.9v8.9h-8.9zM697.0 298.3h8.9v8.9h-8.9zM697.3 297.6h8.9v8.9h-8.9zM697.7 296.9h8.9v8.9h-8.9zM698.0 298.1h8.9v8.9h-8.9zM698.3 297.2h8.9v8.9h-8.9zM698.6 298.0h8.9v8.9h-8.9zM699.0 297.8h8.9v8.9h-8.9zM699.3 297.4h8.9v8.9h-8.9zM699.6 297.3h8.9v8.9h-8.9zM700.0 298.0h8.9v8.9h-8.9zM700.3 298.8h8.9v8.9h-8.9zM700.6 297.1h8.9v8.9h-8.9zM700.9 298.2h8.9v8.9h-8.9zM701.3 298.3h8.9v8.9h-8.9zM701.6 298.1h8.9v8.9h-8.9zM701.9 297.1h8.9v8.9h-8.9zM702.3 298.0h8.9v8.9h-8.9zM702.6 297.5h8.9v8.9h-8.9zM702.9 297.6h8.9v8.9h-8.9zM703.2 297.0h8.9v8.9h-8.9zM703.6 295.9h8.9v8.9h-8.9zM703.9 297.9h8.9v8.9h-8.9zM704.2 298.2h8.9v8.9h-8.9zM704.6 298.7h8.9v8.9h-8.9zM704.9 298.6h8.9v8.9h-8.9zM705.2 298.9h8.9v8.9h-8.9zM705.5 298.4h8.9v8.9h-8.9zM705.9 297.7h8.9v8.9h-8.9zM706.2 298.3h8.9v8.9h-8.9zM706.5 298.4h8.9v8.9h-8.9zM706.9 297.7h8.9v8.9h-8.9zM707.2 298.0h8.9v8.9h-8.9zM707.5 298.2h8.9v8.9h-8.9zM707.8 298.2h8.9v8.9h-8.9zM708.2 298.4h8.9v8.9h-8.9zM708.5 298.7h8.9v8.9h-8.9zM708.8 298.1h8.9v8.9h-8.9zM709.2 297.9h8.9v8.9h-8.9zM709.5 296.7h8.9v8.9h-8.9zM709.8 297.1h8.9v8.9h-8.9zM710.1 296.5h8.9v8.9h-8.9zM710.5 298.1h8.9v8.9h-8.9zM710.8 297.8h8.9v8.9h-8.9zM711.1 297.2h8.9v8.9h-8.9zM711.5 297.0h8.9v8.9h-8.9zM711.8 296.3h8.9v8.9h-8.9zM712.1 297.3h8.9v8.9h-8.9zM712.4 298.6h8.9v8.9h-8.9zM712.8 297.8h8.9v8.9h-8.9zM713.1 297.9h8.9v8.9h-8.9zM713.4 299.0h8.9v8.9h-8.9zM713.8 298.2h8.9v8.9h-8.9zM714.1 297.7h8.9v8.9h-8.9zM714.4 297.7h8.9v8.9h-8.9zM714.7 297.2h8.9v8.9h-8.9zM715.1 297.6h8.9v8.9h-8.9zM715.4 298.4h8.9v8.9h-8.9zM715.7 298.3h8.9v8.9h-8.9zM716.1 298.3h8.9v8.9h-8.9zM716.4 298.0h8.9v8.9h-8.9zM716.7 297.7h8.9v8.9h-8.9zM717.0 298.7h8.9v8.9h-8.9zM717.4 296.2h8.9v8.9h-8.9zM717.7 297.0h8.9v8.9h-8.9zM718.0 298.8h8.9v8.9h-8.9zM718.4 298.1h8.9v8.9h-8.9zM718.7 298.6h8.9v8.9h-8.9zM719.0 298.5h8.9v8.9h-8.9zM719.4 297.4h8.9v8.9h-8.9zM719.7 297.3h8.9v8.9h-8.9zM720.0 297.4h8.9v8.9h-8.9zM720.3 297.6h8.9v8.9h-8.9zM720.7 297.4h8.9v8.9h-8.9zM721.0 297.3h8.9v8.9h-8.9zM721.3 298.5h8.9v8.9h-8.9zM721.7 298.8h8.9v8.9h-8.9zM722.0 298.1h8.9v8.9h-8.9zM722.3 297.5h8.9v8.9h-8.9zM722.6 298.9h8.9v8.9h-8.9zM723.0 297.8h8.9v8.9h-8.9zM723.3 298.2h8.9v8.9h-8.9zM723.6 298.8h8.9v8.9h-8.9zM724.0 297.0h8.9v8.9h-8.9zM724.3 296.7h8.9v8.9h-8.9zM724.6 296.6h8.9v8.9h-8.9zM724.9 297.6h8.9v8.9h-8.9zM725.3 298.4h8.9v8.9h-8.9zM725.6 295.9h8.9v8.9h-8.9zM725.9 296.8h8.9v8.9h-8.9zM726.3 295.9h8.9v8.9h-8.9zM726.6 295.0h8.9v8.9h-8.9zM726.9 298.5h8.9v8.9h-8.9zM727.2 295.8h8.9v8.9h-8.9zM727.6 297.9h8.9v8.9h-8.9zM727.9 297.8h8.9v8.9h-8.9zM728.2 298.2h8.9v8.9h-8.9zM728.6 298.7h8.9v8.9h-8.9zM728.9 297.6h8.9v8.9h-8.9zM729.2 298.4h8.9v8.9h-8.9zM729.5 296.5h8.9v8.9h-8.9zM729.9 297.8h8.9v8.9h-8.9zM730.2 297.9h8.9v8.9h-8.9zM730.5 298.4h8.9v8.9h-8.9zM730.9 296.5h8.9v8.9h-8.9zM731.2 297.0h8.9v8.9h-8.9zM731.5 296.4h8.9v8.9h-8.9zM731.8 297.6h8.9v8.9h-8.9zM732.2 295.9h8.9v8.9h-8.9zM732.5 298.1h8.9v8.9h-8.9zM732.8 295.7h8.9v8.9h-8.9zM733.2 295.9h8.9v8.9h-8.9zM733.5 298.2h8.9v8.9h-8.9zM733.8 295.3h8.9v8.9h-8.9zM734.1 297.9h8.9v8.9h-8.9zM734.5 296.5h8.9v8.9h-8.9zM734.8 298.3h8.9v8.9h-8.9zM735.1 296.2h8.9v8.9h-8.9zM735.5 295.6h8.9v8.9h-8.9zM735.8 297.5h8.9v8.9h-8.9zM736.1 298.5h8.9v8.9h-8.9zM736.4 295.3h8.9v8.9h-8.9zM736.8 297.0h8.9v8.9h-8.9zM737.1 297.9h8.9v8.9h-8.9zM737.4 298.2h8.9v8.9h-8.9zM737.8 298.8h8.9v8.9h-8.9zM738.1 298.1h8.9v8.9h-8.9zM738.4 298.4h8.9v8.9h-8.9zM738.7 295.5h8.9v8.9h-8.9zM739.1 297.2h8.9v8.9h-8.9zM739.4 298.5h8.9v8.9h-8.9zM739.7 297.7h8.9v8.9h-8.9zM740.1 297.2h8.9v8.9h-8.9zM740.4 297.5h8.9v8.9h-8.9zM740.7 296.3h8.9v8.9h-8.9zM741.0 294.9h8.9v8.9h-8.9zM741.4 294.9h8.9v8.9h-8.9zM741.7 295.9h8.9v8.9h-8.9zM742.0 296.8h8.9v8.9h-8.9zM742.4 294.2h8.9v8.9h-8.9zM742.7 292.0h8.9v8.9h-8.9zM743.0 292.3h8.9v8.9h-8.9zM743.4 294.7h8.9v8.9h-8.9zM743.7 289.8h8.9v8.9h-8.9zM744.0 296.8h8.9v8.9h-8.9zM744.3 292.8h8.9v8.9h-8.9zM744.7 292.1h8.9v8.9h-8.9zM745.0 292.3h8.9v8.9h-8.9zM745.3 295.1h8.9v8.9h-8.9zM745.7 285.2h8.9v8.9h-8.9zM746.0 293.5h8.9v8.9h-8.9zM746.3 295.8h8.9v8.9h-8.9zM746.6 288.0h8.9v8.9h-8.9zM747.0 285.4h8.9v8.9h-8.9zM747.3 291.9h8.9v8.9h-8.9zM747.6 293.4h8.9v8.9h-8.9zM748.0 262.4h8.9v8.9h-8.9zM748.3 283.5h8.9v8.9h-8.9zM748.6 287.2h8.9v8.9h-8.9zM748.9 293.3h8.9v8.9h-8.9zM749.3 283.2h8.9v8.9h-8.9zM749.6 253.1h8.9v8.9h-8.9zM749.9 243.6h8.9v8.9h-8.9zM750.3 250.9h8.9v8.9h-8.9zM750.6 251.2h8.9v8.9h-8.9zM750.9 264.7h8.9v8.9h-8.9zM751.2 257.3h8.9v8.9h-8.9zM751.6 257.4h8.9v8.9h-8.9zM751.9 288.8h8.9v8.9h-8.9zM752.2 295.6h8.9v8.9h-8.9zM752.6 291.4h8.9v8.9h-8.9zM752.9 283.4h8.9v8.9h-8.9zM753.2 288.4h8.9v8.9h-8.9zM753.5 273.5h8.9v8.9h-8.9zM753.9 288.7h8.9v8.9h-8.9zM754.2 294.6h8.9v8.9h-8.9zM754.5 283.9h8.9v8.9h-8.9zM754.9 273.8h8.9v8.9h-8.9zM755.2 290.4h8.9v8.9h-8.9zM755.5 293.3h8.9v8.9h-8.9zM755.8 293.3h8.9v8.9h-8.9zM756.2 294.6h8.9v8.9h-8.9zM756.5 281.0h8.9v8.9h-8.9zM756.8 292.5h8.9v8.9h-8.9zM757.2 284.4h8.9v8.9h-8.9zM757.5 281.3h8.9v8.9h-8.9zM757.8 285.8h8.9v8.9h-8.9zM758.1 284.8h8.9v8.9h-8.9zM758.5 262.8h8.9v8.9h-8.9zM758.8 270.6h8.9v8.9h-8.9zM759.1 287.3h8.9v8.9h-8.9zM759.5 294.5h8.9v8.9h-8.9zM759.8 295.7h8.9v8.9h-8.9zM760.1 279.4h8.9v8.9h-8.9zM760.4 287.8h8.9v8.9h-8.9zM760.8 283.9h8.9v8.9h-8.9zM761.1 292.1h8.9v8.9h-8.9zM761.4 293.5h8.9v8.9h-8.9zM761.8 270.8h8.9v8.9h-8.9zM762.1 289.1h8.9v8.9h-8.9zM762.4 290.9h8.9v8.9h-8.9zM762.7 289.7h8.9v8.9h-8.9zM763.1 279.7h8.9v8.9h-8.9zM763.4 257.6h8.9v8.9h-8.9zM763.7 280.9h8.9v8.9h-8.9zM764.1 292.1h8.9v8.9h-8.9zM764.4 284.2h8.9v8.9h-8.9zM764.7 293.1h8.9v8.9h-8.9zM765.0 295.0h8.9v8.9h-8.9zM765.4 296.3h8.9v8.9h-8.9zM765.7 295.6h8.9v8.9h-8.9zM766.0 277.3h8.9v8.9h-8.9zM766.4 287.2h8.9v8.9h-8.9zM766.7 276.9h8.9v8.9h-8.9zM767.0 266.1h8.9v8.9h-8.9zM767.4 291.2h8.9v8.9h-8.9zM767.7 285.8h8.9v8.9h-8.9zM768.0 275.3h8.9v8.9h-8.9zM768.3 292.8h8.9v8.9h-8.9zM768.7 296.3h8.9v8.9h-8.9zM769.0 294.0h8.9v8.9h-8.9zM769.3 292.7h8.9v8.9h-8.9zM769.7 290.9h8.9v8.9h-8.9zM770.0 292.3h8.9v8.9h-8.9zM770.3 296.2h8.9v8.9h-8.9zM770.6 296.8h8.9v8.9h-8.9zM771.0 296.9h8.9v8.9h-8.9zM771.3 296.6h8.9v8.9h-8.9zM771.6 297.7h8.9v8.9h-8.9zM772.0 297.3h8.9v8.9h-8.9zM772.3 294.3h8.9v8.9h-8.9zM772.6 295.6h8.9v8.9h-8.9zM772.9 297.1h8.9v8.9h-8.9zM773.3 295.3h8.9v8.9h-8.9zM773.6 296.6h8.9v8.9h-8.9zM773.9 296.0h8.9v8.9h-8.9zM774.3 296.1h8.9v8.9h-8.9zM774.6 297.1h8.9v8.9h-8.9zM774.9 292.2h8.9v8.9h-8.9zM775.2 292.3h8.9v8.9h-8.9zM775.6 285.0h8.9v8.9h-8.9zM775.9 294.9h8.9v8.9h-8.9zM776.2 294.7h8.9v8.9h-8.9zM776.6 295.8h8.9v8.9h-8.9zM776.9 295.1h8.9v8.9h-8.9zM777.2 291.7h8.9v8.9h-8.9zM777.5 295.9h8.9v8.9h-8.9zM777.9 296.1h8.9v8.9h-8.9zM778.2 297.1h8.9v8.9h-8.9zM778.5 295.9h8.9v8.9h-8.9zM778.9 295.1h8.9v8.9h-8.9zM779.2 297.0h8.9v8.9h-8.9zM779.5 297.1h8.9v8.9h-8.9zM779.8 296.5h8.9v8.9h-8.9zM780.2 294.6h8.9v8.9h-8.9zM780.5 296.6h8.9v8.9h-8.9zM780.8 292.9h8.9v8.9h-8.9zM781.2 289.1h8.9v8.9h-8.9zM781.5 294.6h8.9v8.9h-8.9zM781.8 297.3h8.9v8.9h-8.9zM782.1 297.8h8.9v8.9h-8.9zM782.5 292.1h8.9v8.9h-8.9zM782.8 294.4h8.9v8.9h-8.9zM783.1 296.8h8.9v8.9h-8.9zM783.5 296.9h8.9v8.9h-8.9zM783.8 289.7h8.9v8.9h-8.9zM784.1 290.7h8.9v8.9h-8.9zM784.4 291.8h8.9v8.9h-8.9zM784.8 295.8h8.9v8.9h-8.9zM785.1 287.7h8.9v8.9h-8.9zM785.4 295.5h8.9v8.9h-8.9zM785.8 296.3h8.9v8.9h-8.9zM786.1 296.8h8.9v8.9h-8.9zM786.4 290.1h8.9v8.9h-8.9zM786.7 291.9h8.9v8.9h-8.9zM787.1 295.2h8.9v8.9h-8.9zM787.4 295.6h8.9v8.9h-8.9zM787.7 291.3h8.9v8.9h-8.9zM788.1 294.7h8.9v8.9h-8.9zM788.4 294.5h8.9v8.9h-8.9zM788.7 296.8h8.9v8.9h-8.9zM789.0 291.4h8.9v8.9h-8.9zM789.4 296.6h8.9v8.9h-8.9zM789.7 288.5h8.9v8.9h-8.9zM790.0 286.2h8.9v8.9h-8.9zM790.4 293.9h8.9v8.9h-8.9zM790.7 296.9h8.9v8.9h-8.9zM791.0 296.8h8.9v8.9h-8.9zM791.4 297.7h8.9v8.9h-8.9zM791.7 293.4h8.9v8.9h-8.9zM792.0 296.7h8.9v8.9h-8.9zM792.3 290.6h8.9v8.9h-8.9zM792.7 294.9h8.9v8.9h-8.9zM793.0 297.5h8.9v8.9h-8.9zM793.3 295.6h8.9v8.9h-8.9zM793.7 293.3h8.9v8.9h-8.9zM794.0 295.3h8.9v8.9h-8.9zM794.3 298.0h8.9v8.9h-8.9zM794.6 297.8h8.9v8.9h-8.9zM795.0 294.5h8.9v8.9h-8.9zM795.3 292.6h8.9v8.9h-8.9zM795.6 291.0h8.9v8.9h-8.9zM796.0 293.6h8.9v8.9h-8.9zM796.3 293.4h8.9v8.9h-8.9zM796.6 294.4h8.9v8.9h-8.9zM796.9 295.5h8.9v8.9h-8.9zM797.3 293.1h8.9v8.9h-8.9zM797.6 296.6h8.9v8.9h-8.9zM797.9 297.9h8.9v8.9h-8.9zM798.3 297.9h8.9v8.9h-8.9zM798.6 297.4h8.9v8.9h-8.9zM798.9 294.2h8.9v8.9h-8.9zM799.2 294.7h8.9v8.9h-8.9zM799.6 295.7h8.9v8.9h-8.9zM799.9 294.5h8.9v8.9h-8.9zM800.2 297.9h8.9v8.9h-8.9zM800.6 295.7h8.9v8.9h-8.9zM800.9 296.1h8.9v8.9h-8.9zM801.2 297.8h8.9v8.9h-8.9zM801.5 298.0h8.9v8.9h-8.9zM801.9 298.0h8.9v8.9h-8.9zM802.2 298.6h8.9v8.9h-8.9zM802.5 296.3h8.9v8.9h-8.9zM802.9 297.5h8.9v8.9h-8.9zM803.2 296.7h8.9v8.9h-8.9zM803.5 297.3h8.9v8.9h-8.9zM803.8 298.4h8.9v8.9h-8.9zM804.2 298.2h8.9v8.9h-8.9zM804.5 297.3h8.9v8.9h-8.9zM804.8 298.0h8.9v8.9h-8.9zM805.2 298.9h8.9v8.9h-8.9zM805.5 298.7h8.9v8.9h-8.9zM805.8 298.6h8.9v8.9h-8.9zM806.1 296.8h8.9v8.9h-8.9zM806.5 298.4h8.9v8.9h-8.9zM806.8 297.0h8.9v8.9h-8.9zM807.1 297.3h8.9v8.9h-8.9zM807.5 298.7h8.9v8.9h-8.9zM807.8 297.5h8.9v8.9h-8.9zM808.1 296.8h8.9v8.9h-8.9zM808.4 296.2h8.9v8.9h-8.9zM808.8 297.8h8.9v8.9h-8.9zM809.1 298.3h8.9v8.9h-8.9zM809.4 298.0h8.9v8.9h-8.9zM809.8 297.6h8.9v8.9h-8.9zM810.1 298.2h8.9v8.9h-8.9zM810.4 298.4h8.9v8.9h-8.9zM810.7 298.4h8.9v8.9h-8.9zM811.1 298.8h8.9v8.9h-8.9zM811.4 298.3h8.9v8.9h-8.9zM811.7 298.4h8.9v8.9h-8.9zM812.1 298.5h8.9v8.9h-8.9zM812.4 298.5h8.9v8.9h-8.9zM812.7 297.6h8.9v8.9h-8.9zM813.0 298.3h8.9v8.9h-8.9zM813.4 298.5h8.9v8.9h-8.9zM813.7 298.5h8.9v8.9h-8.9zM814.0 298.3h8.9v8.9h-8.9zM814.4 298.3h8.9v8.9h-8.9zM814.7 297.4h8.9v8.9h-8.9zM815.0 298.6h8.9v8.9h-8.9zM815.4 298.5h8.9v8.9h-8.9zM815.7 297.3h8.9v8.9h-8.9zM816.0 298.3h8.9v8.9h-8.9zM816.3 298.5h8.9v8.9h-8.9zM816.7 298.8h8.9v8.9h-8.9zM817.0 298.0h8.9v8.9h-8.9zM817.3 297.9h8.9v8.9h-8.9zM817.7 298.7h8.9v8.9h-8.9zM818.0 298.4h8.9v8.9h-8.9zM818.3 298.1h8.9v8.9h-8.9zM818.6 298.4h8.9v8.9h-8.9zM819.0 297.2h8.9v8.9h-8.9zM819.3 297.7h8.9v8.9h-8.9zM819.6 297.8h8.9v8.9h-8.9zM820.0 298.5h8.9v8.9h-8.9zM820.3 298.4h8.9v8.9h-8.9zM820.6 298.6h8.9v8.9h-8.9zM820.9 298.9h8.9v8.9h-8.9zM821.3 298.8h8.9v8.9h-8.9zM821.6 298.7h8.9v8.9h-8.9zM821.9 298.4h8.9v8.9h-8.9zM822.3 298.6h8.9v8.9h-8.9zM822.6 298.2h8.9v8.9h-8.9zM822.9 298.4h8.9v8.9h-8.9zM823.2 298.3h8.9v8.9h-8.9zM823.6 298.2h8.9v8.9h-8.9zM823.9 298.2h8.9v8.9h-8.9zM824.2 297.9h8.9v8.9h-8.9zM824.6 298.4h8.9v8.9h-8.9zM824.9 298.2h8.9v8.9h-8.9zM825.2 297.6h8.9v8.9h-8.9zM825.5 297.2h8.9v8.9h-8.9zM825.9 298.0h8.9v8.9h-8.9zM826.2 297.3h8.9v8.9h-8.9zM826.5 297.4h8.9v8.9h-8.9zM826.9 297.6h8.9v8.9h-8.9zM827.2 298.6h8.9v8.9h-8.9zM827.5 298.3h8.9v8.9h-8.9zM827.8 298.0h8.9v8.9h-8.9zM828.2 298.3h8.9v8.9h-8.9zM828.5 298.5h8.9v8.9h-8.9zM828.8 296.9h8.9v8.9h-8.9zM829.2 298.2h8.9v8.9h-8.9zM829.5 296.8h8.9v8.9h-8.9zM829.8 298.3h8.9v8.9h-8.9zM830.1 298.5h8.9v8.9h-8.9zM830.5 298.1h8.9v8.9h-8.9zM830.8 298.6h8.9v8.9h-8.9zM831.1 298.6h8.9v8.9h-8.9zM831.5 298.2h8.9v8.9h-8.9zM831.8 297.6h8.9v8.9h-8.9zM832.1 297.3h8.9v8.9h-8.9zM832.4 298.1h8.9v8.9h-8.9zM832.8 297.6h8.9v8.9h-8.9zM833.1 297.4h8.9v8.9h-8.9zM833.4 298.3h8.9v8.9h-8.9zM833.8 297.4h8.9v8.9h-8.9zM834.1 298.8h8.9v8.9h-8.9zM834.4 298.1h8.9v8.9h-8.9zM834.7 297.2h8.9v8.9h-8.9zM835.1 298.4h8.9v8.9h-8.9zM835.4 297.8h8.9v8.9h-8.9zM835.7 297.8h8.9v8.9h-8.9zM836.1 298.6h8.9v8.9h-8.9zM836.4 297.9h8.9v8.9h-8.9zM836.7 298.1h8.9v8.9h-8.9zM837.0 297.8h8.9v8.9h-8.9zM837.4 297.2h8.9v8.9h-8.9zM837.7 297.7h8.9v8.9h-8.9zM838.0 297.4h8.9v8.9h-8.9zM838.4 297.2h8.9v8.9h-8.9zM838.7 298.5h8.9v8.9h-8.9zM839.0 299.1h8.9v8.9h-8.9zM839.4 298.9h8.9v8.9h-8.9zM839.7 298.2h8.9v8.9h-8.9zM840.0 297.5h8.9v8.9h-8.9zM840.3 298.3h8.9v8.9h-8.9zM840.7 297.7h8.9v8.9h-8.9zM841.0 297.9h8.9v8.9h-8.9zM841.3 298.6h8.9v8.9h-8.9zM841.7 298.6h8.9v8.9h-8.9zM842.0 297.9h8.9v8.9h-8.9zM842.3 297.6h8.9v8.9h-8.9zM842.6 297.2h8.9v8.9h-8.9zM843.0 298.4h8.9v8.9h-8.9zM843.3 297.8h8.9v8.9h-8.9zM843.6 298.4h8.9v8.9h-8.9zM844.0 298.3h8.9v8.9h-8.9zM844.3 298.2h8.9v8.9h-8.9zM844.6 299.0h8.9v8.9h-8.9zM844.9 298.1h8.9v8.9h-8.9zM845.3 297.2h8.9v8.9h-8.9zM845.6 297.8h8.9v8.9h-8.9zM845.9 297.8h8.9v8.9h-8.9zM846.3 298.7h8.9v8.9h-8.9zM846.6 298.7h8.9v8.9h-8.9zM846.9 298.7h8.9v8.9h-8.9zM847.2 296.8h8.9v8.9h-8.9zM847.6 298.0h8.9v8.9h-8.9zM847.9 298.1h8.9v8.9h-8.9zM848.2 298.2h8.9v8.9h-8.9zM848.6 298.1h8.9v8.9h-8.9zM848.9 295.8h8.9v8.9h-8.9zM849.2 297.6h8.9v8.9h-8.9zM849.5 296.2h8.9v8.9h-8.9zM849.9 296.8h8.9v8.9h-8.9zM850.2 296.4h8.9v8.9h-8.9zM850.5 295.8h8.9v8.9h-8.9zM850.9 296.5h8.9v8.9h-8.9zM851.2 294.9h8.9v8.9h-8.9zM851.5 294.3h8.9v8.9h-8.9zM851.8 297.2h8.9v8.9h-8.9zM852.2 298.0h8.9v8.9h-8.9zM852.5 296.6h8.9v8.9h-8.9zM852.8 298.0h8.9v8.9h-8.9zM853.2 296.5h8.9v8.9h-8.9zM853.5 291.3h8.9v8.9h-8.9zM853.8 294.1h8.9v8.9h-8.9zM854.1 297.5h8.9v8.9h-8.9zM854.5 297.1h8.9v8.9h-8.9zM854.8 296.5h8.9v8.9h-8.9zM855.1 291.1h8.9v8.9h-8.9zM855.5 288.8h8.9v8.9h-8.9zM855.8 288.8h8.9v8.9h-8.9zM856.1 294.1h8.9v8.9h-8.9zM856.4 285.7h8.9v8.9h-8.9zM856.8 290.2h8.9v8.9h-8.9zM857.1 288.9h8.9v8.9h-8.9zM857.4 295.5h8.9v8.9h-8.9zM857.8 293.8h8.9v8.9h-8.9zM858.1 295.5h8.9v8.9h-8.9zM858.4 296.2h8.9v8.9h-8.9zM858.7 288.7h8.9v8.9h-8.9zM859.1 273.1h8.9v8.9h-8.9zM859.4 286.2h8.9v8.9h-8.9zM859.7 289.9h8.9v8.9h-8.9zM860.1 291.9h8.9v8.9h-8.9zM860.4 295.2h8.9v8.9h-8.9zM860.7 283.0h8.9v8.9h-8.9zM861.0 284.9h8.9v8.9h-8.9zM861.4 292.1h8.9v8.9h-8.9zM861.7 295.4h8.9v8.9h-8.9zM862.0 293.1h8.9v8.9h-8.9zM862.4 285.1h8.9v8.9h-8.9zM862.7 287.9h8.9v8.9h-8.9zM863.0 294.0h8.9v8.9h-8.9zM863.4 295.4h8.9v8.9h-8.9zM863.7 294.3h8.9v8.9h-8.9zM864.0 282.9h8.9v8.9h-8.9zM864.3 292.2h8.9v8.9h-8.9zM864.7 272.0h8.9v8.9h-8.9zM865.0 275.5h8.9v8.9h-8.9zM865.3 288.7h8.9v8.9h-8.9zM865.7 291.7h8.9v8.9h-8.9zM866.0 288.9h8.9v8.9h-8.9zM866.3 268.1h8.9v8.9h-8.9zM866.6 287.3h8.9v8.9h-8.9zM867.0 290.0h8.9v8.9h-8.9zM867.3 290.0h8.9v8.9h-8.9zM867.6 280.1h8.9v8.9h-8.9zM868.0 258.1h8.9v8.9h-8.9zM868.3 273.6h8.9v8.9h-8.9zM868.6 257.2h8.9v8.9h-8.9zM868.9 257.6h8.9v8.9h-8.9zM869.3 270.9h8.9v8.9h-8.9zM869.6 252.7h8.9v8.9h-8.9zM869.9 273.8h8.9v8.9h-8.9zM870.3 288.3h8.9v8.9h-8.9zM870.6 290.6h8.9v8.9h-8.9zM870.9 289.1h8.9v8.9h-8.9zM871.2 285.4h8.9v8.9h-8.9zM871.6 267.0h8.9v8.9h-8.9zM871.9 277.6h8.9v8.9h-8.9zM872.2 275.9h8.9v8.9h-8.9zM872.6 244.5h8.9v8.9h-8.9zM872.9 268.7h8.9v8.9h-8.9zM873.2 273.0h8.9v8.9h-8.9zM873.5 260.1h8.9v8.9h-8.9zM873.9 269.3h8.9v8.9h-8.9zM874.2 284.0h8.9v8.9h-8.9zM874.5 256.8h8.9v8.9h-8.9zM874.9 279.7h8.9v8.9h-8.9zM875.2 287.4h8.9v8.9h-8.9zM875.5 273.7h8.9v8.9h-8.9zM875.8 271.7h8.9v8.9h-8.9zM876.2 279.9h8.9v8.9h-8.9zM876.5 267.3h8.9v8.9h-8.9zM876.8 284.2h8.9v8.9h-8.9zM877.2 280.7h8.9v8.9h-8.9zM877.5 245.7h8.9v8.9h-8.9zM877.8 238.2h8.9v8.9h-8.9zM878.1 263.5h8.9v8.9h-8.9zM878.5 253.1h8.9v8.9h-8.9zM878.8 260.6h8.9v8.9h-8.9zM879.1 281.8h8.9v8.9h-8.9zM879.5 249.7h8.9v8.9h-8.9zM879.8 263.8h8.9v8.9h-8.9zM880.1 148.3h8.9v8.9h-8.9zM880.4 111.5h8.9v8.9h-8.9zM880.8 120.5h8.9v8.9h-8.9zM881.1 160.3h8.9v8.9h-8.9zM881.4 168.1h8.9v8.9h-8.9zM881.8 171.3h8.9v8.9h-8.9zM882.1 186.7h8.9v8.9h-8.9zM882.4 187.2h8.9v8.9h-8.9zM882.7 197.4h8.9v8.9h-8.9zM883.1 201.4h8.9v8.9h-8.9zM883.4 216.5h8.9v8.9h-8.9zM883.7 218.9h8.9v8.9h-8.9zM884.1 227.1h8.9v8.9h-8.9zM884.4 239.8h8.9v8.9h-8.9zM884.7 242.1h8.9v8.9h-8.9zM885.0 250.2h8.9v8.9h-8.9zM885.4 248.8h8.9v8.9h-8.9zM885.7 263.1h8.9v8.9h-8.9zM886.0 255.0h8.9v8.9h-8.9zM886.4 284.7h8.9v8.9h-8.9zM886.7 290.9h8.9v8.9h-8.9zM887.0 286.6h8.9v8.9h-8.9zM887.4 291.9h8.9v8.9h-8.9zM887.7 276.0h8.9v8.9h-8.9zM888.0 286.9h8.9v8.9h-8.9zM888.3 293.3h8.9v8.9h-8.9zM888.7 292.9h8.9v8.9h-8.9zM889.0 276.8h8.9v8.9h-8.9zM889.3 282.5h8.9v8.9h-8.9zM889.7 254.3h8.9v8.9h-8.9zM890.0 279.9h8.9v8.9h-8.9zM890.3 275.7h8.9v8.9h-8.9zM890.6 291.0h8.9v8.9h-8.9zM891.0 293.8h8.9v8.9h-8.9zM891.3 274.8h8.9v8.9h-8.9zM891.6 282.7h8.9v8.9h-8.9zM892.0 292.9h8.9v8.9h-8.9zM892.3 264.9h8.9v8.9h-8.9zM892.6 284.9h8.9v8.9h-8.9zM892.9 290.4h8.9v8.9h-8.9zM893.3 282.0h8.9v8.9h-8.9zM893.6 282.3h8.9v8.9h-8.9zM893.9 274.2h8.9v8.9h-8.9zM894.3 283.5h8.9v8.9h-8.9zM894.6 291.1h8.9v8.9h-8.9zM894.9 287.3h8.9v8.9h-8.9zM895.2 274.7h8.9v8.9h-8.9zM895.6 289.1h8.9v8.9h-8.9zM895.9 285.5h8.9v8.9h-8.9zM896.2 285.4h8.9v8.9h-8.9zM896.6 281.4h8.9v8.9h-8.9zM896.9 282.9h8.9v8.9h-8.9zM897.2 255.9h8.9v8.9h-8.9zM897.5 285.6h8.9v8.9h-8.9zM897.9 278.5h8.9v8.9h-8.9zM898.2 287.0h8.9v8.9h-8.9zM898.5 290.6h8.9v8.9h-8.9zM898.9 282.2h8.9v8.9h-8.9zM899.2 286.2h8.9v8.9h-8.9zM899.5 282.8h8.9v8.9h-8.9zM899.8 290.3h8.9v8.9h-8.9zM900.2 280.0h8.9v8.9h-8.9zM900.5 288.2h8.9v8.9h-8.9zM900.8 280.2h8.9v8.9h-8.9zM901.2 289.1h8.9v8.9h-8.9zM901.5 291.1h8.9v8.9h-8.9zM901.8 290.9h8.9v8.9h-8.9zM902.1 285.7h8.9v8.9h-8.9zM902.5 283.5h8.9v8.9h-8.9zM902.8 281.6h8.9v8.9h-8.9zM903.1 289.4h8.9v8.9h-8.9zM903.5 288.7h8.9v8.9h-8.9zM903.8 292.2h8.9v8.9h-8.9zM904.1 292.2h8.9v8.9h-8.9zM904.4 292.0h8.9v8.9h-8.9zM904.8 286.8h8.9v8.9h-8.9zM905.1 278.8h8.9v8.9h-8.9zM905.4 285.2h8.9v8.9h-8.9zM905.8 289.6h8.9v8.9h-8.9zM906.1 274.5h8.9v8.9h-8.9zM906.4 288.3h8.9v8.9h-8.9zM906.7 290.6h8.9v8.9h-8.9zM907.1 282.6h8.9v8.9h-8.9zM907.4 292.5h8.9v8.9h-8.9zM907.7 290.3h8.9v8.9h-8.9zM908.1 294.1h8.9v8.9h-8.9zM908.4 294.4h8.9v8.9h-8.9zM908.7 294.9h8.9v8.9h-8.9zM909.0 293.7h8.9v8.9h-8.9zM909.4 296.1h8.9v8.9h-8.9zM909.7 296.4h8.9v8.9h-8.9zM910.0 294.3h8.9v8.9h-8.9zM910.4 295.4h8.9v8.9h-8.9zM910.7 290.2h8.9v8.9h-8.9zM911.0 295.4h8.9v8.9h-8.9zM911.4 292.2h8.9v8.9h-8.9zM911.7 296.0h8.9v8.9h-8.9zM912.0 295.4h8.9v8.9h-8.9zM912.3 296.7h8.9v8.9h-8.9zM912.7 290.7h8.9v8.9h-8.9zM913.0 293.8h8.9v8.9h-8.9zM913.3 296.2h8.9v8.9h-8.9zM913.7 298.0h8.9v8.9h-8.9zM914.0 292.6h8.9v8.9h-8.9zM914.3 296.2h8.9v8.9h-8.9zM914.6 296.6h8.9v8.9h-8.9zM915.0 293.8h8.9v8.9h-8.9zM915.3 294.9h8.9v8.9h-8.9zM915.6 297.0h8.9v8.9h-8.9zM916.0 298.0h8.9v8.9h-8.9zM916.3 293.6h8.9v8.9h-8.9zM916.6 297.1h8.9v8.9h-8.9zM916.9 298.0h8.9v8.9h-8.9zM917.3 297.1h8.9v8.9h-8.9zM917.6 294.8h8.9v8.9h-8.9zM917.9 297.6h8.9v8.9h-8.9zM918.3 298.8h8.9v8.9h-8.9zM918.6 297.0h8.9v8.9h-8.9zM918.9 297.5h8.9v8.9h-8.9zM919.2 298.1h8.9v8.9h-8.9zM919.6 298.2h8.9v8.9h-8.9zM919.9 295.6h8.9v8.9h-8.9zM920.2 298.1h8.9v8.9h-8.9zM920.6 298.8h8.9v8.9h-8.9zM920.9 298.1h8.9v8.9h-8.9zM921.2 297.0h8.9v8.9h-8.9zM921.5 297.2h8.9v8.9h-8.9zM921.9 298.3h8.9v8.9h-8.9zM922.2 296.3h8.9v8.9h-8.9zM922.5 296.9h8.9v8.9h-8.9zM922.9 298.5h8.9v8.9h-8.9zM923.2 296.9h8.9v8.9h-8.9zM923.5 297.6h8.9v8.9h-8.9zM923.8 298.3h8.9v8.9h-8.9zM924.2 297.8h8.9v8.9h-8.9zM924.5 297.8h8.9v8.9h-8.9zM924.8 297.2h8.9v8.9h-8.9zM925.2 296.5h8.9v8.9h-8.9zM925.5 297.2h8.9v8.9h-8.9zM925.8 298.7h8.9v8.9h-8.9zM926.1 298.3h8.9v8.9h-8.9zM926.5 297.3h8.9v8.9h-8.9zM926.8 298.0h8.9v8.9h-8.9zM927.1 298.6h8.9v8.9h-8.9zM927.5 298.5h8.9v8.9h-8.9zM927.8 295.3h8.9v8.9h-8.9zM928.1 295.6h8.9v8.9h-8.9zM928.4 297.8h8.9v8.9h-8.9zM928.8 297.7h8.9v8.9h-8.9zM929.1 298.7h8.9v8.9h-8.9zM929.4 298.3h8.9v8.9h-8.9zM929.8 295.9h8.9v8.9h-8.9zM930.1 298.2h8.9v8.9h-8.9zM930.4 297.3h8.9v8.9h-8.9zM930.7 297.6h8.9v8.9h-8.9zM931.1 298.3h8.9v8.9h-8.9zM931.4 299.0h8.9v8.9h-8.9zM931.7 297.4h8.9v8.9h-8.9zM932.1 297.2h8.9v8.9h-8.9zM932.4 297.9h8.9v8.9h-8.9zM932.7 298.4h8.9v8.9h-8.9zM933.0 298.3h8.9v8.9h-8.9z" fill="#C0504D"/>
<path d="M97.5 299.8l5.1 9.4h-10.2zM97.8 300.2l5.1 9.4h-10.2zM98.2 298.9l5.1 9.4h-10.2zM98.5 300.3l5.1 9.4h-10.2zM98.8 300.3l5.1 9.4h-10.2zM99.1 299.5l5.1 9.4h-10.2zM99.5 300.3l5.1 9.4h-10.2zM99.8 300.6l5.1 9.4h-10.2zM100.1 299.2l5.1 9.4h-10.2zM100.5 300.9l5.1 9.4h-10.2zM100.8 300.9l5.1 9.4h-10.2zM101.1 299.3l5.1 9.4h-10.2zM101.4 299.8l5.1 9.4h-10.2zM101.8 300.1l5.1 9.4h-10.2zM102.1 300.3l5.1 9.4h-10.2zM102.4 299.9l5.1 9.4h-10.2zM102.8 300.5l5.1 9.4h-10.2zM103.1 300.4l5.1 9.4h-10.2zM103.4 300.5l5.1 9.4h-10.2zM103.7 299.6l5.1 9.4h-10.2zM104.1 299.4l5.1 9.4h-10.2zM104.4 300.1l5.1 9.4h-10.2zM104.7 300.1l5.1 9.4h-10.2zM105.1 300.3l5.1 9.4h-10.2zM105.4 300.9l5.1 9.4h-10.2zM105.7 299.4l5.1 9.4h-10.2zM106.0 300.1l5.1 9.4h-10.2zM106.4 300.1l5.1 9.4h-10.2zM106.7 299.5l5.1 9.4h-10.2zM107.0 299.7l5.1 9.4h-10.2zM107.4 299.8l5.1 9.4h-10.2zM107.7 300.1l5.1 9.4h-10.2zM108.0 300.0l5.1 9.4h-10.2zM108.3 300.0l5.1 9.4h-10.2zM108.7 299.5l5.1 9.4h-10.2zM109.0 300.0l5.1 9.4h-10.2zM109.3 299.7l5.1 9.4h-10.2zM109.7 300.9l5.1 9.4h-10.2zM110.0 299.6l5.1 9.4h-10.2zM110.3 300.0l5.1 9.4h-10.2zM110.7 300.1l5.1 9.4h-10.2zM111.0 300.9l5.1 9.4h-10.2zM111.3 300.9l5.1 9.4h-10.2zM111.6 300.2l5.1 9.4h-10.2zM112.0 300.4l5.1 9.4h-10.2zM112.3 299.8l5.1 9.4h-10.2zM112.6 300.3l5.1 9.4h-10.2zM113.0 300.0l5.1 9.4h-10.2zM113.3 300.7l5.1 9.4h-10.2zM113.6 300.4l5.1 9.4h-10.2zM113.9 299.9l5.1 9.4h-10.2zM114.3 300.3l5.1 9.4h-10.2zM114.6 300.9l5.1 9.4h-10.2zM114.9 300.9l5.1 9.4h-10.2zM115.3 298.1l5.1 9.4h-10.2zM115.6 300.0l5.1 9.4h-10.2zM115.9 300.2l5.1 9.4h-10.2zM116.2 300.9l5.1 9.4h-10.2zM116.6 300.7l5.1 9.4h-10.2zM116.9 300.2l5.1 9.4h-10.2zM117.2 300.0l5.1 9.4h-10.2zM117.6 298.2l5.1 9.4h-10.2zM117.9 299.9l5.1 9.4h-10.2zM118.2 299.9l5.1 9.4h-10.2zM118.5 298.5l5.1 9.4h-10.2zM118.9 300.3l5.1 9.4h-10.2zM119.2 300.4l5.1 9.4h-10.2zM119.5 300.8l5.1 9.4h-10.2zM119.9 299.4l5.1 9.4h-10.2zM120.2 300.8l5.1 9.4h-10.2zM120.5 298.9l5.1 9.4h-10.2zM120.8 300.2l5.1 9.4h-10.2zM121.2 299.6l5.1 9.4h-10.2zM121.5 300.3l5.1 9.4h-10.2zM121.8 299.9l5.1 9.4h-10.2zM122.2 299.2l5.1 9.4h-10.2zM122.5 299.7l5.1 9.4h-10.2zM122.8 299.7l5.1 9.4h-10.2zM123.1 299.2l5.1 9.4h-10.2zM123.5 300.3l5.1 9.4h-10.2zM123.8 300.9l5.1 9.4h-10.2zM124.1 299.0l5.1 9.4h-10.2zM124.5 299.1l5.1 9.4h-10.2zM124.8 299.2l5.1 9.4h-10.2zM125.1 299.5l5.1 9.4h-10.2zM125.4 299.4l5.1 9.4h-10.2zM125.8 298.0l5.1 9.4h-10.2zM126.1 300.5l5.1 9.4h-10.2zM126.4 300.9l5.1 9.4h-10.2zM126.8 300.6l5.1 9.4h-10.2zM127.1 300.0l5.1 9.4h-10.2zM127.4 300.8l5.1 9.4h-10.2zM127.7 299.4l5.1 9.4h-10.2zM128.1 299.1l5.1 9.4h-10.2zM128.4 299.9l5.1 9.4h-10.2zM128.7 299.3l5.1 9.4h-10.2zM129.1 299.6l5.1 9.4h-10.2zM129.4 297.0l5.1 9.4h-10.2zM129.7 298.9l5.1 9.4h-10.2zM130.0 300.2l5.1 9.4h-10.2zM130.4 300.6l5.1 9.4h-10.2zM130.7 299.9l5.1 9.4h-10.2zM131.0 298.2l5.1 9.4h-10.2zM131.4 297.3l5.1 9.4h-10.2zM131.7 297.5l5.1 9.4h-10.2zM132.0 299.3l5.1 9.4h-10.2zM132.3 299.3l5.1 9.4h-10.2zM132.7 299.2l5.1 9.4h-10.2zM133.0 296.3l5.1 9.4h-10.2zM133.3 299.5l5.1 9.4h-10.2zM133.7 300.0l5.1 9.4h-10.2zM134.0 298.4l5.1 9.4h-10.2zM134.3 299.6l5.1 9.4h-10.2zM134.7 296.0l5.1 9.4h-10.2zM135.0 296.3l5.1 9.4h-10.2zM135.3 298.8l5.1 9.4h-10.2zM135.6 297.4l5.1 9.4h-10.2zM136.0 300.2l5.1 9.4h-10.2zM136.3 298.1l5.1 9.4h-10.2zM136.6 298.9l5.1 9.4h-10.2zM137.0 299.5l5.1 9.4h-10.2zM137.3 300.1l5.1 9.4h-10.2zM137.6 299.6l5.1 9.4h-10.2zM137.9 297.7l5.1 9.4h-10.2zM138.3 299.3l5.1 9.4h-10.2zM138.6 297.7l5.1 9.4h-10.2zM138.9 297.9l5.1 9.4h-10.2zM139.3 299.1l5.1 9.4h-10.2zM139.6 299.9l5.1 9.4h-10.2zM139.9 299.3l5.1 9.4h-10.2zM140.2 294.3l5.1 9.4h-10.2zM140.6 293.1l5.1 9.4h-10.2zM140.9 273.3l5.1 9.4h-10.2zM141.2 293.4l5.1 9.4h-10.2zM141.6 294.5l5.1 9.4h-10.2zM141.9 292.1l5.1 9.4h-10.2zM142.2 295.0l5.1 9.4h-10.2zM142.5 298.2l5.1 9.4h-10.2zM142.9 294.1l5.1 9.4h-10.2zM143.2 295.0l5.1 9.4h-10.2zM143.5 298.8l5.1 9.4h-10.2zM143.9 297.1l5.1 9.4h-10.2zM144.2 299.0l5.1 9.4h-10.2zM144.5 290.8l5.1 9.4h-10.2zM144.8 291.8l5.1 9.4h-10.2zM145.2 291.1l5.1 9.4h-10.2zM145.5 289.2l5.1 9.4h-10.2zM145.8 297.7l5.1 9.4h-10.2zM146.2 289.8l5.1 9.4h-10.2zM146.5 297.0l5.1 9.4h-10.2zM146.8 297.8l5.1 9.4h-10.2zM147.1 297.4l5.1 9.4h-10.2zM147.5 296.2l5.1 9.4h-10.2zM147.8 298.5l5.1 9.4h-10.2zM148.1 293.1l5.1 9.4h-10.2zM148.5 291.3l5.1 9.4h-10.2zM148.8 297.7l5.1 9.4h-10.2zM149.1 289.6l5.1 9.4h-10.2zM149.4 294.9l5.1 9.4h-10.2zM149.8 291.3l5.1 9.4h-10.2zM150.1 292.1l5.1 9.4h-10.2zM150.4 287.7l5.1 9.4h-10.2zM150.8 290.1l5.1 9.4h-10.2zM151.1 295.4l5.1 9.4h-10.2zM151.4 282.0l5.1 9.4h-10.2zM151.7 285.2l5.1 9.4h-10.2zM152.1 266.2l5.1 9.4h-10.2zM152.4 276.7l5.1 9.4h-10.2zM152.7 292.4l5.1 9.4h-10.2zM153.1 291.6l5.1 9.4h-10.2zM153.4 288.5l5.1 9.4h-10.2zM153.7 292.6l5.1 9.4h-10.2zM154.0 294.6l5.1 9.4h-10.2zM154.4 286.5l5.1 9.4h-10.2zM154.7 280.0l5.1 9.4h-10.2zM155.0 282.7l5.1 9.4h-10.2zM155.4 277.8l5.1 9.4h-10.2zM155.7 281.4l5.1 9.4h-10.2zM156.0 290.9l5.1 9.4h-10.2zM156.3 284.8l5.1 9.4h-10.2zM156.7 287.3l5.1 9.4h-10.2zM157.0 241.5l5.1 9.4h-10.2zM157.3 216.3l5.1 9.4h-10.2zM157.7 233.3l5.1 9.4h-10.2zM158.0 246.5l5.1 9.4h-10.2zM158.3 246.3l5.1 9.4h-10.2zM158.7 256.4l5.1 9.4h-10.2zM159.0 258.0l5.1 9.4h-10.2zM159.3 283.5l5.1 9.4h-10.2zM159.6 280.2l5.1 9.4h-10.2zM160.0 252.0l5.1 9.4h-10.2zM160.3 254.3l5.1 9.4h-10.2zM160.6 268.8l5.1 9.4h-10.2zM161.0 283.9l5.1 9.4h-10.2zM161.3 288.7l5.1 9.4h-10.2zM161.6 289.9l5.1 9.4h-10.2zM161.9 294.3l5.1 9.4h-10.2zM162.3 287.5l5.1 9.4h-10.2zM162.6 295.6l5.1 9.4h-10.2zM162.9 288.0l5.1 9.4h-10.2zM163.3 295.2l5.1 9.4h-10.2zM163.6 295.7l5.1 9.4h-10.2zM163.9 295.3l5.1 9.4h-10.2zM164.2 292.6l5.1 9.4h-10.2zM164.6 294.0l5.1 9.4h-10.2zM164.9 282.6l5.1 9.4h-10.2zM165.2 293.0l5.1 9.4h-10.2zM165.6 294.1l5.1 9.4h-10.2zM165.9 293.5l5.1 9.4h-10.2zM166.2 291.9l5.1 9.4h-10.2zM166.5 291.6l5.1 9.4h-10.2zM166.9 296.1l5.1 9.4h-10.2zM167.2 294.4l5.1 9.4h-10.2zM167.5 216.3l5.1 9.4h-10.2zM167.9 236.3l5.1 9.4h-10.2zM168.2 298.2l5.1 9.4h-10.2zM168.5 297.6l5.1 9.4h-10.2zM168.8 295.0l5.1 9.4h-10.2zM169.2 282.5l5.1 9.4h-10.2zM169.5 293.4l5.1 9.4h-10.2zM169.8 273.6l5.1 9.4h-10.2zM170.2 288.9l5.1 9.4h-10.2zM170.5 296.1l5.1 9.4h-10.2zM170.8 295.6l5.1 9.4h-10.2zM171.1 295.8l5.1 9.4h-10.2zM171.5 292.5l5.1 9.4h-10.2zM171.8 291.2l5.1 9.4h-10.2zM172.1 295.0l5.1 9.4h-10.2zM172.5 296.1l5.1 9.4h-10.2zM172.8 286.6l5.1 9.4h-10.2zM173.1 288.3l5.1 9.4h-10.2zM173.4 292.4l5.1 9.4h-10.2zM173.8 294.2l5.1 9.4h-10.2zM174.1 289.6l5.1 9.4h-10.2zM174.4 284.7l5.1 9.4h-10.2zM174.8 293.2l5.1 9.4h-10.2zM175.1 297.0l5.1 9.4h-10.2zM175.4 294.4l5.1 9.4h-10.2zM175.7 294.4l5.1 9.4h-10.2zM176.1 295.1l5.1 9.4h-10.2zM176.4 296.8l5.1 9.4h-10.2zM176.7 296.8l5.1 9.4h-10.2zM177.1 296.8l5.1 9.4h-10.2zM177.4 289.6l5.1 9.4h-10.2zM177.7 291.0l5.1 9.4h-10.2zM178.0 296.3l5.1 9.4h-10.2zM178.4 297.2l5.1 9.4h-10.2zM178.7 295.1l5.1 9.4h-10.2zM179.0 288.7l5.1 9.4h-10.2zM179.4 286.5l5.1 9.4h-10.2zM179.7 292.3l5.1 9.4h-10.2zM180.0 285.1l5.1 9.4h-10.2zM180.3 244.8l5.1 9.4h-10.2zM180.7 273.1l5.1 9.4h-10.2zM181.0 288.8l5.1 9.4h-10.2zM181.3 294.1l5.1 9.4h-10.2zM181.7 297.0l5.1 9.4h-10.2zM182.0 294.2l5.1 9.4h-10.2zM182.3 297.8l5.1 9.4h-10.2zM182.7 297.1l5.1 9.4h-10.2zM183.0 288.6l5.1 9.4h-10.2zM183.3 286.3l5.1 9.4h-10.2zM183.6 294.3l5.1 9.4h-10.2zM184.0 297.7l5.1 9.4h-10.2zM184.3 288.3l5.1 9.4h-10.2zM184.6 286.5l5.1 9.4h-10.2zM185.0 285.7l5.1 9.4h-10.2zM185.3 292.5l5.1 9.4h-10.2zM185.6 291.7l5.1 9.4h-10.2zM185.9 294.9l5.1 9.4h-10.2zM186.3 295.9l5.1 9.4h-10.2zM186.6 298.2l5.1 9.4h-10.2zM186.9 291.1l5.1 9.4h-10.2zM187.3 296.6l5.1 9.4h-10.2zM187.6 292.8l5.1 9.4h-10.2zM187.9 290.7l5.1 9.4h-10.2zM188.2 295.6l5.1 9.4h-10.2zM188.6 284.8l5.1 9.4h-10.2zM188.9 295.3l5.1 9.4h-10.2zM189.2 294.1l5.1 9.4h-10.2zM189.6 287.6l5.1 9.4h-10.2zM189.9 257.3l5.1 9.4h-10.2zM190.2 274.3l5.1 9.4h-10.2zM190.5 284.9l5.1 9.4h-10.2zM190.9 292.3l5.1 9.4h-10.2zM191.2 292.7l5.1 9.4h-10.2zM191.5 295.7l5.1 9.4h-10.2zM191.9 298.1l5.1 9.4h-10.2zM192.2 297.9l5.1 9.4h-10.2zM192.5 297.5l5.1 9.4h-10.2zM192.8 294.7l5.1 9.4h-10.2zM193.2 295.9l5.1 9.4h-10.2zM193.5 290.4l5.1 9.4h-10.2zM193.8 287.8l5.1 9.4h-10.2zM194.2 289.6l5.1 9.4h-10.2zM194.5 290.0l5.1 9.4h-10.2zM194.8 295.2l5.1 9.4h-10.2zM195.1 296.4l5.1 9.4h-10.2zM195.5 297.9l5.1 9.4h-10.2zM195.8 297.3l5.1 9.4h-10.2zM196.1 299.3l5.1 9.4h-10.2zM196.5 294.1l5.1 9.4h-10.2zM196.8 298.8l5.1 9.4h-10.2zM197.1 299.8l5.1 9.4h-10.2zM197.4 298.7l5.1 9.4h-10.2zM197.8 298.1l5.1 9.4h-10.2zM198.1 297.8l5.1 9.4h-10.2zM198.4 299.2l5.1 9.4h-10.2zM198.8 297.8l5.1 9.4h-10.2zM199.1 298.5l5.1 9.4h-10.2zM199.4 300.8l5.1 9.4h-10.2zM199.7 298.4l5.1 9.4h-10.2zM200.1 298.0l5.1 9.4h-10.2zM200.4 295.5l5.1 9.4h-10.2zM200.7 298.4l5.1 9.4h-10.2zM201.1 298.0l5.1 9.4h-10.2zM201.4 298.7l5.1 9.4h-10.2zM201.7 299.4l5.1 9.4h-10.2zM202.0 297.4l5.1 9.4h-10.2zM202.4 298.4l5.1 9.4h-10.2zM202.7 300.1l5.1 9.4h-10.2zM203.0 299.4l5.1 9.4h-10.2zM203.4 299.7l5.1 9.4h-10.2zM203.7 300.4l5.1 9.4h-10.2zM204.0 299.1l5.1 9.4h-10.2zM204.3 297.3l5.1 9.4h-10.2zM204.7 300.9l5.1 9.4h-10.2zM205.0 299.7l5.1 9.4h-10.2zM205.3 300.2l5.1 9.4h-10.2zM205.7 299.5l5.1 9.4h-10.2zM206.0 300.1l5.1 9.4h-10.2zM206.3 300.1l5.1 9.4h-10.2zM206.7 299.5l5.1 9.4h-10.2zM207.0 300.5l5.1 9.4h-10.2zM207.3 298.8l5.1 9.4h-10.2zM207.6 300.2l5.1 9.4h-10.2zM208.0 299.7l5.1 9.4h-10.2zM208.3 299.4l5.1 9.4h-10.2zM208.6 299.6l5.1 9.4h-10.2zM209.0 299.8l5.1 9.4h-10.2zM209.3 299.6l5.1 9.4h-10.2zM209.6 299.8l5.1 9.4h-10.2zM209.9 298.8l5.1 9.4h-10.2zM210.3 298.7l5.1 9.4h-10.2zM210.6 298.3l5.1 9.4h-10.2zM210.9 299.3l5.1 9.4h-10.2zM211.3 299.6l5.1 9.4h-10.2zM211.6 300.7l5.1 9.4h-10.2zM211.9 300.1l5.1 9.4h-10.2zM212.2 300.7l5.1 9.4h-10.2zM212.6 300.7l5.1 9.4h-10.2zM212.9 300.3l5.1 9.4h-10.2zM213.2 300.3l5.1 9.4h-10.2zM213.6 300.1l5.1 9.4h-10.2zM213.9 300.0l5.1 9.4h-10.2zM214.2 300.8l5.1 9.4h-10.2zM214.5 299.8l5.1 9.4h-10.2zM214.9 300.9l5.1 9.4h-10.2zM215.2 300.6l5.1 9.4h-10.2zM215.5 299.3l5.1 9.4h-10.2zM215.9 299.6l5.1 9.4h-10.2zM216.2 299.5l5.1 9.4h-10.2zM216.5 300.3l5.1 9.4h-10.2zM216.8 298.8l5.1 9.4h-10.2zM217.2 300.0l5.1 9.4h-10.2zM217.5 300.6l5.1 9.4h-10.2zM217.8 300.2l5.1 9.4h-10.2zM218.2 300.0l5.1 9.4h-10.2zM218.5 300.1l5.1 9.4h-10.2zM218.8 300.4l5.1 9.4h-10.2zM219.1 299.3l5.1 9.4h-10.2zM219.5 300.1l5.1 9.4h-10.2zM219.8 300.7l5.1 9.4h-10.2zM220.1 299.5l5.1 9.4h-10.2zM220.5 299.9l5.1 9.4h-10.2zM220.8 299.3l5.1 9.4h-10.2zM221.1 299.5l5.1 9.4h-10.2zM221.4 300.2l5.1 9.4h-10.2zM221.8 300.4l5.1 9.4h-10.2zM222.1 299.7l5.1 9.4h-10.2zM222.4 297.3l5.1 9.4h-10.2zM222.8 299.3l5.1 9.4h-10.2zM223.1 300.9l5.1 9.4h-10.2zM223.4 297.8l5.1 9.4h-10.2zM223.7 296.2l5.1 9.4h-10.2zM224.1 299.7l5.1 9.4h-10.2zM224.4 300.4l5.1 9.4h-10.2zM224.7 298.9l5.1 9.4h-10.2zM225.1 296.7l5.1 9.4h-10.2zM225.4 298.5l5.1 9.4h-10.2zM225.7 300.4l5.1 9.4h-10.2zM226.0 300.3l5.1 9.4h-10.2zM226.4 297.1l5.1 9.4h-10.2zM226.7 296.6l5.1 9.4h-10.2zM227.0 294.9l5.1 9.4h-10.2zM227.4 296.7l5.1 9.4h-10.2zM227.7 298.8l5.1 9.4h-10.2zM228.0 299.9l5.1 9.4h-10.2zM228.3 296.2l5.1 9.4h-10.2zM228.7 296.9l5.1 9.4h-10.2zM229.0 299.1l5.1 9.4h-10.2zM229.3 298.6l5.1 9.4h-10.2zM229.7 299.4l5.1 9.4h-10.2zM230.0 299.3l5.1 9.4h-10.2zM230.3 299.2l5.1 9.4h-10.2zM230.7 299.5l5.1 9.4h-10.2zM231.0 297.1l5.1 9.4h-10.2zM231.3 294.4l5.1 9.4h-10.2zM231.6 297.2l5.1 9.4h-10.2zM232.0 299.0l5.1 9.4h-10.2zM232.3 299.0l5.1 9.4h-10.2zM232.6 297.1l5.1 9.4h-10.2zM233.0 298.3l5.1 9.4h-10.2zM233.3 299.0l5.1 9.4h-10.2zM233.6 299.9l5.1 9.4h-10.2zM233.9 299.4l5.1 9.4h-10.2zM234.3 298.6l5.1 9.4h-10.2zM234.6 297.6l5.1 9.4h-10.2zM234.9 299.1l5.1 9.4h-10.2zM235.3 300.7l5.1 9.4h-10.2zM235.6 300.1l5.1 9.4h-10.2zM235.9 298.9l5.1 9.4h-10.2zM236.2 299.9l5.1 9.4h-10.2zM236.6 298.4l5.1 9.4h-10.2zM236.9 299.3l5.1 9.4h-10.2zM237.2 299.2l5.1 9.4h-10.2zM237.6 300.3l5.1 9.4h-10.2zM237.9 300.6l5.1 9.4h-10.2zM238.2 299.9l5.1 9.4h-10.2zM238.5 300.6l5.1 9.4h-10.2zM238.9 299.9l5.1 9.4h-10.2zM239.2 299.9l5.1 9.4h-10.2zM239.5 299.7l5.1 9.4h-10.2zM239.9 300.5l5.1 9.4h-10.2zM240.2 300.1l5.1 9.4h-10.2zM240.5 300.0l5.1 9.4h-10.2zM240.8 299.5l5.1 9.4h-10.2zM241.2 300.3l5.1 9.4h-10.2zM241.5 300.5l5.1 9.4h-10.2zM241.8 300.8l5.1 9.4h-10.2zM242.2 299.7l5.1 9.4h-10.2zM242.5 300.4l5.1 9.4h-10.2zM242.8 299.9l5.1 9.4h-10.2zM243.1 299.2l5.1 9.4h-10.2zM243.5 299.7l5.1 9.4h-10.2zM243.8 300.0l5.1 9.4h-10.2zM244.1 298.8l5.1 9.4h-10.2zM244.5 300.1l5.1 9.4h-10.2zM244.8 300.9l5.1 9.4h-10.2zM245.1 299.5l5.1 9.4h-10.2zM245.4 300.6l5.1 9.4h-10.2zM245.8 300.4l5.1 9.4h-10.2zM246.1 299.9l5.1 9.4h-10.2zM246.4 300.1l5.1 9.4h-10.2zM246.8 300.6l5.1 9.4h-10.2zM247.1 300.1l5.1 9.4h-10.2zM247.4 299.4l5.1 9.4h-10.2zM247.7 298.6l5.1 9.4h-10.2zM248.1 299.0l5.1 9.4h-10.2zM248.4 299.6l5.1 9.4h-10.2zM248.7 298.0l5.1 9.4h-10.2zM249.1 298.1l5.1 9.4h-10.2zM249.4 297.4l5.1 9.4h-10.2zM249.7 299.7l5.1 9.4h-10.2zM250.0 300.4l5.1 9.4h-10.2zM250.4 299.4l5.1 9.4h-10.2zM250.7 300.2l5.1 9.4h-10.2zM251.0 300.1l5.1 9.4h-10.2zM251.4 300.2l5.1 9.4h-10.2zM251.7 300.6l5.1 9.4h-10.2zM252.0 297.2l5.1 9.4h-10.2zM252.3 300.5l5.1 9.4h-10.2zM252.7 298.4l5.1 9.4h-10.2zM253.0 300.4l5.1 9.4h-10.2zM253.3 298.7l5.1 9.4h-10.2zM253.7 297.7l5.1 9.4h-10.2zM254.0 299.6l5.1 9.4h-10.2zM254.3 299.6l5.1 9.4h-10.2zM254.7 299.4l5.1 9.4h-10.2zM255.0 298.8l5.1 9.4h-10.2zM255.3 299.5l5.1 9.4h-10.2zM255.6 299.8l5.1 9.4h-10.2zM256.0 300.1l5.1 9.4h-10.2zM256.3 299.4l5.1 9.4h-10.2zM256.6 298.7l5.1 9.4h-10.2zM257.0 299.1l5.1 9.4h-10.2zM257.3 295.8l5.1 9.4h-10.2zM257.6 298.6l5.1 9.4h-10.2zM257.9 299.3l5.1 9.4h-10.2zM258.3 300.3l5.1 9.4h-10.2zM258.6 297.0l5.1 9.4h-10.2zM258.9 298.0l5.1 9.4h-10.2zM259.3 296.7l5.1 9.4h-10.2zM259.6 294.4l5.1 9.4h-10.2zM259.9 298.2l5.1 9.4h-10.2zM260.2 293.9l5.1 9.4h-10.2zM260.6 295.8l5.1 9.4h-10.2zM260.9 293.8l5.1 9.4h-10.2zM261.2 287.7l5.1 9.4h-10.2zM261.6 287.9l5.1 9.4h-10.2zM261.9 292.5l5.1 9.4h-10.2zM262.2 281.9l5.1 9.4h-10.2zM262.5 252.6l5.1 9.4h-10.2zM262.9 273.6l5.1 9.4h-10.2zM263.2 260.1l5.1 9.4h-10.2zM263.5 262.8l5.1 9.4h-10.2zM263.9 278.5l5.1 9.4h-10.2zM264.2 269.4l5.1 9.4h-10.2zM264.5 264.2l5.1 9.4h-10.2zM264.8 248.9l5.1 9.4h-10.2zM265.2 260.1l5.1 9.4h-10.2zM265.5 269.6l5.1 9.4h-10.2zM265.8 284.5l5.1 9.4h-10.2zM266.2 287.3l5.1 9.4h-10.2zM266.5 288.9l5.1 9.4h-10.2zM266.8 280.2l5.1 9.4h-10.2zM267.1 277.1l5.1 9.4h-10.2zM267.5 292.8l5.1 9.4h-10.2zM267.8 283.8l5.1 9.4h-10.2zM268.1 262.0l5.1 9.4h-10.2zM268.5 270.7l5.1 9.4h-10.2zM268.8 262.3l5.1 9.4h-10.2zM269.1 281.2l5.1 9.4h-10.2zM269.4 275.3l5.1 9.4h-10.2zM269.8 291.6l5.1 9.4h-10.2zM270.1 268.1l5.1 9.4h-10.2zM270.4 288.1l5.1 9.4h-10.2zM270.8 278.1l5.1 9.4h-10.2zM271.1 286.6l5.1 9.4h-10.2zM271.4 287.2l5.1 9.4h-10.2zM271.7 269.7l5.1 9.4h-10.2zM272.1 279.2l5.1 9.4h-10.2zM272.4 285.4l5.1 9.4h-10.2zM272.7 256.4l5.1 9.4h-10.2zM273.1 289.5l5.1 9.4h-10.2zM273.4 261.1l5.1 9.4h-10.2zM273.7 178.3l5.1 9.4h-10.2zM274.0 248.1l5.1 9.4h-10.2zM274.4 275.7l5.1 9.4h-10.2zM274.7 287.0l5.1 9.4h-10.2zM275.0 297.4l5.1 9.4h-10.2zM275.4 292.0l5.1 9.4h-10.2zM275.7 288.6l5.1 9.4h-10.2zM276.0 288.7l5.1 9.4h-10.2zM276.3 285.2l5.1 9.4h-10.2zM276.7 294.3l5.1 9.4h-10.2zM277.0 282.8l5.1 9.4h-10.2zM277.3 288.0l5.1 9.4h-10.2zM277.7 298.1l5.1 9.4h-10.2zM278.0 295.6l5.1 9.4h-10.2zM278.3 275.1l5.1 9.4h-10.2zM278.7 291.5l5.1 9.4h-10.2zM279.0 296.5l5.1 9.4h-10.2zM279.3 279.8l5.1 9.4h-10.2zM279.6 290.2l5.1 9.4h-10.2zM280.0 273.1l5.1 9.4h-10.2zM280.3 289.8l5.1 9.4h-10.2zM280.6 277.9l5.1 9.4h-10.2zM281.0 290.2l5.1 9.4h-10.2zM281.3 298.3l5.1 9.4h-10.2zM281.6 282.0l5.1 9.4h-10.2zM281.9 261.7l5.1 9.4h-10.2zM282.3 263.3l5.1 9.4h-10.2zM282.6 264.4l5.1 9.4h-10.2zM282.9 258.8l5.1 9.4h-10.2zM283.3 248.9l5.1 9.4h-10.2zM283.6 285.8l5.1 9.4h-10.2zM283.9 293.8l5.1 9.4h-10.2zM284.2 262.0l5.1 9.4h-10.2zM284.6 283.2l5.1 9.4h-10.2zM284.9 293.1l5.1 9.4h-10.2zM285.2 285.1l5.1 9.4h-10.2zM285.6 289.9l5.1 9.4h-10.2zM285.9 294.1l5.1 9.4h-10.2zM286.2 189.2l5.1 9.4h-10.2zM286.5 174.3l5.1 9.4h-10.2zM286.9 191.3l5.1 9.4h-10.2zM287.2 221.0l5.1 9.4h-10.2zM287.5 214.0l5.1 9.4h-10.2zM287.9 193.3l5.1 9.4h-10.2zM288.2 208.1l5.1 9.4h-10.2zM288.5 220.9l5.1 9.4h-10.2zM288.8 234.2l5.1 9.4h-10.2zM289.2 248.4l5.1 9.4h-10.2zM289.5 248.8l5.1 9.4h-10.2zM289.8 256.4l5.1 9.4h-10.2zM290.2 283.8l5.1 9.4h-10.2zM290.5 258.7l5.1 9.4h-10.2zM290.8 275.8l5.1 9.4h-10.2zM291.1 293.8l5.1 9.4h-10.2zM291.5 279.4l5.1 9.4h-10.2zM291.8 284.4l5.1 9.4h-10.2zM292.1 293.4l5.1 9.4h-10.2zM292.5 294.1l5.1 9.4h-10.2zM292.8 287.9l5.1 9.4h-10.2zM293.1 293.1l5.1 9.4h-10.2zM293.4 272.6l5.1 9.4h-10.2zM293.8 287.7l5.1 9.4h-10.2zM294.1 285.7l5.1 9.4h-10.2zM294.4 283.3l5.1 9.4h-10.2zM294.8 254.8l5.1 9.4h-10.2zM295.1 233.7l5.1 9.4h-10.2zM295.4 221.6l5.1 9.4h-10.2zM295.7 220.1l5.1 9.4h-10.2zM296.1 225.9l5.1 9.4h-10.2zM296.4 243.0l5.1 9.4h-10.2zM296.7 242.1l5.1 9.4h-10.2zM297.1 296.9l5.1 9.4h-10.2zM297.4 293.1l5.1 9.4h-10.2zM297.7 286.7l5.1 9.4h-10.2zM298.0 272.7l5.1 9.4h-10.2zM298.4 287.2l5.1 9.4h-10.2zM298.7 264.9l5.1 9.4h-10.2zM299.0 248.7l5.1 9.4h-10.2zM299.4 256.2l5.1 9.4h-10.2zM299.7 284.4l5.1 9.4h-10.2zM300.0 287.1l5.1 9.4h-10.2zM300.3 249.5l5.1 9.4h-10.2zM300.7 265.2l5.1 9.4h-10.2zM301.0 287.7l5.1 9.4h-10.2zM301.3 294.9l5.1 9.4h-10.2zM301.7 297.2l5.1 9.4h-10.2zM302.0 285.1l5.1 9.4h-10.2zM302.3 287.4l5.1 9.4h-10.2zM302.7 247.5l5.1 9.4h-10.2zM303.0 230.4l5.1 9.4h-10.2zM303.3 233.7l5.1 9.4h-10.2zM303.6 234.7l5.1 9.4h-10.2zM304.0 247.7l5.1 9.4h-10.2zM304.3 280.2l5.1 9.4h-10.2zM304.6 257.7l5.1 9.4h-10.2zM305.0 289.5l5.1 9.4h-10.2zM305.3 296.9l5.1 9.4h-10.2zM305.6 288.2l5.1 9.4h-10.2zM305.9 284.9l5.1 9.4h-10.2zM306.3 257.3l5.1 9.4h-10.2zM306.6 260.5l5.1 9.4h-10.2zM306.9 282.2l5.1 9.4h-10.2zM307.3 282.2l5.1 9.4h-10.2zM307.6 279.1l5.1 9.4h-10.2zM307.9 295.0l5.1 9.4h-10.2zM308.2 292.6l5.1 9.4h-10.2zM308.6 293.2l5.1 9.4h-10.2zM308.9 294.5l5.1 9.4h-10.2zM309.2 297.7l5.1 9.4h-10.2zM309.6 298.9l5.1 9.4h-10.2zM309.9 285.7l5.1 9.4h-10.2zM310.2 289.4l5.1 9.4h-10.2zM310.5 286.0l5.1 9.4h-10.2zM310.9 294.5l5.1 9.4h-10.2zM311.2 295.8l5.1 9.4h-10.2zM311.5 298.3l5.1 9.4h-10.2zM311.9 294.7l5.1 9.4h-10.2zM312.2 288.9l5.1 9.4h-10.2zM312.5 287.9l5.1 9.4h-10.2zM312.8 290.2l5.1 9.4h-10.2zM313.2 297.0l5.1 9.4h-10.2zM313.5 296.0l5.1 9.4h-10.2zM313.8 299.5l5.1 9.4h-10.2zM314.2 297.4l5.1 9.4h-10.2zM314.5 298.7l5.1 9.4h-10.2zM314.8 298.8l5.1 9.4h-10.2zM315.1 296.9l5.1 9.4h-10.2zM315.5 298.6l5.1 9.4h-10.2zM315.8 299.1l5.1 9.4h-10.2zM316.1 296.0l5.1 9.4h-10.2zM316.5 298.8l5.1 9.4h-10.2zM316.8 298.1l5.1 9.4h-10.2zM317.1 300.2l5.1 9.4h-10.2zM317.4 299.6l5.1 9.4h-10.2zM317.8 297.9l5.1 9.4h-10.2zM318.1 293.0l5.1 9.4h-10.2zM318.4 298.4l5.1 9.4h-10.2zM318.8 296.8l5.1 9.4h-10.2zM319.1 296.7l5.1 9.4h-10.2zM319.4 299.1l5.1 9.4h-10.2zM319.7 299.3l5.1 9.4h-10.2zM320.1 297.7l5.1 9.4h-10.2zM320.4 299.6l5.1 9.4h-10.2zM320.7 296.8l5.1 9.4h-10.2zM321.1 299.5l5.1 9.4h-10.2zM321.4 298.3l5.1 9.4h-10.2zM321.7 299.1l5.1 9.4h-10.2zM322.0 299.9l5.1 9.4h-10.2zM322.4 296.4l5.1 9.4h-10.2zM322.7 299.3l5.1 9.4h-10.2zM323.0 300.3l5.1 9.4h-10.2zM323.4 300.7l5.1 9.4h-10.2zM323.7 299.4l5.1 9.4h-10.2zM324.0 298.5l5.1 9.4h-10.2zM324.3 299.2l5.1 9.4h-10.2zM324.7 298.6l5.1 9.4h-10.2zM325.0 300.3l5.1 9.4h-10.2zM325.3 298.6l5.1 9.4h-10.2zM325.7 300.5l5.1 9.4h-10.2zM326.0 300.3l5.1 9.4h-10.2zM326.3 300.6l5.1 9.4h-10.2zM326.7 300.3l5.1 9.4h-10.2zM327.0 300.0l5.1 9.4h-10.2zM327.3 299.5l5.1 9.4h-10.2zM327.6 297.6l5.1 9.4h-10.2zM328.0 299.4l5.1 9.4h-10.2zM328.3 299.2l5.1 9.4h-10.2zM328.6 299.7l5.1 9.4h-10.2zM329.0 298.0l5.1 9.4h-10.2zM329.3 299.5l5.1 9.4h-10.2zM329.6 299.6l5.1 9.4h-10.2zM329.9 297.3l5.1 9.4h-10.2zM330.3 299.5l5.1 9.4h-10.2zM330.6 300.0l5.1 9.4h-10.2zM330.9 300.3l5.1 9.4h-10.2zM331.3 297.3l5.1 9.4h-10.2zM331.6 298.6l5.1 9.4h-10.2zM331.9 298.2l5.1 9.4h-10.2zM332.2 300.1l5.1 9.4h-10.2zM332.6 300.3l5.1 9.4h-10.2zM332.9 297.6l5.1 9.4h-10.2zM333.2 300.1l5.1 9.4h-10.2zM333.6 298.4l5.1 9.4h-10.2zM333.9 299.2l5.1 9.4h-10.2zM334.2 300.9l5.1 9.4h-10.2zM334.5 300.9l5.1 9.4h-10.2zM334.9 300.9l5.1 9.4h-10.2zM335.2 299.2l5.1 9.4h-10.2zM335.5 298.7l5.1 9.4h-10.2zM335.9 300.4l5.1 9.4h-10.2zM336.2 300.5l5.1 9.4h-10.2zM336.5 299.2l5.1 9.4h-10.2zM336.8 300.4l5.1 9.4h-10.2zM337.2 299.8l5.1 9.4h-10.2zM337.5 298.8l5.1 9.4h-10.2zM337.8 299.9l5.1 9.4h-10.2zM338.2 299.6l5.1 9.4h-10.2zM338.5 297.7l5.1 9.4h-10.2zM338.8 298.9l5.1 9.4h-10.2zM339.1 298.2l5.1 9.4h-10.2zM339.5 298.9l5.1 9.4h-10.2zM339.8 299.0l5.1 9.4h-10.2zM340.1 299.4l5.1 9.4h-10.2zM340.5 300.6l5.1 9.4h-10.2zM340.8 300.6l5.1 9.4h-10.2zM341.1 300.9l5.1 9.4h-10.2zM341.4 300.6l5.1 9.4h-10.2zM341.8 299.9l5.1 9.4h-10.2zM342.1 299.7l5.1 9.4h-10.2zM342.4 300.4l5.1 9.4h-10.2zM342.8 298.6l5.1 9.4h-10.2zM343.1 297.3l5.1 9.4h-10.2zM343.4 299.3l5.1 9.4h-10.2zM343.7 300.9l5.1 9.4h-10.2zM344.1 300.0l5.1 9.4h-10.2zM344.4 300.5l5.1 9.4h-10.2zM344.7 300.4l5.1 9.4h-10.2zM345.1 300.2l5.1 9.4h-10.2zM345.4 299.8l5.1 9.4h-10.2zM345.7 300.5l5.1 9.4h-10.2zM346.0 299.2l5.1 9.4h-10.2zM346.4 300.6l5.1 9.4h-10.2zM346.7 299.1l5.1 9.4h-10.2zM347.0 300.5l5.1 9.4h-10.2zM347.4 300.5l5.1 9.4h-10.2zM347.7 299.6l5.1 9.4h-10.2zM348.0 300.4l5.1 9.4h-10.2zM348.3 300.0l5.1 9.4h-10.2zM348.7 299.4l5.1 9.4h-10.2zM349.0 298.1l5.1 9.4h-10.2zM349.3 299.4l5.1 9.4h-10.2zM349.7 299.7l5.1 9.4h-10.2zM350.0 300.3l5.1 9.4h-10.2zM350.3 299.2l5.1 9.4h-10.2zM350.7 299.9l5.1 9.4h-10.2zM351.0 297.2l5.1 9.4h-10.2zM351.3 299.3l5.1 9.4h-10.2zM351.6 298.6l5.1 9.4h-10.2zM352.0 299.0l5.1 9.4h-10.2zM352.3 297.8l5.1 9.4h-10.2zM352.6 297.7l5.1 9.4h-10.2zM353.0 297.1l5.1 9.4h-10.2zM353.3 299.6l5.1 9.4h-10.2zM353.6 298.3l5.1 9.4h-10.2zM353.9 298.7l5.1 9.4h-10.2zM354.3 298.3l5.1 9.4h-10.2zM354.6 298.6l5.1 9.4h-10.2zM354.9 297.2l5.1 9.4h-10.2zM355.3 300.1l5.1 9.4h-10.2zM355.6 298.0l5.1 9.4h-10.2zM355.9 300.1l5.1 9.4h-10.2zM356.2 298.7l5.1 9.4h-10.2zM356.6 299.8l5.1 9.4h-10.2zM356.9 299.8l5.1 9.4h-10.2zM357.2 300.9l5.1 9.4h-10.2zM357.6 299.3l5.1 9.4h-10.2zM357.9 299.3l5.1 9.4h-10.2zM358.2 300.2l5.1 9.4h-10.2zM358.5 300.4l5.1 9.4h-10.2zM358.9 299.1l5.1 9.4h-10.2zM359.2 299.1l5.1 9.4h-10.2zM359.5 300.9l5.1 9.4h-10.2zM359.9 300.0l5.1 9.4h-10.2zM360.2 300.1l5.1 9.4h-10.2zM360.5 300.0l5.1 9.4h-10.2zM360.8 298.7l5.1 9.4h-10.2zM361.2 300.6l5.1 9.4h-10.2zM361.5 300.4l5.1 9.4h-10.2zM361.8 299.8l5.1 9.4h-10.2zM362.2 299.5l5.1 9.4h-10.2zM362.5 299.5l5.1 9.4h-10.2zM362.8 300.9l5.1 9.4h-10.2zM363.1 300.4l5.1 9.4h-10.2zM363.5 299.8l5.1 9.4h-10.2zM363.8 298.9l5.1 9.4h-10.2zM364.1 298.7l5.1 9.4h-10.2zM364.5 300.1l5.1 9.4h-10.2zM364.8 300.9l5.1 9.4h-10.2zM365.1 300.2l5.1 9.4h-10.2zM365.4 300.4l5.1 9.4h-10.2zM365.8 298.9l5.1 9.4h-10.2zM366.1 298.9l5.1 9.4h-10.2zM366.4 300.1l5.1 9.4h-10.2zM366.8 300.9l5.1 9.4h-10.2zM367.1 298.2l5.1 9.4h-10.2zM367.4 299.9l5.1 9.4h-10.2zM367.7 299.5l5.1 9.4h-10.2zM368.1 298.8l5.1 9.4h-10.2zM368.4 298.5l5.1 9.4h-10.2zM368.7 299.9l5.1 9.4h-10.2zM369.1 299.7l5.1 9.4h-10.2zM369.4 296.5l5.1 9.4h-10.2zM369.7 299.2l5.1 9.4h-10.2zM370.0 296.9l5.1 9.4h-10.2zM370.4 297.7l5.1 9.4h-10.2zM370.7 296.3l5.1 9.4h-10.2zM371.0 297.5l5.1 9.4h-10.2zM371.4 300.5l5.1 9.4h-10.2zM371.7 297.4l5.1 9.4h-10.2zM372.0 299.3l5.1 9.4h-10.2zM372.3 290.5l5.1 9.4h-10.2zM372.7 290.1l5.1 9.4h-10.2zM373.0 294.2l5.1 9.4h-10.2zM373.3 296.3l5.1 9.4h-10.2zM373.7 295.8l5.1 9.4h-10.2zM374.0 289.9l5.1 9.4h-10.2zM374.3 294.4l5.1 9.4h-10.2zM374.7 298.3l5.1 9.4h-10.2zM375.0 297.3l5.1 9.4h-10.2zM375.3 292.0l5.1 9.4h-10.2zM375.6 290.4l5.1 9.4h-10.2zM376.0 295.7l5.1 9.4h-10.2zM376.3 297.6l5.1 9.4h-10.2zM376.6 294.8l5.1 9.4h-10.2zM377.0 296.1l5.1 9.4h-10.2zM377.3 298.6l5.1 9.4h-10.2zM377.6 293.0l5.1 9.4h-10.2zM377.9 294.9l5.1 9.4h-10.2zM378.3 296.3l5.1 9.4h-10.2zM378.6 297.3l5.1 9.4h-10.2zM378.9 294.6l5.1 9.4h-10.2zM379.3 297.1l5.1 9.4h-10.2zM379.6 295.9l5.1 9.4h-10.2zM379.9 285.1l5.1 9.4h-10.2zM380.2 292.4l5.1 9.4h-10.2zM380.6 298.6l5.1 9.4h-10.2zM380.9 295.6l5.1 9.4h-10.2zM381.2 287.9l5.1 9.4h-10.2zM381.6 290.0l5.1 9.4h-10.2zM381.9 287.8l5.1 9.4h-10.2zM382.2 280.6l5.1 9.4h-10.2zM382.5 281.7l5.1 9.4h-10.2zM382.9 284.6l5.1 9.4h-10.2zM383.2 289.3l5.1 9.4h-10.2zM383.5 298.1l5.1 9.4h-10.2zM383.9 278.7l5.1 9.4h-10.2zM384.2 287.6l5.1 9.4h-10.2zM384.5 263.0l5.1 9.4h-10.2zM384.8 286.8l5.1 9.4h-10.2zM385.2 269.0l5.1 9.4h-10.2zM385.5 288.6l5.1 9.4h-10.2zM385.8 262.1l5.1 9.4h-10.2zM386.2 258.1l5.1 9.4h-10.2zM386.5 289.6l5.1 9.4h-10.2zM386.8 295.2l5.1 9.4h-10.2zM387.1 257.7l5.1 9.4h-10.2zM387.5 253.7l5.1 9.4h-10.2zM387.8 278.3l5.1 9.4h-10.2zM388.1 248.8l5.1 9.4h-10.2zM388.5 278.9l5.1 9.4h-10.2zM388.8 277.0l5.1 9.4h-10.2zM389.1 260.5l5.1 9.4h-10.2zM389.4 261.3l5.1 9.4h-10.2zM389.8 277.0l5.1 9.4h-10.2zM390.1 269.0l5.1 9.4h-10.2zM390.4 258.6l5.1 9.4h-10.2zM390.8 274.8l5.1 9.4h-10.2zM391.1 245.7l5.1 9.4h-10.2zM391.4 260.7l5.1 9.4h-10.2zM391.7 249.7l5.1 9.4h-10.2zM392.1 278.0l5.1 9.4h-10.2zM392.4 288.9l5.1 9.4h-10.2zM392.7 271.5l5.1 9.4h-10.2zM393.1 283.9l5.1 9.4h-10.2zM393.4 281.9l5.1 9.4h-10.2zM393.7 189.6l5.1 9.4h-10.2zM394.0 166.3l5.1 9.4h-10.2zM394.4 203.3l5.1 9.4h-10.2zM394.7 221.9l5.1 9.4h-10.2zM395.0 195.5l5.1 9.4h-10.2zM395.4 209.9l5.1 9.4h-10.2zM395.7 209.2l5.1 9.4h-10.2zM396.0 214.7l5.1 9.4h-10.2zM396.3 244.0l5.1 9.4h-10.2zM396.7 237.3l5.1 9.4h-10.2zM397.0 244.2l5.1 9.4h-10.2zM397.3 279.8l5.1 9.4h-10.2zM397.7 254.0l5.1 9.4h-10.2zM398.0 201.7l5.1 9.4h-10.2zM398.3 217.2l5.1 9.4h-10.2zM398.7 261.2l5.1 9.4h-10.2zM399.0 261.1l5.1 9.4h-10.2zM399.3 274.7l5.1 9.4h-10.2zM399.6 281.3l5.1 9.4h-10.2zM400.0 285.2l5.1 9.4h-10.2zM400.3 258.7l5.1 9.4h-10.2zM400.6 283.4l5.1 9.4h-10.2zM401.0 265.9l5.1 9.4h-10.2zM401.3 287.3l5.1 9.4h-10.2zM401.6 281.4l5.1 9.4h-10.2zM401.9 277.5l5.1 9.4h-10.2zM402.3 281.3l5.1 9.4h-10.2zM402.6 291.1l5.1 9.4h-10.2zM402.9 263.1l5.1 9.4h-10.2zM403.3 245.4l5.1 9.4h-10.2zM403.6 251.0l5.1 9.4h-10.2zM403.9 276.0l5.1 9.4h-10.2zM404.2 224.3l5.1 9.4h-10.2zM404.6 222.0l5.1 9.4h-10.2zM404.9 212.1l5.1 9.4h-10.2zM405.2 211.9l5.1 9.4h-10.2zM405.6 219.6l5.1 9.4h-10.2zM405.9 237.5l5.1 9.4h-10.2zM406.2 251.2l5.1 9.4h-10.2zM406.5 280.9l5.1 9.4h-10.2zM406.9 278.7l5.1 9.4h-10.2zM407.2 284.0l5.1 9.4h-10.2zM407.5 251.6l5.1 9.4h-10.2zM407.9 243.9l5.1 9.4h-10.2zM408.2 282.2l5.1 9.4h-10.2zM408.5 287.8l5.1 9.4h-10.2zM408.8 267.0l5.1 9.4h-10.2zM409.2 275.9l5.1 9.4h-10.2zM409.5 285.7l5.1 9.4h-10.2zM409.8 241.8l5.1 9.4h-10.2zM410.2 221.7l5.1 9.4h-10.2zM410.5 210.9l5.1 9.4h-10.2zM410.8 199.6l5.1 9.4h-10.2zM411.1 219.3l5.1 9.4h-10.2zM411.5 234.4l5.1 9.4h-10.2zM411.8 250.5l5.1 9.4h-10.2zM412.1 230.2l5.1 9.4h-10.2zM412.5 251.5l5.1 9.4h-10.2zM412.8 262.4l5.1 9.4h-10.2zM413.1 272.2l5.1 9.4h-10.2zM413.4 275.1l5.1 9.4h-10.2zM413.8 282.3l5.1 9.4h-10.2zM414.1 244.4l5.1 9.4h-10.2zM414.4 259.0l5.1 9.4h-10.2zM414.8 277.3l5.1 9.4h-10.2zM415.1 280.5l5.1 9.4h-10.2zM415.4 272.6l5.1 9.4h-10.2zM415.7 276.8l5.1 9.4h-10.2zM416.1 268.9l5.1 9.4h-10.2zM416.4 276.9l5.1 9.4h-10.2zM416.7 292.7l5.1 9.4h-10.2zM417.1 273.7l5.1 9.4h-10.2zM417.4 283.3l5.1 9.4h-10.2zM417.7 290.0l5.1 9.4h-10.2zM418.0 292.0l5.1 9.4h-10.2zM418.4 290.9l5.1 9.4h-10.2zM418.7 285.7l5.1 9.4h-10.2zM419.0 288.1l5.1 9.4h-10.2zM419.4 290.9l5.1 9.4h-10.2zM419.7 272.0l5.1 9.4h-10.2zM420.0 256.1l5.1 9.4h-10.2zM420.3 258.6l5.1 9.4h-10.2zM420.7 285.0l5.1 9.4h-10.2zM421.0 276.7l5.1 9.4h-10.2zM421.3 283.5l5.1 9.4h-10.2zM421.7 265.5l5.1 9.4h-10.2zM422.0 277.5l5.1 9.4h-10.2zM422.3 282.0l5.1 9.4h-10.2zM422.7 291.8l5.1 9.4h-10.2zM423.0 274.5l5.1 9.4h-10.2zM423.3 283.9l5.1 9.4h-10.2zM423.6 274.4l5.1 9.4h-10.2zM424.0 263.1l5.1 9.4h-10.2zM424.3 284.2l5.1 9.4h-10.2zM424.6 293.9l5.1 9.4h-10.2zM425.0 266.4l5.1 9.4h-10.2zM425.3 244.2l5.1 9.4h-10.2zM425.6 256.9l5.1 9.4h-10.2zM425.9 258.9l5.1 9.4h-10.2zM426.3 270.3l5.1 9.4h-10.2zM426.6 287.3l5.1 9.4h-10.2zM426.9 292.7l5.1 9.4h-10.2zM427.3 286.1l5.1 9.4h-10.2zM427.6 283.8l5.1 9.4h-10.2zM427.9 273.7l5.1 9.4h-10.2zM428.2 282.5l5.1 9.4h-10.2zM428.6 289.3l5.1 9.4h-10.2zM428.9 263.0l5.1 9.4h-10.2zM429.2 285.2l5.1 9.4h-10.2zM429.6 285.5l5.1 9.4h-10.2zM429.9 280.1l5.1 9.4h-10.2zM430.2 271.9l5.1 9.4h-10.2zM430.5 285.1l5.1 9.4h-10.2zM430.9 260.2l5.1 9.4h-10.2zM431.2 268.7l5.1 9.4h-10.2zM431.5 280.5l5.1 9.4h-10.2zM431.9 290.2l5.1 9.4h-10.2zM432.2 289.2l5.1 9.4h-10.2zM432.5 283.0l5.1 9.4h-10.2zM432.8 285.3l5.1 9.4h-10.2zM433.2 284.7l5.1 9.4h-10.2zM433.5 278.3l5.1 9.4h-10.2zM433.8 264.2l5.1 9.4h-10.2zM434.2 277.3l5.1 9.4h-10.2zM434.5 282.5l5.1 9.4h-10.2zM434.8 264.1l5.1 9.4h-10.2zM435.1 281.1l5.1 9.4h-10.2zM435.5 292.9l5.1 9.4h-10.2zM435.8 254.6l5.1 9.4h-10.2zM436.1 278.0l5.1 9.4h-10.2zM436.5 289.5l5.1 9.4h-10.2zM436.8 284.1l5.1 9.4h-10.2zM437.1 283.8l5.1 9.4h-10.2zM437.4 232.2l5.1 9.4h-10.2zM437.8 211.3l5.1 9.4h-10.2zM438.1 206.9l5.1 9.4h-10.2zM438.4 217.4l5.1 9.4h-10.2zM438.8 239.8l5.1 9.4h-10.2zM439.1 253.8l5.1 9.4h-10.2zM439.4 273.3l5.1 9.4h-10.2zM439.7 290.3l5.1 9.4h-10.2zM440.1 268.4l5.1 9.4h-10.2zM440.4 247.0l5.1 9.4h-10.2zM440.7 268.0l5.1 9.4h-10.2zM441.1 238.5l5.1 9.4h-10.2zM441.4 263.4l5.1 9.4h-10.2zM441.7 276.0l5.1 9.4h-10.2zM442.0 279.2l5.1 9.4h-10.2zM442.4 287.8l5.1 9.4h-10.2zM442.7 290.8l5.1 9.4h-10.2zM443.0 296.7l5.1 9.4h-10.2zM443.4 296.7l5.1 9.4h-10.2zM443.7 277.6l5.1 9.4h-10.2zM444.0 277.3l5.1 9.4h-10.2zM444.3 292.0l5.1 9.4h-10.2zM444.7 295.1l5.1 9.4h-10.2zM445.0 280.3l5.1 9.4h-10.2zM445.3 274.1l5.1 9.4h-10.2zM445.7 287.3l5.1 9.4h-10.2zM446.0 289.9l5.1 9.4h-10.2zM446.3 295.4l5.1 9.4h-10.2zM446.7 288.8l5.1 9.4h-10.2zM447.0 290.5l5.1 9.4h-10.2zM447.3 296.6l5.1 9.4h-10.2zM447.6 298.9l5.1 9.4h-10.2zM448.0 298.6l5.1 9.4h-10.2zM448.3 296.4l5.1 9.4h-10.2zM448.6 297.1l5.1 9.4h-10.2zM449.0 299.0l5.1 9.4h-10.2zM449.3 297.6l5.1 9.4h-10.2zM449.6 294.9l5.1 9.4h-10.2zM449.9 296.9l5.1 9.4h-10.2zM450.3 300.2l5.1 9.4h-10.2zM450.6 299.3l5.1 9.4h-10.2zM450.9 298.4l5.1 9.4h-10.2zM451.3 299.4l5.1 9.4h-10.2zM451.6 295.3l5.1 9.4h-10.2zM451.9 298.9l5.1 9.4h-10.2zM452.2 300.1l5.1 9.4h-10.2zM452.6 294.1l5.1 9.4h-10.2zM452.9 298.9l5.1 9.4h-10.2zM453.2 300.8l5.1 9.4h-10.2zM453.6 299.4l5.1 9.4h-10.2zM453.9 300.7l5.1 9.4h-10.2zM454.2 300.1l5.1 9.4h-10.2zM454.5 298.4l5.1 9.4h-10.2zM454.9 298.3l5.1 9.4h-10.2zM455.2 297.6l5.1 9.4h-10.2zM455.5 298.2l5.1 9.4h-10.2zM455.9 298.7l5.1 9.4h-10.2zM456.2 299.2l5.1 9.4h-10.2zM456.5 298.1l5.1 9.4h-10.2zM456.8 298.6l5.1 9.4h-10.2zM457.2 299.9l5.1 9.4h-10.2zM457.5 300.0l5.1 9.4h-10.2zM457.8 300.1l5.1 9.4h-10.2zM458.2 298.0l5.1 9.4h-10.2zM458.5 298.3l5.1 9.4h-10.2zM458.8 299.7l5.1 9.4h-10.2zM459.1 299.6l5.1 9.4h-10.2zM459.5 298.3l5.1 9.4h-10.2zM459.8 296.9l5.1 9.4h-10.2zM460.1 298.5l5.1 9.4h-10.2zM460.5 300.7l5.1 9.4h-10.2zM460.8 299.1l5.1 9.4h-10.2zM461.1 299.9l5.1 9.4h-10.2zM461.4 298.5l5.1 9.4h-10.2zM461.8 296.3l5.1 9.4h-10.2zM462.1 298.5l5.1 9.4h-10.2zM462.4 298.9l5.1 9.4h-10.2zM462.8 299.0l5.1 9.4h-10.2zM463.1 300.9l5.1 9.4h-10.2zM463.4 295.9l5.1 9.4h-10.2zM463.7 298.9l5.1 9.4h-10.2zM464.1 299.4l5.1 9.4h-10.2zM464.4 298.3l5.1 9.4h-10.2zM464.7 297.3l5.1 9.4h-10.2zM465.1 299.0l5.1 9.4h-10.2zM465.4 299.9l5.1 9.4h-10.2zM465.7 299.3l5.1 9.4h-10.2zM466.0 297.4l5.1 9.4h-10.2zM466.4 300.1l5.1 9.4h-10.2zM466.7 300.1l5.1 9.4h-10.2zM467.0 300.2l5.1 9.4h-10.2zM467.4 300.2l5.1 9.4h-10.2zM467.7 299.0l5.1 9.4h-10.2zM468.0 297.1l5.1 9.4h-10.2zM468.3 300.2l5.1 9.4h-10.2zM468.7 300.9l5.1 9.4h-10.2zM469.0 300.9l5.1 9.4h-10.2zM469.3 298.7l5.1 9.4h-10.2zM469.7 298.8l5.1 9.4h-10.2zM470.0 300.5l5.1 9.4h-10.2zM470.3 299.7l5.1 9.4h-10.2zM470.7 298.0l5.1 9.4h-10.2zM471.0 296.9l5.1 9.4h-10.2zM471.3 300.9l5.1 9.4h-10.2zM471.6 299.3l5.1 9.4h-10.2zM472.0 297.9l5.1 9.4h-10.2zM472.3 297.2l5.1 9.4h-10.2zM472.6 299.0l5.1 9.4h-10.2zM473.0 299.4l5.1 9.4h-10.2zM473.3 300.3l5.1 9.4h-10.2zM473.6 300.3l5.1 9.4h-10.2zM473.9 299.5l5.1 9.4h-10.2zM474.3 297.5l5.1 9.4h-10.2zM474.6 298.7l5.1 9.4h-10.2zM474.9 299.2l5.1 9.4h-10.2zM475.3 299.8l5.1 9.4h-10.2zM475.6 299.8l5.1 9.4h-10.2zM475.9 300.3l5.1 9.4h-10.2zM476.2 300.6l5.1 9.4h-10.2zM476.6 298.8l5.1 9.4h-10.2zM476.9 299.5l5.1 9.4h-10.2zM477.2 298.2l5.1 9.4h-10.2zM477.6 299.2l5.1 9.4h-10.2zM477.9 297.8l5.1 9.4h-10.2zM478.2 296.3l5.1 9.4h-10.2zM478.5 298.3l5.1 9.4h-10.2zM478.9 297.4l5.1 9.4h-10.2zM479.2 296.6l5.1 9.4h-10.2zM479.5 297.4l5.1 9.4h-10.2zM479.9 298.8l5.1 9.4h-10.2zM480.2 299.7l5.1 9.4h-10.2zM480.5 299.6l5.1 9.4h-10.2zM480.8 297.8l5.1 9.4h-10.2zM481.2 300.0l5.1 9.4h-10.2zM481.5 300.1l5.1 9.4h-10.2zM481.8 299.3l5.1 9.4h-10.2zM482.2 299.7l5.1 9.4h-10.2zM482.5 300.5l5.1 9.4h-10.2zM482.8 298.3l5.1 9.4h-10.2zM483.1 300.0l5.1 9.4h-10.2zM483.5 300.0l5.1 9.4h-10.2zM483.8 299.2l5.1 9.4h-10.2zM484.1 298.7l5.1 9.4h-10.2zM484.5 300.1l5.1 9.4h-10.2zM484.8 298.6l5.1 9.4h-10.2zM485.1 298.8l5.1 9.4h-10.2zM485.4 299.7l5.1 9.4h-10.2zM485.8 300.4l5.1 9.4h-10.2zM486.1 300.9l5.1 9.4h-10.2zM486.4 297.7l5.1 9.4h-10.2zM486.8 299.5l5.1 9.4h-10.2zM487.1 299.4l5.1 9.4h-10.2zM487.4 298.7l5.1 9.4h-10.2zM487.7 296.0l5.1 9.4h-10.2zM488.1 298.6l5.1 9.4h-10.2zM488.4 291.2l5.1 9.4h-10.2zM488.7 298.6l5.1 9.4h-10.2zM489.1 298.8l5.1 9.4h-10.2zM489.4 298.5l5.1 9.4h-10.2zM489.7 296.6l5.1 9.4h-10.2zM490.0 290.2l5.1 9.4h-10.2zM490.4 291.1l5.1 9.4h-10.2zM490.7 298.1l5.1 9.4h-10.2zM491.0 298.4l5.1 9.4h-10.2zM491.4 298.4l5.1 9.4h-10.2zM491.7 291.8l5.1 9.4h-10.2zM492.0 289.6l5.1 9.4h-10.2zM492.3 295.3l5.1 9.4h-10.2zM492.7 296.6l5.1 9.4h-10.2zM493.0 297.9l5.1 9.4h-10.2zM493.3 298.2l5.1 9.4h-10.2zM493.7 293.0l5.1 9.4h-10.2zM494.0 288.1l5.1 9.4h-10.2zM494.3 295.9l5.1 9.4h-10.2zM494.7 297.0l5.1 9.4h-10.2zM495.0 298.5l5.1 9.4h-10.2zM495.3 298.0l5.1 9.4h-10.2zM495.6 295.6l5.1 9.4h-10.2zM496.0 298.8l5.1 9.4h-10.2zM496.3 296.7l5.1 9.4h-10.2zM496.6 296.8l5.1 9.4h-10.2zM497.0 298.3l5.1 9.4h-10.2zM497.3 298.1l5.1 9.4h-10.2zM497.6 297.7l5.1 9.4h-10.2zM497.9 297.8l5.1 9.4h-10.2zM498.3 298.1l5.1 9.4h-10.2zM498.6 295.5l5.1 9.4h-10.2zM498.9 296.9l5.1 9.4h-10.2zM499.3 295.3l5.1 9.4h-10.2zM499.6 298.3l5.1 9.4h-10.2zM499.9 294.1l5.1 9.4h-10.2zM500.2 298.6l5.1 9.4h-10.2zM500.6 294.7l5.1 9.4h-10.2zM500.9 296.6l5.1 9.4h-10.2zM501.2 298.1l5.1 9.4h-10.2zM501.6 294.5l5.1 9.4h-10.2zM501.9 298.0l5.1 9.4h-10.2zM502.2 298.2l5.1 9.4h-10.2zM502.5 297.4l5.1 9.4h-10.2zM502.9 294.2l5.1 9.4h-10.2zM503.2 296.5l5.1 9.4h-10.2zM503.5 292.1l5.1 9.4h-10.2zM503.9 297.8l5.1 9.4h-10.2zM504.2 298.8l5.1 9.4h-10.2zM504.5 296.8l5.1 9.4h-10.2zM504.8 298.2l5.1 9.4h-10.2zM505.2 298.4l5.1 9.4h-10.2zM505.5 296.4l5.1 9.4h-10.2zM505.8 299.5l5.1 9.4h-10.2zM506.2 290.0l5.1 9.4h-10.2zM506.5 291.4l5.1 9.4h-10.2zM506.8 295.0l5.1 9.4h-10.2zM507.1 299.0l5.1 9.4h-10.2zM507.5 290.6l5.1 9.4h-10.2zM507.8 288.0l5.1 9.4h-10.2zM508.1 286.4l5.1 9.4h-10.2zM508.5 280.6l5.1 9.4h-10.2zM508.8 295.1l5.1 9.4h-10.2zM509.1 288.5l5.1 9.4h-10.2zM509.4 276.8l5.1 9.4h-10.2zM509.8 289.4l5.1 9.4h-10.2zM510.1 298.4l5.1 9.4h-10.2zM510.4 289.2l5.1 9.4h-10.2zM510.8 293.8l5.1 9.4h-10.2zM511.1 297.6l5.1 9.4h-10.2zM511.4 267.1l5.1 9.4h-10.2zM511.7 270.4l5.1 9.4h-10.2zM512.1 281.2l5.1 9.4h-10.2zM512.4 274.1l5.1 9.4h-10.2zM512.7 282.0l5.1 9.4h-10.2zM513.1 260.1l5.1 9.4h-10.2zM513.4 277.4l5.1 9.4h-10.2zM513.7 283.2l5.1 9.4h-10.2zM514.0 287.4l5.1 9.4h-10.2zM514.4 286.8l5.1 9.4h-10.2zM514.7 294.8l5.1 9.4h-10.2zM515.0 296.6l5.1 9.4h-10.2zM515.4 296.7l5.1 9.4h-10.2zM515.7 274.0l5.1 9.4h-10.2zM516.0 248.8l5.1 9.4h-10.2zM516.3 242.4l5.1 9.4h-10.2zM516.7 270.4l5.1 9.4h-10.2zM517.0 283.6l5.1 9.4h-10.2zM517.3 290.4l5.1 9.4h-10.2zM517.7 287.6l5.1 9.4h-10.2zM518.0 286.4l5.1 9.4h-10.2zM518.3 295.5l5.1 9.4h-10.2zM518.7 275.9l5.1 9.4h-10.2zM519.0 276.1l5.1 9.4h-10.2zM519.3 294.5l5.1 9.4h-10.2zM519.6 264.9l5.1 9.4h-10.2zM520.0 257.1l5.1 9.4h-10.2zM520.3 238.2l5.1 9.4h-10.2zM520.6 272.6l5.1 9.4h-10.2zM521.0 280.5l5.1 9.4h-10.2zM521.3 290.4l5.1 9.4h-10.2zM521.6 290.6l5.1 9.4h-10.2zM521.9 290.4l5.1 9.4h-10.2zM522.3 296.4l5.1 9.4h-10.2zM522.6 294.1l5.1 9.4h-10.2zM522.9 290.3l5.1 9.4h-10.2zM523.3 278.2l5.1 9.4h-10.2zM523.6 277.1l5.1 9.4h-10.2zM523.9 253.9l5.1 9.4h-10.2zM524.2 273.8l5.1 9.4h-10.2zM524.6 274.8l5.1 9.4h-10.2zM524.9 285.1l5.1 9.4h-10.2zM525.2 286.1l5.1 9.4h-10.2zM525.6 259.8l5.1 9.4h-10.2zM525.9 289.1l5.1 9.4h-10.2zM526.2 271.4l5.1 9.4h-10.2zM526.5 287.9l5.1 9.4h-10.2zM526.9 296.0l5.1 9.4h-10.2zM527.2 284.8l5.1 9.4h-10.2zM527.5 292.0l5.1 9.4h-10.2zM527.9 235.3l5.1 9.4h-10.2zM528.2 272.9l5.1 9.4h-10.2zM528.5 248.2l5.1 9.4h-10.2zM528.8 245.0l5.1 9.4h-10.2zM529.2 268.1l5.1 9.4h-10.2zM529.5 257.5l5.1 9.4h-10.2zM529.8 267.5l5.1 9.4h-10.2zM530.2 284.9l5.1 9.4h-10.2zM530.5 285.0l5.1 9.4h-10.2zM530.8 292.8l5.1 9.4h-10.2zM531.1 293.5l5.1 9.4h-10.2zM531.5 271.7l5.1 9.4h-10.2zM531.8 290.3l5.1 9.4h-10.2zM532.1 298.2l5.1 9.4h-10.2zM532.5 296.8l5.1 9.4h-10.2zM532.8 289.3l5.1 9.4h-10.2zM533.1 280.1l5.1 9.4h-10.2zM533.4 280.7l5.1 9.4h-10.2zM533.8 290.4l5.1 9.4h-10.2zM534.1 295.6l5.1 9.4h-10.2zM534.4 297.4l5.1 9.4h-10.2zM534.8 298.1l5.1 9.4h-10.2zM535.1 297.5l5.1 9.4h-10.2zM535.4 281.1l5.1 9.4h-10.2zM535.7 287.4l5.1 9.4h-10.2zM536.1 298.3l5.1 9.4h-10.2zM536.4 291.1l5.1 9.4h-10.2zM536.7 292.8l5.1 9.4h-10.2zM537.1 296.9l5.1 9.4h-10.2zM537.4 277.7l5.1 9.4h-10.2zM537.7 262.0l5.1 9.4h-10.2zM538.0 290.2l5.1 9.4h-10.2zM538.4 288.2l5.1 9.4h-10.2zM538.7 289.2l5.1 9.4h-10.2zM539.0 285.9l5.1 9.4h-10.2zM539.4 288.8l5.1 9.4h-10.2zM539.7 283.5l5.1 9.4h-10.2zM540.0 291.0l5.1 9.4h-10.2zM540.3 297.8l5.1 9.4h-10.2zM540.7 286.1l5.1 9.4h-10.2zM541.0 292.5l5.1 9.4h-10.2zM541.3 296.2l5.1 9.4h-10.2zM541.7 291.0l5.1 9.4h-10.2zM542.0 294.3l5.1 9.4h-10.2zM542.3 285.0l5.1 9.4h-10.2zM542.7 295.6l5.1 9.4h-10.2zM543.0 293.0l5.1 9.4h-10.2zM543.3 296.5l5.1 9.4h-10.2zM543.6 298.0l5.1 9.4h-10.2zM544.0 298.8l5.1 9.4h-10.2zM544.3 297.9l5.1 9.4h-10.2zM544.6 297.1l5.1 9.4h-10.2zM545.0 297.7l5.1 9.4h-10.2zM545.3 290.4l5.1 9.4h-10.2zM545.6 295.9l5.1 9.4h-10.2zM545.9 297.1l5.1 9.4h-10.2zM546.3 290.9l5.1 9.4h-10.2zM546.6 287.3l5.1 9.4h-10.2zM546.9 289.4l5.1 9.4h-10.2zM547.3 287.1l5.1 9.4h-10.2zM547.6 290.9l5.1 9.4h-10.2zM547.9 296.7l5.1 9.4h-10.2zM548.2 286.1l5.1 9.4h-10.2zM548.6 296.1l5.1 9.4h-10.2zM548.9 289.8l5.1 9.4h-10.2zM549.2 292.7l5.1 9.4h-10.2zM549.6 297.3l5.1 9.4h-10.2zM549.9 296.6l5.1 9.4h-10.2zM550.2 297.0l5.1 9.4h-10.2zM550.5 287.9l5.1 9.4h-10.2zM550.9 290.5l5.1 9.4h-10.2zM551.2 292.4l5.1 9.4h-10.2zM551.5 296.7l5.1 9.4h-10.2zM551.9 297.1l5.1 9.4h-10.2zM552.2 298.5l5.1 9.4h-10.2zM552.5 297.8l5.1 9.4h-10.2zM552.8 299.3l5.1 9.4h-10.2zM553.2 300.1l5.1 9.4h-10.2zM553.5 299.9l5.1 9.4h-10.2zM553.8 299.2l5.1 9.4h-10.2zM554.2 297.3l5.1 9.4h-10.2zM554.5 298.8l5.1 9.4h-10.2zM554.8 297.9l5.1 9.4h-10.2zM555.1 300.9l5.1 9.4h-10.2zM555.5 298.4l5.1 9.4h-10.2zM555.8 299.7l5.1 9.4h-10.2zM556.1 300.1l5.1 9.4h-10.2zM556.5 299.5l5.1 9.4h-10.2zM556.8 300.2l5.1 9.4h-10.2zM557.1 299.8l5.1 9.4h-10.2zM557.4 299.8l5.1 9.4h-10.2zM557.8 300.2l5.1 9.4h-10.2zM558.1 299.1l5.1 9.4h-10.2zM558.4 299.1l5.1 9.4h-10.2zM558.8 299.9l5.1 9.4h-10.2zM559.1 300.1l5.1 9.4h-10.2zM559.4 300.8l5.1 9.4h-10.2zM559.7 300.2l5.1 9.4h-10.2zM560.1 300.0l5.1 9.4h-10.2zM560.4 300.0l5.1 9.4h-10.2zM560.7 300.0l5.1 9.4h-10.2zM561.1 299.6l5.1 9.4h-10.2zM561.4 299.8l5.1 9.4h-10.2zM561.7 300.2l5.1 9.4h-10.2zM562.0 300.1l5.1 9.4h-10.2zM562.4 300.9l5.1 9.4h-10.2zM562.7 300.4l5.1 9.4h-10.2zM563.0 300.0l5.1 9.4h-10.2zM563.4 299.4l5.1 9.4h-10.2zM563.7 299.6l5.1 9.4h-10.2zM564.0 299.8l5.1 9.4h-10.2zM564.3 300.5l5.1 9.4h-10.2zM564.7 300.6l5.1 9.4h-10.2zM565.0 300.1l5.1 9.4h-10.2zM565.3 300.2l5.1 9.4h-10.2zM565.7 300.1l5.1 9.4h-10.2zM566.0 300.6l5.1 9.4h-10.2zM566.3 299.7l5.1 9.4h-10.2zM566.7 300.2l5.1 9.4h-10.2zM567.0 300.2l5.1 9.4h-10.2zM567.3 300.9l5.1 9.4h-10.2zM567.6 300.1l5.1 9.4h-10.2zM568.0 300.5l5.1 9.4h-10.2zM568.3 299.5l5.1 9.4h-10.2zM568.6 300.9l5.1 9.4h-10.2zM569.0 300.0l5.1 9.4h-10.2zM569.3 300.4l5.1 9.4h-10.2zM569.6 299.5l5.1 9.4h-10.2zM569.9 300.9l5.1 9.4h-10.2zM570.3 300.6l5.1 9.4h-10.2zM570.6 299.3l5.1 9.4h-10.2zM570.9 299.0l5.1 9.4h-10.2zM571.3 300.9l5.1 9.4h-10.2zM571.6 299.5l5.1 9.4h-10.2zM571.9 299.4l5.1 9.4h-10.2zM572.2 299.6l5.1 9.4h-10.2zM572.6 300.0l5.1 9.4h-10.2zM572.9 300.9l5.1 9.4h-10.2zM573.2 300.9l5.1 9.4h-10.2zM573.6 298.7l5.1 9.4h-10.2zM573.9 300.1l5.1 9.4h-10.2zM574.2 300.0l5.1 9.4h-10.2zM574.5 300.0l5.1 9.4h-10.2zM574.9 300.2l5.1 9.4h-10.2zM575.2 300.5l5.1 9.4h-10.2zM575.5 300.8l5.1 9.4h-10.2zM575.9 300.5l5.1 9.4h-10.2zM576.2 300.3l5.1 9.4h-10.2zM576.5 300.3l5.1 9.4h-10.2zM576.8 299.0l5.1 9.4h-10.2zM577.2 300.1l5.1 9.4h-10.2zM577.5 300.0l5.1 9.4h-10.2zM577.8 298.5l5.1 9.4h-10.2zM578.2 299.4l5.1 9.4h-10.2zM578.5 299.8l5.1 9.4h-10.2zM578.8 300.9l5.1 9.4h-10.2zM579.1 299.9l5.1 9.4h-10.2zM579.5 299.5l5.1 9.4h-10.2zM579.8 300.6l5.1 9.4h-10.2zM580.1 299.6l5.1 9.4h-10.2zM580.5 300.5l5.1 9.4h-10.2zM580.8 300.0l5.1 9.4h-10.2zM581.1 299.9l5.1 9.4h-10.2zM581.4 300.2l5.1 9.4h-10.2zM581.8 299.9l5.1 9.4h-10.2zM582.1 299.4l5.1 9.4h-10.2zM582.4 300.3l5.1 9.4h-10.2zM582.8 300.0l5.1 9.4h-10.2zM583.1 299.8l5.1 9.4h-10.2zM583.4 300.1l5.1 9.4h-10.2zM583.7 300.8l5.1 9.4h-10.2zM584.1 299.9l5.1 9.4h-10.2zM584.4 299.2l5.1 9.4h-10.2zM584.7 299.5l5.1 9.4h-10.2zM585.1 300.9l5.1 9.4h-10.2zM585.4 300.6l5.1 9.4h-10.2zM585.7 300.6l5.1 9.4h-10.2zM586.0 300.3l5.1 9.4h-10.2zM586.4 300.3l5.1 9.4h-10.2zM586.7 300.7l5.1 9.4h-10.2zM587.0 299.8l5.1 9.4h-10.2zM587.4 299.9l5.1 9.4h-10.2zM587.7 300.2l5.1 9.4h-10.2zM588.0 300.6l5.1 9.4h-10.2zM588.3 299.9l5.1 9.4h-10.2zM588.7 300.5l5.1 9.4h-10.2zM589.0 299.4l5.1 9.4h-10.2zM589.3 298.7l5.1 9.4h-10.2zM589.7 300.9l5.1 9.4h-10.2zM590.0 299.4l5.1 9.4h-10.2zM590.3 300.3l5.1 9.4h-10.2zM590.7 300.0l5.1 9.4h-10.2zM591.0 300.4l5.1 9.4h-10.2zM591.3 300.9l5.1 9.4h-10.2zM591.6 300.3l5.1 9.4h-10.2zM592.0 300.0l5.1 9.4h-10.2zM592.3 299.8l5.1 9.4h-10.2zM592.6 300.3l5.1 9.4h-10.2zM593.0 300.7l5.1 9.4h-10.2zM593.3 298.9l5.1 9.4h-10.2zM593.6 300.2l5.1 9.4h-10.2zM593.9 300.4l5.1 9.4h-10.2zM594.3 300.9l5.1 9.4h-10.2zM594.6 300.1l5.1 9.4h-10.2zM594.9 299.3l5.1 9.4h-10.2zM595.3 299.8l5.1 9.4h-10.2zM595.6 300.7l5.1 9.4h-10.2zM595.9 300.9l5.1 9.4h-10.2zM596.2 299.6l5.1 9.4h-10.2zM596.6 300.6l5.1 9.4h-10.2zM596.9 300.0l5.1 9.4h-10.2zM597.2 300.7l5.1 9.4h-10.2zM597.6 300.2l5.1 9.4h-10.2zM597.9 300.2l5.1 9.4h-10.2zM598.2 300.9l5.1 9.4h-10.2zM598.5 299.5l5.1 9.4h-10.2zM598.9 300.3l5.1 9.4h-10.2zM599.2 299.6l5.1 9.4h-10.2zM599.5 300.0l5.1 9.4h-10.2zM599.9 299.0l5.1 9.4h-10.2zM600.2 300.0l5.1 9.4h-10.2zM600.5 299.3l5.1 9.4h-10.2zM600.8 300.0l5.1 9.4h-10.2zM601.2 299.9l5.1 9.4h-10.2zM601.5 299.6l5.1 9.4h-10.2zM601.8 299.5l5.1 9.4h-10.2zM602.2 300.5l5.1 9.4h-10.2zM602.5 300.2l5.1 9.4h-10.2zM602.8 298.4l5.1 9.4h-10.2zM603.1 300.7l5.1 9.4h-10.2zM603.5 300.9l5.1 9.4h-10.2zM603.8 300.6l5.1 9.4h-10.2zM604.1 300.3l5.1 9.4h-10.2zM604.5 299.0l5.1 9.4h-10.2zM604.8 299.5l5.1 9.4h-10.2zM605.1 299.2l5.1 9.4h-10.2zM605.4 300.6l5.1 9.4h-10.2zM605.8 299.8l5.1 9.4h-10.2zM606.1 299.4l5.1 9.4h-10.2zM606.4 300.1l5.1 9.4h-10.2zM606.8 299.9l5.1 9.4h-10.2zM607.1 300.4l5.1 9.4h-10.2zM607.4 299.7l5.1 9.4h-10.2zM607.7 300.9l5.1 9.4h-10.2zM608.1 299.9l5.1 9.4h-10.2zM608.4 298.8l5.1 9.4h-10.2zM608.7 300.1l5.1 9.4h-10.2zM609.1 299.9l5.1 9.4h-10.2zM609.4 299.0l5.1 9.4h-10.2zM609.7 297.4l5.1 9.4h-10.2zM610.0 296.5l5.1 9.4h-10.2zM610.4 298.1l5.1 9.4h-10.2zM610.7 298.6l5.1 9.4h-10.2zM611.0 297.0l5.1 9.4h-10.2zM611.4 299.4l5.1 9.4h-10.2zM611.7 298.7l5.1 9.4h-10.2zM612.0 299.6l5.1 9.4h-10.2zM612.3 299.4l5.1 9.4h-10.2zM612.7 297.6l5.1 9.4h-10.2zM613.0 298.4l5.1 9.4h-10.2zM613.3 298.0l5.1 9.4h-10.2zM613.7 298.8l5.1 9.4h-10.2zM614.0 298.8l5.1 9.4h-10.2zM614.3 298.1l5.1 9.4h-10.2zM614.7 299.0l5.1 9.4h-10.2zM615.0 299.2l5.1 9.4h-10.2zM615.3 300.0l5.1 9.4h-10.2zM615.6 298.9l5.1 9.4h-10.2zM616.0 297.7l5.1 9.4h-10.2zM616.3 300.0l5.1 9.4h-10.2zM616.6 300.3l5.1 9.4h-10.2zM617.0 297.3l5.1 9.4h-10.2zM617.3 300.2l5.1 9.4h-10.2zM617.6 300.1l5.1 9.4h-10.2zM617.9 298.1l5.1 9.4h-10.2zM618.3 300.4l5.1 9.4h-10.2zM618.6 300.9l5.1 9.4h-10.2zM618.9 298.6l5.1 9.4h-10.2zM619.3 299.5l5.1 9.4h-10.2zM619.6 298.7l5.1 9.4h-10.2zM619.9 298.0l5.1 9.4h-10.2zM620.2 300.0l5.1 9.4h-10.2zM620.6 300.3l5.1 9.4h-10.2zM620.9 297.7l5.1 9.4h-10.2zM621.2 299.6l5.1 9.4h-10.2zM621.6 298.7l5.1 9.4h-10.2zM621.9 297.4l5.1 9.4h-10.2zM622.2 299.8l5.1 9.4h-10.2zM622.5 296.7l5.1 9.4h-10.2zM622.9 296.3l5.1 9.4h-10.2zM623.2 298.3l5.1 9.4h-10.2zM623.5 299.9l5.1 9.4h-10.2zM623.9 297.6l5.1 9.4h-10.2zM624.2 294.6l5.1 9.4h-10.2zM624.5 298.4l5.1 9.4h-10.2zM624.8 299.2l5.1 9.4h-10.2zM625.2 300.0l5.1 9.4h-10.2zM625.5 299.0l5.1 9.4h-10.2zM625.8 299.7l5.1 9.4h-10.2zM626.2 296.6l5.1 9.4h-10.2zM626.5 299.4l5.1 9.4h-10.2zM626.8 299.9l5.1 9.4h-10.2zM627.1 299.3l5.1 9.4h-10.2zM627.5 299.0l5.1 9.4h-10.2zM627.8 299.5l5.1 9.4h-10.2zM628.1 297.8l5.1 9.4h-10.2zM628.5 299.7l5.1 9.4h-10.2zM628.8 298.1l5.1 9.4h-10.2zM629.1 299.6l5.1 9.4h-10.2zM629.4 299.7l5.1 9.4h-10.2zM629.8 295.9l5.1 9.4h-10.2zM630.1 298.2l5.1 9.4h-10.2zM630.4 299.8l5.1 9.4h-10.2zM630.8 296.6l5.1 9.4h-10.2zM631.1 298.4l5.1 9.4h-10.2zM631.4 298.6l5.1 9.4h-10.2zM631.7 299.9l5.1 9.4h-10.2zM632.1 298.7l5.1 9.4h-10.2zM632.4 299.6l5.1 9.4h-10.2zM632.7 298.0l5.1 9.4h-10.2zM633.1 296.2l5.1 9.4h-10.2zM633.4 276.8l5.1 9.4h-10.2zM633.7 287.3l5.1 9.4h-10.2zM634.0 294.7l5.1 9.4h-10.2zM634.4 292.5l5.1 9.4h-10.2zM634.7 290.9l5.1 9.4h-10.2zM635.0 294.6l5.1 9.4h-10.2zM635.4 273.9l5.1 9.4h-10.2zM635.7 225.7l5.1 9.4h-10.2zM636.0 246.0l5.1 9.4h-10.2zM636.3 248.8l5.1 9.4h-10.2zM636.7 259.9l5.1 9.4h-10.2zM637.0 271.2l5.1 9.4h-10.2zM637.3 290.8l5.1 9.4h-10.2zM637.7 278.4l5.1 9.4h-10.2zM638.0 284.9l5.1 9.4h-10.2zM638.3 292.3l5.1 9.4h-10.2zM638.7 297.0l5.1 9.4h-10.2zM639.0 242.3l5.1 9.4h-10.2zM639.3 282.5l5.1 9.4h-10.2zM639.6 240.3l5.1 9.4h-10.2zM640.0 208.3l5.1 9.4h-10.2zM640.3 221.3l5.1 9.4h-10.2zM640.6 209.2l5.1 9.4h-10.2zM641.0 228.8l5.1 9.4h-10.2zM641.3 235.1l5.1 9.4h-10.2zM641.6 248.9l5.1 9.4h-10.2zM641.9 269.1l5.1 9.4h-10.2zM642.3 281.4l5.1 9.4h-10.2zM642.6 262.9l5.1 9.4h-10.2zM642.9 268.3l5.1 9.4h-10.2zM643.3 286.8l5.1 9.4h-10.2zM643.6 275.0l5.1 9.4h-10.2zM643.9 263.4l5.1 9.4h-10.2zM644.2 273.0l5.1 9.4h-10.2zM644.6 272.0l5.1 9.4h-10.2zM644.9 249.6l5.1 9.4h-10.2zM645.2 267.7l5.1 9.4h-10.2zM645.6 279.9l5.1 9.4h-10.2zM645.9 287.7l5.1 9.4h-10.2zM646.2 276.3l5.1 9.4h-10.2zM646.5 284.3l5.1 9.4h-10.2zM646.9 295.7l5.1 9.4h-10.2zM647.2 296.9l5.1 9.4h-10.2zM647.5 296.8l5.1 9.4h-10.2zM647.9 280.1l5.1 9.4h-10.2zM648.2 291.4l5.1 9.4h-10.2zM648.5 295.2l5.1 9.4h-10.2zM648.8 283.5l5.1 9.4h-10.2zM649.2 293.6l5.1 9.4h-10.2zM649.5 297.7l5.1 9.4h-10.2zM649.8 294.8l5.1 9.4h-10.2zM650.2 295.6l5.1 9.4h-10.2zM650.5 287.1l5.1 9.4h-10.2zM650.8 296.4l5.1 9.4h-10.2zM651.1 295.6l5.1 9.4h-10.2zM651.5 297.2l5.1 9.4h-10.2zM651.8 299.2l5.1 9.4h-10.2zM652.1 286.1l5.1 9.4h-10.2zM652.5 295.2l5.1 9.4h-10.2zM652.8 297.7l5.1 9.4h-10.2zM653.1 288.1l5.1 9.4h-10.2zM653.4 294.9l5.1 9.4h-10.2zM653.8 295.8l5.1 9.4h-10.2zM654.1 296.0l5.1 9.4h-10.2zM654.4 295.9l5.1 9.4h-10.2zM654.8 296.9l5.1 9.4h-10.2zM655.1 296.9l5.1 9.4h-10.2zM655.4 298.0l5.1 9.4h-10.2zM655.7 299.0l5.1 9.4h-10.2zM656.1 296.9l5.1 9.4h-10.2zM656.4 290.5l5.1 9.4h-10.2zM656.7 284.8l5.1 9.4h-10.2zM657.1 288.9l5.1 9.4h-10.2zM657.4 293.3l5.1 9.4h-10.2zM657.7 295.6l5.1 9.4h-10.2zM658.0 293.0l5.1 9.4h-10.2zM658.4 290.3l5.1 9.4h-10.2zM658.7 287.6l5.1 9.4h-10.2zM659.0 298.0l5.1 9.4h-10.2zM659.4 296.3l5.1 9.4h-10.2zM659.7 293.3l5.1 9.4h-10.2zM660.0 296.9l5.1 9.4h-10.2zM660.3 298.9l5.1 9.4h-10.2zM660.7 290.7l5.1 9.4h-10.2zM661.0 296.4l5.1 9.4h-10.2zM661.3 291.5l5.1 9.4h-10.2zM661.7 287.6l5.1 9.4h-10.2zM662.0 298.1l5.1 9.4h-10.2zM662.3 294.7l5.1 9.4h-10.2zM662.7 297.0l5.1 9.4h-10.2zM663.0 297.0l5.1 9.4h-10.2zM663.3 289.8l5.1 9.4h-10.2zM663.6 288.3l5.1 9.4h-10.2zM664.0 289.1l5.1 9.4h-10.2zM664.3 295.9l5.1 9.4h-10.2zM664.6 289.6l5.1 9.4h-10.2zM665.0 295.2l5.1 9.4h-10.2zM665.3 284.0l5.1 9.4h-10.2zM665.6 291.5l5.1 9.4h-10.2zM665.9 296.7l5.1 9.4h-10.2zM666.3 289.6l5.1 9.4h-10.2zM666.6 289.5l5.1 9.4h-10.2zM666.9 284.8l5.1 9.4h-10.2zM667.3 294.6l5.1 9.4h-10.2zM667.6 297.3l5.1 9.4h-10.2zM667.9 290.5l5.1 9.4h-10.2zM668.2 293.6l5.1 9.4h-10.2zM668.6 297.3l5.1 9.4h-10.2zM668.9 297.7l5.1 9.4h-10.2zM669.2 297.4l5.1 9.4h-10.2zM669.6 290.8l5.1 9.4h-10.2zM669.9 297.6l5.1 9.4h-10.2zM670.2 289.8l5.1 9.4h-10.2zM670.5 294.5l5.1 9.4h-10.2zM670.9 293.4l5.1 9.4h-10.2zM671.2 296.5l5.1 9.4h-10.2zM671.5 294.7l5.1 9.4h-10.2zM671.9 297.4l5.1 9.4h-10.2zM672.2 289.9l5.1 9.4h-10.2zM672.5 298.0l5.1 9.4h-10.2zM672.8 295.3l5.1 9.4h-10.2zM673.2 294.9l5.1 9.4h-10.2zM673.5 297.5l5.1 9.4h-10.2zM673.8 298.5l5.1 9.4h-10.2zM674.2 298.1l5.1 9.4h-10.2zM674.5 293.7l5.1 9.4h-10.2zM674.8 296.8l5.1 9.4h-10.2zM675.1 299.1l5.1 9.4h-10.2zM675.5 291.6l5.1 9.4h-10.2zM675.8 291.4l5.1 9.4h-10.2zM676.1 295.7l5.1 9.4h-10.2zM676.5 298.5l5.1 9.4h-10.2zM676.8 292.6l5.1 9.4h-10.2zM677.1 297.2l5.1 9.4h-10.2zM677.4 298.2l5.1 9.4h-10.2zM677.8 298.5l5.1 9.4h-10.2zM678.1 297.2l5.1 9.4h-10.2zM678.4 297.3l5.1 9.4h-10.2zM678.8 296.3l5.1 9.4h-10.2zM679.1 297.8l5.1 9.4h-10.2zM679.4 295.7l5.1 9.4h-10.2zM679.7 298.4l5.1 9.4h-10.2zM680.1 295.9l5.1 9.4h-10.2zM680.4 297.2l5.1 9.4h-10.2zM680.7 299.2l5.1 9.4h-10.2zM681.1 299.3l5.1 9.4h-10.2zM681.4 299.8l5.1 9.4h-10.2zM681.7 299.2l5.1 9.4h-10.2zM682.0 297.3l5.1 9.4h-10.2zM682.4 296.4l5.1 9.4h-10.2zM682.7 298.9l5.1 9.4h-10.2zM683.0 299.0l5.1 9.4h-10.2zM683.4 300.8l5.1 9.4h-10.2zM683.7 297.4l5.1 9.4h-10.2zM684.0 297.6l5.1 9.4h-10.2zM684.3 298.6l5.1 9.4h-10.2zM684.7 299.8l5.1 9.4h-10.2zM685.0 300.1l5.1 9.4h-10.2zM685.3 298.0l5.1 9.4h-10.2zM685.7 297.7l5.1 9.4h-10.2zM686.0 298.8l5.1 9.4h-10.2zM686.3 300.8l5.1 9.4h-10.2zM686.7 299.9l5.1 9.4h-10.2zM687.0 299.5l5.1 9.4h-10.2zM687.3 300.3l5.1 9.4h-10.2zM687.6 299.6l5.1 9.4h-10.2zM688.0 298.0l5.1 9.4h-10.2zM688.3 299.3l5.1 9.4h-10.2zM688.6 300.3l5.1 9.4h-10.2zM689.0 300.3l5.1 9.4h-10.2zM689.3 300.6l5.1 9.4h-10.2zM689.6 299.0l5.1 9.4h-10.2zM689.9 299.2l5.1 9.4h-10.2zM690.3 298.7l5.1 9.4h-10.2zM690.6 299.7l5.1 9.4h-10.2zM690.9 297.5l5.1 9.4h-10.2zM691.3 296.8l5.1 9.4h-10.2zM691.6 299.2l5.1 9.4h-10.2zM691.9 300.0l5.1 9.4h-10.2zM692.2 300.2l5.1 9.4h-10.2zM692.6 300.2l5.1 9.4h-10.2zM692.9 299.2l5.1 9.4h-10.2zM693.2 299.9l5.1 9.4h-10.2zM693.6 299.0l5.1 9.4h-10.2zM693.9 300.1l5.1 9.4h-10.2zM694.2 299.0l5.1 9.4h-10.2zM694.5 299.6l5.1 9.4h-10.2zM694.9 300.1l5.1 9.4h-10.2zM695.2 300.8l5.1 9.4h-10.2zM695.5 299.8l5.1 9.4h-10.2zM695.9 297.3l5.1 9.4h-10.2zM696.2 299.6l5.1 9.4h-10.2zM696.5 300.1l5.1 9.4h-10.2zM696.8 300.6l5.1 9.4h-10.2zM697.2 300.9l5.1 9.4h-10.2zM697.5 300.6l5.1 9.4h-10.2zM697.8 299.3l5.1 9.4h-10.2zM698.2 299.5l5.1 9.4h-10.2zM698.5 299.2l5.1 9.4h-10.2zM698.8 297.5l5.1 9.4h-10.2zM699.1 298.6l5.1 9.4h-10.2zM699.5 299.4l5.1 9.4h-10.2zM699.8 298.7l5.1 9.4h-10.2zM700.1 300.5l5.1 9.4h-10.2zM700.5 300.1l5.1 9.4h-10.2zM700.8 298.2l5.1 9.4h-10.2zM701.1 298.8l5.1 9.4h-10.2zM701.4 300.4l5.1 9.4h-10.2zM701.8 300.1l5.1 9.4h-10.2zM702.1 299.1l5.1 9.4h-10.2zM702.4 299.6l5.1 9.4h-10.2zM702.8 298.2l5.1 9.4h-10.2zM703.1 300.4l5.1 9.4h-10.2zM703.4 298.9l5.1 9.4h-10.2zM703.7 298.8l5.1 9.4h-10.2zM704.1 299.0l5.1 9.4h-10.2zM704.4 299.6l5.1 9.4h-10.2zM704.7 299.5l5.1 9.4h-10.2zM705.1 299.8l5.1 9.4h-10.2zM705.4 300.5l5.1 9.4h-10.2zM705.7 300.5l5.1 9.4h-10.2zM706.0 300.4l5.1 9.4h-10.2zM706.4 298.4l5.1 9.4h-10.2zM706.7 299.8l5.1 9.4h-10.2zM707.0 299.6l5.1 9.4h-10.2zM707.4 299.2l5.1 9.4h-10.2zM707.7 299.3l5.1 9.4h-10.2zM708.0 296.7l5.1 9.4h-10.2zM708.3 299.5l5.1 9.4h-10.2zM708.7 300.1l5.1 9.4h-10.2zM709.0 300.9l5.1 9.4h-10.2zM709.3 300.7l5.1 9.4h-10.2zM709.7 300.3l5.1 9.4h-10.2zM710.0 300.3l5.1 9.4h-10.2zM710.3 299.7l5.1 9.4h-10.2zM710.7 300.4l5.1 9.4h-10.2zM711.0 299.5l5.1 9.4h-10.2zM711.3 298.3l5.1 9.4h-10.2zM711.6 300.6l5.1 9.4h-10.2zM712.0 300.2l5.1 9.4h-10.2zM712.3 299.7l5.1 9.4h-10.2zM712.6 300.5l5.1 9.4h-10.2zM713.0 300.0l5.1 9.4h-10.2zM713.3 299.7l5.1 9.4h-10.2zM713.6 300.3l5.1 9.4h-10.2zM713.9 297.6l5.1 9.4h-10.2zM714.3 298.1l5.1 9.4h-10.2zM714.6 299.6l5.1 9.4h-10.2zM714.9 299.9l5.1 9.4h-10.2zM715.3 299.7l5.1 9.4h-10.2zM715.6 298.1l5.1 9.4h-10.2zM715.9 298.5l5.1 9.4h-10.2zM716.2 297.1l5.1 9.4h-10.2zM716.6 300.7l5.1 9.4h-10.2zM716.9 300.1l5.1 9.4h-10.2zM717.2 300.3l5.1 9.4h-10.2zM717.6 300.6l5.1 9.4h-10.2zM717.9 300.9l5.1 9.4h-10.2zM718.2 299.9l5.1 9.4h-10.2zM718.5 300.2l5.1 9.4h-10.2zM718.9 299.8l5.1 9.4h-10.2zM719.2 299.9l5.1 9.4h-10.2zM719.5 298.5l5.1 9.4h-10.2zM719.9 300.4l5.1 9.4h-10.2zM720.2 299.8l5.1 9.4h-10.2zM720.5 300.1l5.1 9.4h-10.2zM720.8 300.5l5.1 9.4h-10.2zM721.2 298.9l5.1 9.4h-10.2zM721.5 300.1l5.1 9.4h-10.2zM721.8 298.8l5.1 9.4h-10.2zM722.2 299.4l5.1 9.4h-10.2zM722.5 300.3l5.1 9.4h-10.2zM722.8 299.7l5.1 9.4h-10.2zM723.1 300.4l5.1 9.4h-10.2zM723.5 300.0l5.1 9.4h-10.2zM723.8 299.0l5.1 9.4h-10.2zM724.1 297.7l5.1 9.4h-10.2zM724.5 298.4l5.1 9.4h-10.2zM724.8 300.3l5.1 9.4h-10.2zM725.1 299.9l5.1 9.4h-10.2zM725.4 298.5l5.1 9.4h-10.2zM725.8 299.9l5.1 9.4h-10.2zM726.1 300.9l5.1 9.4h-10.2zM726.4 300.3l5.1 9.4h-10.2zM726.8 299.4l5.1 9.4h-10.2zM727.1 300.3l5.1 9.4h-10.2zM727.4 299.0l5.1 9.4h-10.2zM727.7 299.9l5.1 9.4h-10.2zM728.1 299.8l5.1 9.4h-10.2zM728.4 300.4l5.1 9.4h-10.2zM728.7 298.1l5.1 9.4h-10.2zM729.1 298.5l5.1 9.4h-10.2zM729.4 299.5l5.1 9.4h-10.2zM729.7 299.6l5.1 9.4h-10.2zM730.0 298.6l5.1 9.4h-10.2zM730.4 299.7l5.1 9.4h-10.2zM730.7 296.5l5.1 9.4h-10.2zM731.0 296.9l5.1 9.4h-10.2zM731.4 299.2l5.1 9.4h-10.2zM731.7 296.5l5.1 9.4h-10.2zM732.0 300.4l5.1 9.4h-10.2zM732.3 298.5l5.1 9.4h-10.2zM732.7 299.9l5.1 9.4h-10.2zM733.0 300.1l5.1 9.4h-10.2zM733.3 299.0l5.1 9.4h-10.2zM733.7 299.7l5.1 9.4h-10.2zM734.0 298.7l5.1 9.4h-10.2zM734.3 299.3l5.1 9.4h-10.2zM734.7 300.0l5.1 9.4h-10.2zM735.0 299.8l5.1 9.4h-10.2zM735.3 300.3l5.1 9.4h-10.2zM735.6 297.8l5.1 9.4h-10.2zM736.0 298.7l5.1 9.4h-10.2zM736.3 298.1l5.1 9.4h-10.2zM736.6 297.0l5.1 9.4h-10.2zM737.0 298.6l5.1 9.4h-10.2zM737.3 297.6l5.1 9.4h-10.2zM737.6 296.3l5.1 9.4h-10.2zM737.9 299.6l5.1 9.4h-10.2zM738.3 296.5l5.1 9.4h-10.2zM738.6 299.1l5.1 9.4h-10.2zM738.9 300.2l5.1 9.4h-10.2zM739.3 300.5l5.1 9.4h-10.2zM739.6 299.7l5.1 9.4h-10.2zM739.9 297.3l5.1 9.4h-10.2zM740.2 299.7l5.1 9.4h-10.2zM740.6 299.5l5.1 9.4h-10.2zM740.9 296.9l5.1 9.4h-10.2zM741.2 297.9l5.1 9.4h-10.2zM741.6 300.3l5.1 9.4h-10.2zM741.9 300.0l5.1 9.4h-10.2zM742.2 300.4l5.1 9.4h-10.2zM742.5 300.7l5.1 9.4h-10.2zM742.9 300.7l5.1 9.4h-10.2zM743.2 297.9l5.1 9.4h-10.2zM743.5 299.5l5.1 9.4h-10.2zM743.9 300.3l5.1 9.4h-10.2zM744.2 300.3l5.1 9.4h-10.2zM744.5 299.7l5.1 9.4h-10.2zM744.8 297.1l5.1 9.4h-10.2zM745.2 297.7l5.1 9.4h-10.2zM745.5 298.1l5.1 9.4h-10.2zM745.8 296.2l5.1 9.4h-10.2zM746.2 297.2l5.1 9.4h-10.2zM746.5 300.1l5.1 9.4h-10.2zM746.8 294.4l5.1 9.4h-10.2zM747.1 295.3l5.1 9.4h-10.2zM747.5 293.7l5.1 9.4h-10.2zM747.8 297.4l5.1 9.4h-10.2zM748.1 293.6l5.1 9.4h-10.2zM748.5 294.7l5.1 9.4h-10.2zM748.8 295.1l5.1 9.4h-10.2zM749.1 296.6l5.1 9.4h-10.2zM749.4 294.3l5.1 9.4h-10.2zM749.8 298.5l5.1 9.4h-10.2zM750.1 285.0l5.1 9.4h-10.2zM750.4 294.0l5.1 9.4h-10.2zM750.8 298.8l5.1 9.4h-10.2zM751.1 288.7l5.1 9.4h-10.2zM751.4 287.0l5.1 9.4h-10.2zM751.7 295.8l5.1 9.4h-10.2zM752.1 293.3l5.1 9.4h-10.2zM752.4 259.1l5.1 9.4h-10.2zM752.7 288.0l5.1 9.4h-10.2zM753.1 291.7l5.1 9.4h-10.2zM753.4 295.5l5.1 9.4h-10.2zM753.7 287.0l5.1 9.4h-10.2zM754.0 258.8l5.1 9.4h-10.2zM754.4 252.3l5.1 9.4h-10.2zM754.7 256.2l5.1 9.4h-10.2zM755.0 260.9l5.1 9.4h-10.2zM755.4 268.4l5.1 9.4h-10.2zM755.7 245.9l5.1 9.4h-10.2zM756.0 267.7l5.1 9.4h-10.2zM756.3 288.9l5.1 9.4h-10.2zM756.7 297.3l5.1 9.4h-10.2zM757.0 293.0l5.1 9.4h-10.2zM757.3 287.4l5.1 9.4h-10.2zM757.7 291.6l5.1 9.4h-10.2zM758.0 275.8l5.1 9.4h-10.2zM758.3 290.7l5.1 9.4h-10.2zM758.7 294.3l5.1 9.4h-10.2zM759.0 283.0l5.1 9.4h-10.2zM759.3 280.3l5.1 9.4h-10.2zM759.6 289.8l5.1 9.4h-10.2zM760.0 294.4l5.1 9.4h-10.2zM760.3 293.3l5.1 9.4h-10.2zM760.6 298.0l5.1 9.4h-10.2zM761.0 284.3l5.1 9.4h-10.2zM761.3 294.5l5.1 9.4h-10.2zM761.6 288.5l5.1 9.4h-10.2zM761.9 287.0l5.1 9.4h-10.2zM762.3 282.8l5.1 9.4h-10.2zM762.6 285.7l5.1 9.4h-10.2zM762.9 255.3l5.1 9.4h-10.2zM763.3 280.4l5.1 9.4h-10.2zM763.6 287.2l5.1 9.4h-10.2zM763.9 294.7l5.1 9.4h-10.2zM764.2 297.6l5.1 9.4h-10.2zM764.6 284.7l5.1 9.4h-10.2zM764.9 289.8l5.1 9.4h-10.2zM765.2 282.5l5.1 9.4h-10.2zM765.6 295.2l5.1 9.4h-10.2zM765.9 293.5l5.1 9.4h-10.2zM766.2 270.8l5.1 9.4h-10.2zM766.5 292.7l5.1 9.4h-10.2zM766.9 294.5l5.1 9.4h-10.2zM767.2 288.9l5.1 9.4h-10.2zM767.5 278.7l5.1 9.4h-10.2zM767.9 260.3l5.1 9.4h-10.2zM768.2 279.9l5.1 9.4h-10.2zM768.5 293.1l5.1 9.4h-10.2zM768.8 279.8l5.1 9.4h-10.2zM769.2 295.0l5.1 9.4h-10.2zM769.5 296.9l5.1 9.4h-10.2zM769.8 297.3l5.1 9.4h-10.2zM770.2 297.9l5.1 9.4h-10.2zM770.5 280.4l5.1 9.4h-10.2zM770.8 285.7l5.1 9.4h-10.2zM771.1 287.2l5.1 9.4h-10.2zM771.5 270.7l5.1 9.4h-10.2zM771.8 289.9l5.1 9.4h-10.2zM772.1 282.6l5.1 9.4h-10.2zM772.5 278.8l5.1 9.4h-10.2zM772.8 292.0l5.1 9.4h-10.2zM773.1 275.3l5.1 9.4h-10.2zM773.4 295.8l5.1 9.4h-10.2zM773.8 295.5l5.1 9.4h-10.2zM774.1 291.6l5.1 9.4h-10.2zM774.4 293.5l5.1 9.4h-10.2zM774.8 296.6l5.1 9.4h-10.2zM775.1 298.9l5.1 9.4h-10.2zM775.4 298.8l5.1 9.4h-10.2zM775.7 297.8l5.1 9.4h-10.2zM776.1 297.5l5.1 9.4h-10.2zM776.4 299.5l5.1 9.4h-10.2zM776.7 295.7l5.1 9.4h-10.2zM777.1 296.2l5.1 9.4h-10.2zM777.4 300.0l5.1 9.4h-10.2zM777.7 299.1l5.1 9.4h-10.2zM778.0 297.3l5.1 9.4h-10.2zM778.4 296.3l5.1 9.4h-10.2zM778.7 296.8l5.1 9.4h-10.2zM779.0 298.4l5.1 9.4h-10.2zM779.4 293.2l5.1 9.4h-10.2zM779.7 296.0l5.1 9.4h-10.2zM780.0 286.4l5.1 9.4h-10.2zM780.3 297.7l5.1 9.4h-10.2zM780.7 297.8l5.1 9.4h-10.2zM781.0 297.1l5.1 9.4h-10.2zM781.3 298.4l5.1 9.4h-10.2zM781.7 295.3l5.1 9.4h-10.2zM782.0 298.1l5.1 9.4h-10.2zM782.3 298.1l5.1 9.4h-10.2zM782.7 298.7l5.1 9.4h-10.2zM783.0 297.3l5.1 9.4h-10.2zM783.3 297.4l5.1 9.4h-10.2zM783.6 299.0l5.1 9.4h-10.2zM784.0 298.8l5.1 9.4h-10.2zM784.3 297.5l5.1 9.4h-10.2zM784.6 295.6l5.1 9.4h-10.2zM785.0 298.4l5.1 9.4h-10.2zM785.3 295.2l5.1 9.4h-10.2zM785.6 290.7l5.1 9.4h-10.2zM785.9 296.7l5.1 9.4h-10.2zM786.3 298.9l5.1 9.4h-10.2zM786.6 299.7l5.1 9.4h-10.2zM786.9 293.3l5.1 9.4h-10.2zM787.3 294.2l5.1 9.4h-10.2zM787.6 299.0l5.1 9.4h-10.2zM787.9 298.2l5.1 9.4h-10.2zM788.2 293.1l5.1 9.4h-10.2zM788.6 291.7l5.1 9.4h-10.2zM788.9 291.3l5.1 9.4h-10.2zM789.2 297.8l5.1 9.4h-10.2zM789.6 289.9l5.1 9.4h-10.2zM789.9 295.8l5.1 9.4h-10.2zM790.2 298.4l5.1 9.4h-10.2zM790.5 299.2l5.1 9.4h-10.2zM790.9 288.3l5.1 9.4h-10.2zM791.2 296.0l5.1 9.4h-10.2zM791.5 294.6l5.1 9.4h-10.2zM791.9 297.8l5.1 9.4h-10.2zM792.2 292.8l5.1 9.4h-10.2zM792.5 296.6l5.1 9.4h-10.2zM792.8 295.3l5.1 9.4h-10.2zM793.2 299.0l5.1 9.4h-10.2zM793.5 295.9l5.1 9.4h-10.2zM793.8 295.2l5.1 9.4h-10.2zM794.2 290.9l5.1 9.4h-10.2zM794.5 289.0l5.1 9.4h-10.2zM794.8 294.7l5.1 9.4h-10.2zM795.1 298.7l5.1 9.4h-10.2zM795.5 298.8l5.1 9.4h-10.2zM795.8 299.7l5.1 9.4h-10.2zM796.1 292.9l5.1 9.4h-10.2zM796.5 298.2l5.1 9.4h-10.2zM796.8 290.6l5.1 9.4h-10.2zM797.1 295.9l5.1 9.4h-10.2zM797.4 299.0l5.1 9.4h-10.2zM797.8 295.9l5.1 9.4h-10.2zM798.1 294.9l5.1 9.4h-10.2zM798.4 297.8l5.1 9.4h-10.2zM798.8 299.8l5.1 9.4h-10.2zM799.1 299.0l5.1 9.4h-10.2zM799.4 295.6l5.1 9.4h-10.2zM799.7 296.4l5.1 9.4h-10.2zM800.1 291.0l5.1 9.4h-10.2zM800.4 297.2l5.1 9.4h-10.2zM800.7 295.3l5.1 9.4h-10.2zM801.1 295.4l5.1 9.4h-10.2zM801.4 299.2l5.1 9.4h-10.2zM801.7 295.1l5.1 9.4h-10.2zM802.0 299.1l5.1 9.4h-10.2zM802.4 300.6l5.1 9.4h-10.2zM802.7 299.3l5.1 9.4h-10.2zM803.0 299.3l5.1 9.4h-10.2zM803.4 295.7l5.1 9.4h-10.2zM803.7 296.9l5.1 9.4h-10.2zM804.0 298.2l5.1 9.4h-10.2zM804.3 298.3l5.1 9.4h-10.2zM804.7 299.5l5.1 9.4h-10.2zM805.0 298.4l5.1 9.4h-10.2zM805.3 297.8l5.1 9.4h-10.2zM805.7 299.6l5.1 9.4h-10.2zM806.0 299.7l5.1 9.4h-10.2zM806.3 300.0l5.1 9.4h-10.2zM806.7 300.2l5.1 9.4h-10.2zM807.0 298.4l5.1 9.4h-10.2zM807.3 299.0l5.1 9.4h-10.2zM807.6 297.7l5.1 9.4h-10.2zM808.0 299.5l5.1 9.4h-10.2zM808.3 300.5l5.1 9.4h-10.2zM808.6 300.6l5.1 9.4h-10.2zM809.0 299.2l5.1 9.4h-10.2zM809.3 300.2l5.1 9.4h-10.2zM809.6 299.4l5.1 9.4h-10.2zM809.9 299.8l5.1 9.4h-10.2zM810.3 300.7l5.1 9.4h-10.2zM810.6 298.0l5.1 9.4h-10.2zM810.9 300.2l5.1 9.4h-10.2zM811.3 300.1l5.1 9.4h-10.2zM811.6 299.4l5.1 9.4h-10.2zM811.9 300.5l5.1 9.4h-10.2zM812.2 298.9l5.1 9.4h-10.2zM812.6 298.3l5.1 9.4h-10.2zM812.9 299.0l5.1 9.4h-10.2zM813.2 299.0l5.1 9.4h-10.2zM813.6 300.1l5.1 9.4h-10.2zM813.9 300.2l5.1 9.4h-10.2zM814.2 300.2l5.1 9.4h-10.2zM814.5 299.0l5.1 9.4h-10.2zM814.9 300.7l5.1 9.4h-10.2zM815.2 300.2l5.1 9.4h-10.2zM815.5 300.3l5.1 9.4h-10.2zM815.9 299.1l5.1 9.4h-10.2zM816.2 300.7l5.1 9.4h-10.2zM816.5 300.9l5.1 9.4h-10.2zM816.8 299.9l5.1 9.4h-10.2zM817.2 300.4l5.1 9.4h-10.2zM817.5 299.8l5.1 9.4h-10.2zM817.8 299.2l5.1 9.4h-10.2zM818.2 300.6l5.1 9.4h-10.2zM818.5 300.0l5.1 9.4h-10.2zM818.8 300.7l5.1 9.4h-10.2zM819.1 297.9l5.1 9.4h-10.2zM819.5 300.5l5.1 9.4h-10.2zM819.8 299.8l5.1 9.4h-10.2zM820.1 299.6l5.1 9.4h-10.2zM820.5 300.2l5.1 9.4h-10.2zM820.8 299.7l5.1 9.4h-10.2zM821.1 300.3l5.1 9.4h-10.2zM821.4 300.6l5.1 9.4h-10.2zM821.8 300.2l5.1 9.4h-10.2zM822.1 300.5l5.1 9.4h-10.2zM822.4 299.7l5.1 9.4h-10.2zM822.8 299.9l5.1 9.4h-10.2zM823.1 300.7l5.1 9.4h-10.2zM823.4 299.7l5.1 9.4h-10.2zM823.7 299.0l5.1 9.4h-10.2zM824.1 299.9l5.1 9.4h-10.2zM824.4 299.6l5.1 9.4h-10.2zM824.7 300.4l5.1 9.4h-10.2zM825.1 300.2l5.1 9.4h-10.2zM825.4 300.7l5.1 9.4h-10.2zM825.7 300.9l5.1 9.4h-10.2zM826.0 300.7l5.1 9.4h-10.2zM826.4 299.3l5.1 9.4h-10.2zM826.7 299.5l5.1 9.4h-10.2zM827.0 299.8l5.1 9.4h-10.2zM827.4 300.4l5.1 9.4h-10.2zM827.7 300.5l5.1 9.4h-10.2zM828.0 300.8l5.1 9.4h-10.2zM828.3 300.0l5.1 9.4h-10.2zM828.7 299.6l5.1 9.4h-10.2zM829.0 300.1l5.1 9.4h-10.2zM829.3 300.2l5.1 9.4h-10.2zM829.7 299.2l5.1 9.4h-10.2zM830.0 299.0l5.1 9.4h-10.2zM830.3 299.6l5.1 9.4h-10.2zM830.7 299.3l5.1 9.4h-10.2zM831.0 299.0l5.1 9.4h-10.2zM831.3 300.1l5.1 9.4h-10.2zM831.6 300.8l5.1 9.4h-10.2zM832.0 300.9l5.1 9.4h-10.2zM832.3 300.0l5.1 9.4h-10.2zM832.6 299.7l5.1 9.4h-10.2zM833.0 300.8l5.1 9.4h-10.2zM833.3 298.3l5.1 9.4h-10.2zM833.6 299.4l5.1 9.4h-10.2zM833.9 298.1l5.1 9.4h-10.2zM834.3 300.2l5.1 9.4h-10.2zM834.6 300.4l5.1 9.4h-10.2zM834.9 299.7l5.1 9.4h-10.2zM835.3 299.9l5.1 9.4h-10.2zM835.6 299.6l5.1 9.4h-10.2zM835.9 300.4l5.1 9.4h-10.2zM836.2 299.8l5.1 9.4h-10.2zM836.6 300.5l5.1 9.4h-10.2zM836.9 300.0l5.1 9.4h-10.2zM837.2 298.6l5.1 9.4h-10.2zM837.6 299.8l5.1 9.4h-10.2zM837.9 298.8l5.1 9.4h-10.2zM838.2 299.3l5.1 9.4h-10.2zM838.5 300.5l5.1 9.4h-10.2zM838.9 300.1l5.1 9.4h-10.2zM839.2 299.3l5.1 9.4h-10.2zM839.5 299.0l5.1 9.4h-10.2zM839.9 300.1l5.1 9.4h-10.2zM840.2 300.2l5.1 9.4h-10.2zM840.5 300.2l5.1 9.4h-10.2zM840.8 299.8l5.1 9.4h-10.2zM841.2 299.5l5.1 9.4h-10.2zM841.5 300.1l5.1 9.4h-10.2zM841.8 299.0l5.1 9.4h-10.2zM842.2 299.6l5.1 9.4h-10.2zM842.5 299.5l5.1 9.4h-10.2zM842.8 298.7l5.1 9.4h-10.2zM843.1 300.9l5.1 9.4h-10.2zM843.5 300.9l5.1 9.4h-10.2zM843.8 300.9l5.1 9.4h-10.2zM844.1 300.4l5.1 9.4h-10.2zM844.5 299.1l5.1 9.4h-10.2zM844.8 299.7l5.1 9.4h-10.2zM845.1 299.1l5.1 9.4h-10.2zM845.4 300.1l5.1 9.4h-10.2zM845.8 300.9l5.1 9.4h-10.2zM846.1 300.6l5.1 9.4h-10.2zM846.4 299.3l5.1 9.4h-10.2zM846.8 299.8l5.1 9.4h-10.2zM847.1 300.1l5.1 9.4h-10.2zM847.4 300.5l5.1 9.4h-10.2zM847.7 299.4l5.1 9.4h-10.2zM848.1 300.5l5.1 9.4h-10.2zM848.4 300.9l5.1 9.4h-10.2zM848.7 300.0l5.1 9.4h-10.2zM849.1 300.5l5.1 9.4h-10.2zM849.4 299.3l5.1 9.4h-10.2zM849.7 299.5l5.1 9.4h-10.2zM850.0 300.3l5.1 9.4h-10.2zM850.4 299.9l5.1 9.4h-10.2zM850.7 300.5l5.1 9.4h-10.2zM851.0 299.5l5.1 9.4h-10.2zM851.4 300.9l5.1 9.4h-10.2zM851.7 297.9l5.1 9.4h-10.2zM852.0 300.3l5.1 9.4h-10.2zM852.3 300.0l5.1 9.4h-10.2zM852.7 300.7l5.1 9.4h-10.2zM853.0 300.1l5.1 9.4h-10.2zM853.3 298.3l5.1 9.4h-10.2zM853.7 299.2l5.1 9.4h-10.2zM854.0 296.7l5.1 9.4h-10.2zM854.3 299.6l5.1 9.4h-10.2zM854.7 299.6l5.1 9.4h-10.2zM855.0 297.1l5.1 9.4h-10.2zM855.3 296.5l5.1 9.4h-10.2zM855.6 297.0l5.1 9.4h-10.2zM856.0 298.1l5.1 9.4h-10.2zM856.3 300.1l5.1 9.4h-10.2zM856.6 299.5l5.1 9.4h-10.2zM857.0 297.8l5.1 9.4h-10.2zM857.3 299.7l5.1 9.4h-10.2zM857.6 299.0l5.1 9.4h-10.2zM857.9 291.7l5.1 9.4h-10.2zM858.3 297.9l5.1 9.4h-10.2zM858.6 299.7l5.1 9.4h-10.2zM858.9 300.0l5.1 9.4h-10.2zM859.3 298.1l5.1 9.4h-10.2zM859.6 293.3l5.1 9.4h-10.2zM859.9 293.3l5.1 9.4h-10.2zM860.2 291.4l5.1 9.4h-10.2zM860.6 294.3l5.1 9.4h-10.2zM860.9 286.9l5.1 9.4h-10.2zM861.2 291.1l5.1 9.4h-10.2zM861.6 292.4l5.1 9.4h-10.2zM861.9 298.8l5.1 9.4h-10.2zM862.2 295.4l5.1 9.4h-10.2zM862.5 297.7l5.1 9.4h-10.2zM862.9 297.9l5.1 9.4h-10.2zM863.2 289.9l5.1 9.4h-10.2zM863.5 273.2l5.1 9.4h-10.2zM863.9 288.9l5.1 9.4h-10.2zM864.2 289.1l5.1 9.4h-10.2zM864.5 291.9l5.1 9.4h-10.2zM864.8 297.0l5.1 9.4h-10.2zM865.2 282.6l5.1 9.4h-10.2zM865.5 286.0l5.1 9.4h-10.2zM865.8 294.1l5.1 9.4h-10.2zM866.2 296.9l5.1 9.4h-10.2zM866.5 293.8l5.1 9.4h-10.2zM866.8 287.0l5.1 9.4h-10.2zM867.1 287.8l5.1 9.4h-10.2zM867.5 296.4l5.1 9.4h-10.2zM867.8 296.0l5.1 9.4h-10.2zM868.1 297.5l5.1 9.4h-10.2zM868.5 283.3l5.1 9.4h-10.2zM868.8 295.0l5.1 9.4h-10.2zM869.1 281.5l5.1 9.4h-10.2zM869.4 283.5l5.1 9.4h-10.2zM869.8 292.7l5.1 9.4h-10.2zM870.1 290.6l5.1 9.4h-10.2zM870.4 290.4l5.1 9.4h-10.2zM870.8 272.8l5.1 9.4h-10.2zM871.1 289.3l5.1 9.4h-10.2zM871.4 291.9l5.1 9.4h-10.2zM871.7 292.7l5.1 9.4h-10.2zM872.1 275.2l5.1 9.4h-10.2zM872.4 263.9l5.1 9.4h-10.2zM872.7 280.8l5.1 9.4h-10.2zM873.1 260.4l5.1 9.4h-10.2zM873.4 256.1l5.1 9.4h-10.2zM873.7 271.2l5.1 9.4h-10.2zM874.0 264.4l5.1 9.4h-10.2zM874.4 281.9l5.1 9.4h-10.2zM874.7 290.0l5.1 9.4h-10.2zM875.0 292.7l5.1 9.4h-10.2zM875.4 292.6l5.1 9.4h-10.2zM875.7 285.4l5.1 9.4h-10.2zM876.0 272.4l5.1 9.4h-10.2zM876.3 279.3l5.1 9.4h-10.2zM876.7 276.3l5.1 9.4h-10.2zM877.0 253.2l5.1 9.4h-10.2zM877.3 276.4l5.1 9.4h-10.2zM877.7 279.9l5.1 9.4h-10.2zM878.0 261.2l5.1 9.4h-10.2zM878.3 269.3l5.1 9.4h-10.2zM878.7 283.7l5.1 9.4h-10.2zM879.0 256.8l5.1 9.4h-10.2zM879.3 278.4l5.1 9.4h-10.2zM879.6 290.3l5.1 9.4h-10.2zM880.0 275.7l5.1 9.4h-10.2zM880.3 272.4l5.1 9.4h-10.2zM880.6 285.0l5.1 9.4h-10.2zM881.0 270.1l5.1 9.4h-10.2zM881.3 284.0l5.1 9.4h-10.2zM881.6 277.7l5.1 9.4h-10.2zM881.9 252.7l5.1 9.4h-10.2zM882.3 258.1l5.1 9.4h-10.2zM882.6 263.3l5.1 9.4h-10.2zM882.9 246.8l5.1 9.4h-10.2zM883.3 258.1l5.1 9.4h-10.2zM883.6 285.6l5.1 9.4h-10.2zM883.9 252.6l5.1 9.4h-10.2zM884.2 259.0l5.1 9.4h-10.2zM884.6 159.5l5.1 9.4h-10.2zM884.9 155.3l5.1 9.4h-10.2zM885.2 161.3l5.1 9.4h-10.2zM885.6 204.6l5.1 9.4h-10.2zM885.9 169.5l5.1 9.4h-10.2zM886.2 192.5l5.1 9.4h-10.2zM886.5 204.3l5.1 9.4h-10.2zM886.9 218.3l5.1 9.4h-10.2zM887.2 219.0l5.1 9.4h-10.2zM887.5 218.3l5.1 9.4h-10.2zM887.9 214.6l5.1 9.4h-10.2zM888.2 221.1l5.1 9.4h-10.2zM888.5 231.9l5.1 9.4h-10.2zM888.8 236.9l5.1 9.4h-10.2zM889.2 254.2l5.1 9.4h-10.2zM889.5 260.8l5.1 9.4h-10.2zM889.8 244.8l5.1 9.4h-10.2zM890.2 262.3l5.1 9.4h-10.2zM890.5 259.3l5.1 9.4h-10.2zM890.8 284.7l5.1 9.4h-10.2zM891.1 292.4l5.1 9.4h-10.2zM891.5 283.7l5.1 9.4h-10.2zM891.8 295.6l5.1 9.4h-10.2zM892.1 278.8l5.1 9.4h-10.2zM892.5 290.8l5.1 9.4h-10.2zM892.8 295.9l5.1 9.4h-10.2zM893.1 297.1l5.1 9.4h-10.2zM893.4 280.0l5.1 9.4h-10.2zM893.8 283.0l5.1 9.4h-10.2zM894.1 263.0l5.1 9.4h-10.2zM894.4 280.6l5.1 9.4h-10.2zM894.8 280.4l5.1 9.4h-10.2zM895.1 290.6l5.1 9.4h-10.2zM895.4 296.3l5.1 9.4h-10.2zM895.7 282.8l5.1 9.4h-10.2zM896.1 285.7l5.1 9.4h-10.2zM896.4 294.8l5.1 9.4h-10.2zM896.7 265.4l5.1 9.4h-10.2zM897.1 284.4l5.1 9.4h-10.2zM897.4 289.0l5.1 9.4h-10.2zM897.7 285.7l5.1 9.4h-10.2zM898.0 289.5l5.1 9.4h-10.2zM898.4 277.3l5.1 9.4h-10.2zM898.7 282.1l5.1 9.4h-10.2zM899.0 290.2l5.1 9.4h-10.2zM899.4 289.1l5.1 9.4h-10.2zM899.7 280.8l5.1 9.4h-10.2zM900.0 290.2l5.1 9.4h-10.2zM900.3 282.8l5.1 9.4h-10.2zM900.7 287.2l5.1 9.4h-10.2zM901.0 283.6l5.1 9.4h-10.2zM901.3 285.3l5.1 9.4h-10.2zM901.7 256.8l5.1 9.4h-10.2zM902.0 286.8l5.1 9.4h-10.2zM902.3 280.7l5.1 9.4h-10.2zM902.7 288.1l5.1 9.4h-10.2zM903.0 293.0l5.1 9.4h-10.2zM903.3 276.0l5.1 9.4h-10.2zM903.6 286.0l5.1 9.4h-10.2zM904.0 284.5l5.1 9.4h-10.2zM904.3 293.6l5.1 9.4h-10.2zM904.6 288.5l5.1 9.4h-10.2zM905.0 294.2l5.1 9.4h-10.2zM905.3 283.9l5.1 9.4h-10.2zM905.6 290.8l5.1 9.4h-10.2zM905.9 294.4l5.1 9.4h-10.2zM906.3 295.6l5.1 9.4h-10.2zM906.6 285.8l5.1 9.4h-10.2zM906.9 287.1l5.1 9.4h-10.2zM907.3 279.6l5.1 9.4h-10.2zM907.6 292.2l5.1 9.4h-10.2zM907.9 289.9l5.1 9.4h-10.2zM908.2 294.6l5.1 9.4h-10.2zM908.6 295.1l5.1 9.4h-10.2zM908.9 294.6l5.1 9.4h-10.2zM909.2 288.4l5.1 9.4h-10.2zM909.6 279.7l5.1 9.4h-10.2zM909.9 288.6l5.1 9.4h-10.2zM910.2 291.3l5.1 9.4h-10.2zM910.5 275.5l5.1 9.4h-10.2zM910.9 287.3l5.1 9.4h-10.2zM911.2 293.5l5.1 9.4h-10.2zM911.5 287.5l5.1 9.4h-10.2zM911.9 295.3l5.1 9.4h-10.2zM912.2 289.9l5.1 9.4h-10.2zM912.5 295.0l5.1 9.4h-10.2zM912.8 297.1l5.1 9.4h-10.2zM913.2 296.7l5.1 9.4h-10.2zM913.5 293.9l5.1 9.4h-10.2zM913.8 296.4l5.1 9.4h-10.2zM914.2 298.4l5.1 9.4h-10.2zM914.5 297.4l5.1 9.4h-10.2zM914.8 296.1l5.1 9.4h-10.2zM915.1 289.8l5.1 9.4h-10.2zM915.5 296.3l5.1 9.4h-10.2zM915.8 292.9l5.1 9.4h-10.2zM916.1 298.0l5.1 9.4h-10.2zM916.5 296.8l5.1 9.4h-10.2zM916.8 299.0l5.1 9.4h-10.2zM917.1 291.7l5.1 9.4h-10.2zM917.4 296.3l5.1 9.4h-10.2zM917.8 298.2l5.1 9.4h-10.2zM918.1 299.2l5.1 9.4h-10.2zM918.4 295.3l5.1 9.4h-10.2zM918.8 297.7l5.1 9.4h-10.2zM919.1 297.8l5.1 9.4h-10.2zM919.4 294.6l5.1 9.4h-10.2zM919.7 295.3l5.1 9.4h-10.2zM920.1 299.1l5.1 9.4h-10.2zM920.4 299.1l5.1 9.4h-10.2zM920.7 296.5l5.1 9.4h-10.2zM921.1 299.5l5.1 9.4h-10.2zM921.4 299.6l5.1 9.4h-10.2zM921.7 299.2l5.1 9.4h-10.2zM922.0 297.2l5.1 9.4h-10.2zM922.4 299.8l5.1 9.4h-10.2zM922.7 300.3l5.1 9.4h-10.2zM923.0 299.9l5.1 9.4h-10.2zM923.4 298.2l5.1 9.4h-10.2zM923.7 299.1l5.1 9.4h-10.2zM924.0 300.1l5.1 9.4h-10.2zM924.3 297.4l5.1 9.4h-10.2zM924.7 299.3l5.1 9.4h-10.2zM925.0 299.5l5.1 9.4h-10.2zM925.3 299.1l5.1 9.4h-10.2zM925.7 299.2l5.1 9.4h-10.2zM926.0 299.1l5.1 9.4h-10.2zM926.3 300.3l5.1 9.4h-10.2zM926.7 298.1l5.1 9.4h-10.2zM927.0 298.7l5.1 9.4h-10.2zM927.3 298.9l5.1 9.4h-10.2zM927.6 297.6l5.1 9.4h-10.2zM928.0 298.8l5.1 9.4h-10.2zM928.3 299.5l5.1 9.4h-10.2zM928.6 299.2l5.1 9.4h-10.2zM929.0 299.3l5.1 9.4h-10.2zM929.3 297.7l5.1 9.4h-10.2zM929.6 298.1l5.1 9.4h-10.2zM929.9 300.2l5.1 9.4h-10.2zM930.3 299.8l5.1 9.4h-10.2zM930.6 299.8l5.1 9.4h-10.2zM930.9 299.5l5.1 9.4h-10.2zM931.3 300.2l5.1 9.4h-10.2zM931.6 300.9l5.1 9.4h-10.2zM931.9 300.3l5.1 9.4h-10.2zM932.2 299.1l5.1 9.4h-10.2zM932.6 297.7l5.1 9.4h-10.2zM932.9 299.6l5.1 9.4h-10.2zM933.2 300.3l5.1 9.4h-10.2zM933.6 299.4l5.1 9.4h-10.2zM933.9 299.7l5.1 9.4h-10.2zM934.2 297.3l5.1 9.4h-10.2zM934.5 299.8l5.1 9.4h-10.2zM934.9 299.5l5.1 9.4h-10.2zM935.2 300.1l5.1 9.4h-10.2zM935.5 300.9l5.1 9.4h-10.2zM935.9 300.3l5.1 9.4h-10.2zM936.2 298.6l5.1 9.4h-10.2zM936.5 300.0l5.1 9.4h-10.2zM936.8 299.4l5.1 9.4h-10.2zM937.2 300.3l5.1 9.4h-10.2zM937.5 300.1l5.1 9.4h-10.2z" fill="#9BBB59"/>
<rect x="119.7" y="7.2" width="44.5" height="12" fill="#8064A2"/>
<path d="M271.3 12.6H316.3" stroke="#4277BA" stroke-width="2.2"/>
<rect x="455.8" y="8.8" width="8.7" height="8.7" fill="#C0504D"/>
<path d="M654.5 8.7l4.7 8.8h-9.4z" fill="#9BBB59"/>
<g font-family="'Liberation Serif','Times New Roman',serif" font-size="22.6" fill="#000">
<text x="169.3" y="20.3" font-size="22.9">Rainfall</text>
<text x="321" y="20.3" font-size="22.9">Observed</text>
<text x="487" y="20.3" font-size="22.9">ANN-QPSO</text>
<text x="682" y="20.3" font-size="22.9">ANN</text>
<text x="78.6" y="35.6" text-anchor="end" font-size="23.4">2400</text>
<text x="78.6" y="105.3" text-anchor="end" font-size="23.4">1800</text>
<text x="78.6" y="175.1" text-anchor="end" font-size="23.4">1200</text>
<text x="78.6" y="244.8" text-anchor="end" font-size="23.4">600</text>
<text x="78.6" y="314.6" text-anchor="end" font-size="23.4">0</text>
<text x="957.6" y="35.6" font-size="23.4">0</text>
<text x="957.6" y="105.3" font-size="23.4">50</text>
<text x="957.6" y="175.1" font-size="23.4">100</text>
<text x="957.6" y="244.8" font-size="23.4">150</text>
<text x="957.6" y="314.6" font-size="23.4">200</text>
<text x="97.5" y="341.8" text-anchor="middle">2006-01-01</text>
<text x="217.5" y="341.8" text-anchor="middle">2007-01-01</text>
<text x="337.5" y="341.8" text-anchor="middle">2008-01-01</text>
<text x="457.5" y="341.8" text-anchor="middle">2008-12-31</text>
<text x="577.5" y="341.8" text-anchor="middle">2009-12-31</text>
<text x="697.5" y="341.8" text-anchor="middle">2010-12-31</text>
<text x="817.5" y="341.8" text-anchor="middle">2011-12-31</text>
<text x="937.5" y="341.8" text-anchor="middle">2012-12-30</text>
</g>
<g font-family="'Liberation Serif','Times New Roman',serif" font-size="22.5" font-weight="bold" fill="#000">
<text x="518.2" y="367.5" text-anchor="middle">Date</text>
<text transform="translate(21.2 167.5) rotate(-90)" text-anchor="middle">Runoff(m<tspan font-size="14.6" dy="-7.5">3</tspan><tspan dy="7.5">/s)</tspan></text>
<text transform="translate(1015.6 167.3) rotate(-90)" text-anchor="middle">Rainfall(nn)</text>
</g>
</svg>
</body></html>
